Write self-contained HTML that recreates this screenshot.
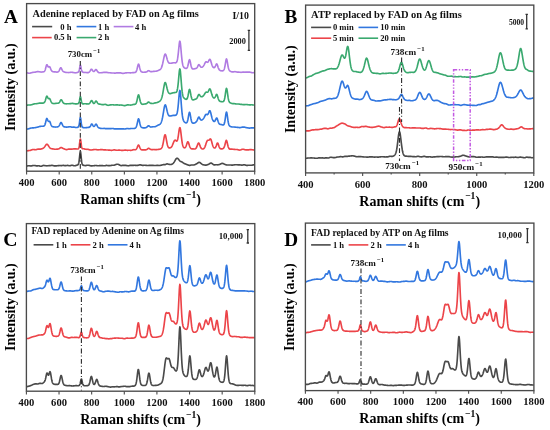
<!DOCTYPE html><html><head><meta charset="utf-8"><style>html,body{margin:0;padding:0;background:#fff;}svg{display:block}</style></head><body>
<svg width="550" height="430" viewBox="0 0 550 430">
<rect width="550" height="430" fill="#fff"/>
<defs>
<clipPath id="clipA"><rect x="26.6" y="3.6" width="228.1" height="167.6"/></clipPath>
<clipPath id="clipB"><rect x="305.6" y="5.1" width="228.19999999999993" height="167.8"/></clipPath>
<clipPath id="clipC"><rect x="26.4" y="223.6" width="228.4" height="167.6"/></clipPath>
<clipPath id="clipD"><rect x="305.4" y="223.1" width="228.5" height="167.50000000000003"/></clipPath>
</defs>
<g clip-path="url(#clipA)" fill="none" stroke-width="1.65" stroke-linejoin="round">
<polyline points="26.60,73.01 26.85,72.95 27.11,72.92 27.36,72.92 27.61,72.95 27.87,73.00 28.12,73.06 28.38,73.13 28.63,73.19 28.88,73.23 29.14,73.25 29.39,73.25 29.64,73.23 29.90,73.19 30.15,73.13 30.41,73.06 30.66,72.98 30.91,72.90 31.17,72.82 31.42,72.74 31.67,72.67 31.93,72.60 32.18,72.53 32.44,72.47 32.69,72.42 32.94,72.37 33.20,72.33 33.45,72.29 33.70,72.26 33.96,72.24 34.21,72.22 34.47,72.20 34.72,72.19 34.97,72.16 35.23,72.13 35.48,72.08 35.73,72.02 35.99,71.94 36.24,71.87 36.50,71.80 36.75,71.74 37.00,71.69 37.26,71.66 37.51,71.65 37.76,71.64 38.02,71.63 38.27,71.66 38.53,71.68 38.78,71.70 39.03,71.72 39.29,71.75 39.54,71.78 39.79,71.83 40.05,71.89 40.30,71.95 40.55,72.00 40.81,72.04 41.06,72.06 41.32,72.06 41.57,72.05 41.82,72.02 42.08,71.99 42.33,71.95 42.58,71.92 42.84,71.88 43.09,71.85 43.35,71.81 43.60,71.75 43.85,71.67 44.11,71.55 44.36,71.35 44.61,71.04 44.87,70.60 45.12,70.00 45.38,69.23 45.63,68.32 45.88,67.33 46.14,66.34 46.39,65.49 46.64,64.92 46.90,64.74 47.15,64.94 47.41,65.41 47.66,65.97 47.91,66.49 48.17,66.85 48.42,67.02 48.67,67.01 48.93,66.89 49.18,66.74 49.44,66.68 49.69,66.80 49.94,67.13 50.20,67.63 50.45,68.24 50.70,68.88 50.96,69.49 51.21,70.03 51.47,70.49 51.72,70.85 51.97,71.13 52.23,71.34 52.48,71.49 52.73,71.60 52.99,71.69 53.24,71.74 53.49,71.79 53.75,71.82 54.00,71.84 54.26,71.85 54.51,71.86 54.76,71.87 55.02,71.88 55.27,71.91 55.52,71.94 55.78,71.97 56.03,72.01 56.29,72.04 56.54,72.07 56.79,72.09 57.05,72.09 57.30,72.08 57.55,72.04 57.81,71.97 58.06,71.86 58.32,71.69 58.57,71.46 58.82,71.15 59.08,70.75 59.33,70.27 59.58,69.73 59.84,69.16 60.09,68.62 60.35,68.17 60.60,67.88 60.85,67.81 61.11,67.98 61.36,68.35 61.61,68.84 61.87,69.37 62.12,69.89 62.38,70.35 62.63,70.75 62.88,71.06 63.14,71.31 63.39,71.50 63.64,71.65 63.90,71.78 64.15,71.90 64.41,72.00 64.66,72.10 64.91,72.19 65.17,72.26 65.42,72.32 65.67,72.36 65.93,72.39 66.18,72.42 66.44,72.45 66.69,72.47 66.94,72.49 67.20,72.51 67.45,72.53 67.70,72.54 67.96,72.54 68.21,72.55 68.46,72.55 68.72,72.55 68.97,72.54 69.23,72.53 69.48,72.51 69.73,72.48 69.99,72.44 70.24,72.39 70.49,72.34 70.75,72.30 71.00,72.27 71.26,72.26 71.51,72.26 71.76,72.28 72.02,72.31 72.27,72.35 72.52,72.38 72.78,72.41 73.03,72.45 73.29,72.49 73.54,72.53 73.79,72.58 74.05,72.64 74.30,72.70 74.55,72.75 74.81,72.79 75.06,72.82 75.32,72.82 75.57,72.80 75.82,72.77 76.08,72.73 76.33,72.69 76.58,72.65 76.84,72.60 77.09,72.54 77.35,72.47 77.60,72.39 77.85,72.29 78.11,72.16 78.36,71.98 78.61,71.69 78.87,71.21 79.12,70.47 79.38,69.40 79.63,68.05 79.88,66.63 80.14,65.50 80.39,65.12 80.64,65.68 80.90,66.91 81.15,68.34 81.40,69.64 81.66,70.63 81.91,71.29 82.17,71.69 82.42,71.93 82.67,72.08 82.93,72.18 83.18,72.27 83.43,72.33 83.69,72.39 83.94,72.42 84.20,72.44 84.45,72.45 84.70,72.45 84.96,72.44 85.21,72.44 85.46,72.45 85.72,72.46 85.97,72.48 86.23,72.52 86.48,72.56 86.73,72.61 86.99,72.65 87.24,72.68 87.49,72.69 87.75,72.69 88.00,72.66 88.26,72.59 88.51,72.51 88.76,72.38 89.02,72.21 89.27,72.00 89.52,71.73 89.78,71.40 90.03,71.02 90.29,70.60 90.54,70.16 90.79,69.76 91.05,69.43 91.30,69.24 91.55,69.23 91.81,69.38 92.06,69.68 92.32,70.05 92.57,70.45 92.82,70.81 93.08,71.11 93.33,71.33 93.58,71.45 93.84,71.47 94.09,71.38 94.34,71.19 94.60,70.92 94.85,70.60 95.11,70.25 95.36,69.91 95.61,69.65 95.87,69.51 96.12,69.54 96.37,69.73 96.63,70.05 96.88,70.44 97.14,70.85 97.39,71.24 97.64,71.60 97.90,71.91 98.15,72.15 98.40,72.36 98.66,72.51 98.91,72.62 99.17,72.70 99.42,72.76 99.67,72.78 99.93,72.80 100.18,72.79 100.43,72.78 100.69,72.77 100.94,72.75 101.20,72.73 101.45,72.70 101.70,72.68 101.96,72.64 102.21,72.61 102.46,72.58 102.72,72.54 102.97,72.50 103.23,72.47 103.48,72.43 103.73,72.41 103.99,72.38 104.24,72.36 104.49,72.35 104.75,72.34 105.00,72.33 105.26,72.33 105.51,72.33 105.76,72.34 106.02,72.34 106.27,72.35 106.52,72.36 106.78,72.39 107.03,72.42 107.28,72.47 107.54,72.52 107.79,72.58 108.05,72.63 108.30,72.67 108.55,72.70 108.81,72.73 109.06,72.74 109.31,72.74 109.57,72.75 109.82,72.76 110.08,72.78 110.33,72.80 110.58,72.83 110.84,72.86 111.09,72.89 111.34,72.93 111.60,72.95 111.85,72.97 112.11,72.97 112.36,72.97 112.61,72.96 112.87,72.96 113.12,72.96 113.37,72.98 113.63,73.01 113.88,73.05 114.14,73.08 114.39,73.11 114.64,73.13 114.90,73.13 115.15,73.12 115.40,73.09 115.66,73.06 115.91,73.01 116.17,72.97 116.42,72.92 116.67,72.88 116.93,72.85 117.18,72.83 117.43,72.82 117.69,72.82 117.94,72.83 118.20,72.84 118.45,72.85 118.70,72.86 118.96,72.86 119.21,72.85 119.46,72.83 119.72,72.82 119.97,72.82 120.23,72.83 120.48,72.85 120.73,72.90 120.99,72.95 121.24,73.02 121.49,73.09 121.75,73.16 122.00,73.22 122.25,73.28 122.51,73.32 122.76,73.34 123.02,73.35 123.27,73.35 123.52,73.33 123.78,73.30 124.03,73.25 124.28,73.20 124.54,73.14 124.79,73.07 125.05,73.01 125.30,72.94 125.55,72.89 125.81,72.85 126.06,72.82 126.31,72.81 126.57,72.80 126.82,72.80 127.08,72.79 127.33,72.78 127.58,72.77 127.84,72.75 128.09,72.73 128.34,72.71 128.60,72.70 128.85,72.71 129.11,72.73 129.36,72.75 129.61,72.79 129.87,72.82 130.12,72.84 130.37,72.84 130.63,72.84 130.88,72.81 131.14,72.79 131.39,72.76 131.64,72.73 131.90,72.71 132.15,72.70 132.40,72.69 132.66,72.68 132.91,72.67 133.17,72.65 133.42,72.63 133.67,72.61 133.93,72.59 134.18,72.56 134.43,72.54 134.69,72.50 134.94,72.45 135.19,72.38 135.45,72.26 135.70,72.09 135.96,71.83 136.21,71.45 136.46,70.93 136.72,70.25 136.97,69.39 137.22,68.38 137.48,67.28 137.73,66.17 137.99,65.18 138.24,64.45 138.49,64.13 138.75,64.28 139.00,64.87 139.25,65.77 139.51,66.83 139.76,67.91 140.02,68.91 140.27,69.78 140.52,70.49 140.78,71.03 141.03,71.42 141.28,71.69 141.54,71.87 141.79,71.99 142.05,72.06 142.30,72.12 142.55,72.16 142.81,72.20 143.06,72.22 143.31,72.24 143.57,72.24 143.82,72.23 144.08,72.22 144.33,72.20 144.58,72.18 144.84,72.16 145.09,72.15 145.34,72.13 145.60,72.11 145.85,72.07 146.11,72.02 146.36,71.95 146.61,71.84 146.87,71.70 147.12,71.53 147.37,71.34 147.63,71.15 147.88,70.96 148.13,70.80 148.39,70.70 148.64,70.68 148.90,70.74 149.15,70.85 149.40,70.99 149.66,71.15 149.91,71.30 150.16,71.44 150.42,71.54 150.67,71.62 150.93,71.67 151.18,71.69 151.43,71.69 151.69,71.67 151.94,71.63 152.19,71.59 152.45,71.55 152.70,71.51 152.96,71.47 153.21,71.43 153.46,71.40 153.72,71.38 153.97,71.35 154.22,71.33 154.48,71.31 154.73,71.29 154.99,71.27 155.24,71.25 155.49,71.23 155.75,71.20 156.00,71.17 156.25,71.13 156.51,71.08 156.76,71.02 157.02,70.95 157.27,70.87 157.52,70.78 157.78,70.68 158.03,70.57 158.28,70.45 158.54,70.34 158.79,70.22 159.05,70.10 159.30,69.98 159.55,69.85 159.81,69.71 160.06,69.54 160.31,69.34 160.57,69.09 160.82,68.78 161.07,68.39 161.33,67.92 161.58,67.34 161.84,66.66 162.09,65.86 162.34,64.94 162.60,63.92 162.85,62.80 163.10,61.62 163.36,60.38 163.61,59.14 163.87,57.94 164.12,56.81 164.37,55.81 164.63,55.00 164.88,54.43 165.13,54.14 165.39,54.15 165.64,54.43 165.90,54.95 166.15,55.65 166.40,56.48 166.66,57.38 166.91,58.30 167.16,59.19 167.42,60.02 167.67,60.76 167.93,61.41 168.18,61.95 168.43,62.38 168.69,62.71 168.94,62.95 169.19,63.11 169.45,63.21 169.70,63.26 169.96,63.29 170.21,63.29 170.46,63.27 170.72,63.25 170.97,63.23 171.22,63.20 171.48,63.16 171.73,63.12 171.99,63.07 172.24,63.02 172.49,62.97 172.75,62.91 173.00,62.85 173.25,62.80 173.51,62.77 173.76,62.74 174.02,62.74 174.27,62.75 174.52,62.77 174.78,62.80 175.03,62.83 175.28,62.84 175.54,62.83 175.79,62.78 176.04,62.67 176.30,62.47 176.55,62.15 176.81,61.66 177.06,60.96 177.31,59.99 177.57,58.72 177.82,57.11 178.07,55.16 178.33,52.89 178.58,50.40 178.84,47.80 179.09,45.32 179.34,43.19 179.60,41.71 179.85,41.15 180.10,41.63 180.36,43.10 180.61,45.36 180.87,48.10 181.12,51.05 181.37,53.97 181.63,56.70 181.88,59.12 182.13,61.17 182.39,62.86 182.64,64.21 182.90,65.26 183.15,66.05 183.40,66.65 183.66,67.10 183.91,67.44 184.16,67.69 184.42,67.88 184.67,68.02 184.93,68.13 185.18,68.22 185.43,68.30 185.69,68.36 185.94,68.40 186.19,68.40 186.45,68.35 186.70,68.22 186.96,67.98 187.21,67.60 187.46,67.04 187.72,66.30 187.97,65.36 188.22,64.26 188.48,63.05 188.73,61.84 188.98,60.76 189.24,59.99 189.49,59.69 189.75,59.93 190.00,60.67 190.25,61.77 190.51,63.03 190.76,64.31 191.01,65.50 191.27,66.52 191.52,67.34 191.78,67.96 192.03,68.40 192.28,68.69 192.54,68.86 192.79,68.95 193.04,68.99 193.30,68.98 193.55,68.96 193.81,68.92 194.06,68.88 194.31,68.82 194.57,68.77 194.82,68.71 195.07,68.65 195.33,68.59 195.58,68.53 195.84,68.46 196.09,68.38 196.34,68.25 196.60,68.07 196.85,67.82 197.10,67.49 197.36,67.07 197.61,66.58 197.87,66.05 198.12,65.52 198.37,65.07 198.63,64.75 198.88,64.63 199.13,64.71 199.39,64.97 199.64,65.34 199.90,65.76 200.15,66.17 200.40,66.53 200.66,66.83 200.91,67.06 201.16,67.21 201.42,67.29 201.67,67.30 201.92,67.25 202.18,67.14 202.43,66.98 202.69,66.77 202.94,66.51 203.19,66.22 203.45,65.88 203.70,65.50 203.95,65.08 204.21,64.62 204.46,64.12 204.72,63.61 204.97,63.10 205.22,62.63 205.48,62.23 205.73,61.94 205.98,61.78 206.24,61.76 206.49,61.85 206.75,62.00 207.00,62.17 207.25,62.29 207.51,62.32 207.76,62.24 208.01,62.02 208.27,61.67 208.52,61.22 208.78,60.71 209.03,60.20 209.28,59.74 209.54,59.43 209.79,59.32 210.04,59.44 210.30,59.81 210.55,60.39 210.81,61.13 211.06,61.96 211.31,62.82 211.57,63.68 211.82,64.48 212.07,65.21 212.33,65.84 212.58,66.37 212.84,66.81 213.09,67.14 213.34,67.39 213.60,67.56 213.85,67.64 214.10,67.65 214.36,67.56 214.61,67.38 214.86,67.08 215.12,66.68 215.37,66.18 215.63,65.61 215.88,65.02 216.13,64.47 216.39,64.08 216.64,63.91 216.89,64.04 217.15,64.45 217.40,65.07 217.66,65.83 217.91,66.63 218.16,67.41 218.42,68.12 218.67,68.73 218.92,69.24 219.18,69.65 219.43,69.97 219.69,70.20 219.94,70.38 220.19,70.51 220.45,70.60 220.70,70.67 220.95,70.72 221.21,70.76 221.46,70.80 221.72,70.82 221.97,70.84 222.22,70.84 222.48,70.82 222.73,70.78 222.98,70.69 223.24,70.55 223.49,70.34 223.75,70.03 224.00,69.59 224.25,68.98 224.51,68.16 224.76,67.12 225.01,65.84 225.27,64.38 225.52,62.83 225.78,61.31 226.03,60.02 226.28,59.18 226.54,58.95 226.79,59.39 227.04,60.41 227.30,61.81 227.55,63.37 227.81,64.91 228.06,66.33 228.31,67.54 228.57,68.53 228.82,69.30 229.07,69.89 229.33,70.32 229.58,70.64 229.83,70.89 230.09,71.08 230.34,71.24 230.60,71.37 230.85,71.50 231.10,71.61 231.36,71.71 231.61,71.80 231.86,71.86 232.12,71.91 232.37,71.93 232.63,71.92 232.88,71.91 233.13,71.88 233.39,71.85 233.64,71.81 233.89,71.78 234.15,71.74 234.40,71.71 234.66,71.69 234.91,71.68 235.16,71.68 235.42,71.70 235.67,71.74 235.92,71.79 236.18,71.86 236.43,71.93 236.69,71.99 236.94,72.05 237.19,72.10 237.45,72.13 237.70,72.15 237.95,72.16 238.21,72.17 238.46,72.17 238.72,72.17 238.97,72.18 239.22,72.19 239.48,72.21 239.73,72.23 239.98,72.25 240.24,72.28 240.49,72.30 240.75,72.32 241.00,72.33 241.25,72.32 241.51,72.30 241.76,72.28 242.01,72.25 242.27,72.22 242.52,72.18 242.77,72.16 243.03,72.14 243.28,72.13 243.54,72.13 243.79,72.13 244.04,72.15 244.30,72.17 244.55,72.18 244.80,72.20 245.06,72.20 245.31,72.19 245.57,72.18 245.82,72.16 246.07,72.15 246.33,72.13 246.58,72.12 246.83,72.10 247.09,72.09 247.34,72.08 247.60,72.07 247.85,72.06 248.10,72.05 248.36,72.05 248.61,72.05 248.86,72.06 249.12,72.07 249.37,72.10 249.63,72.12 249.88,72.16 250.13,72.20 250.39,72.25 250.64,72.30 250.89,72.37 251.15,72.45 251.40,72.52 251.66,72.59 251.91,72.65 252.16,72.69 252.42,72.72 252.67,72.73 252.92,72.72 253.18,72.70 253.43,72.66 253.69,72.61 253.94,72.57 254.19,72.52 254.45,72.49 254.70,72.47" stroke="#b07be2"/>
<polyline points="26.60,105.19 26.85,105.16 27.11,105.13 27.36,105.10 27.61,105.07 27.87,105.04 28.12,105.01 28.38,104.99 28.63,104.98 28.88,104.97 29.14,104.97 29.39,104.98 29.64,104.99 29.90,105.00 30.15,104.99 30.41,104.97 30.66,104.93 30.91,104.88 31.17,104.82 31.42,104.76 31.67,104.69 31.93,104.63 32.18,104.56 32.44,104.49 32.69,104.41 32.94,104.33 33.20,104.24 33.45,104.15 33.70,104.06 33.96,103.97 34.21,103.89 34.47,103.82 34.72,103.77 34.97,103.74 35.23,103.73 35.48,103.73 35.73,103.74 35.99,103.74 36.24,103.73 36.50,103.71 36.75,103.67 37.00,103.63 37.26,103.57 37.51,103.51 37.76,103.45 38.02,103.40 38.27,103.34 38.53,103.29 38.78,103.24 39.03,103.19 39.29,103.14 39.54,103.10 39.79,103.08 40.05,103.08 40.30,103.09 40.55,103.10 40.81,103.11 41.06,103.13 41.32,103.15 41.57,103.17 41.82,103.18 42.08,103.19 42.33,103.19 42.58,103.18 42.84,103.15 43.09,103.11 43.35,103.05 43.60,102.97 43.85,102.85 44.11,102.68 44.36,102.44 44.61,102.10 44.87,101.64 45.12,101.04 45.38,100.31 45.63,99.45 45.88,98.52 46.14,97.61 46.39,96.84 46.64,96.33 46.90,96.19 47.15,96.40 47.41,96.88 47.66,97.44 47.91,97.97 48.17,98.35 48.42,98.56 48.67,98.60 48.93,98.53 49.18,98.45 49.44,98.46 49.69,98.63 49.94,99.00 50.20,99.53 50.45,100.14 50.70,100.78 50.96,101.38 51.21,101.92 51.47,102.37 51.72,102.72 51.97,102.99 52.23,103.19 52.48,103.33 52.73,103.42 52.99,103.48 53.24,103.52 53.49,103.55 53.75,103.56 54.00,103.57 54.26,103.56 54.51,103.55 54.76,103.53 55.02,103.49 55.27,103.46 55.52,103.42 55.78,103.38 56.03,103.35 56.29,103.32 56.54,103.30 56.79,103.28 57.05,103.27 57.30,103.25 57.55,103.24 57.81,103.22 58.06,103.19 58.32,103.15 58.57,103.07 58.82,102.94 59.08,102.75 59.33,102.48 59.58,102.13 59.84,101.70 60.09,101.22 60.35,100.72 60.60,100.26 60.85,99.92 61.11,99.75 61.36,99.80 61.61,100.06 61.87,100.46 62.12,100.93 62.38,101.43 62.63,101.91 62.88,102.33 63.14,102.69 63.39,102.97 63.64,103.19 63.90,103.35 64.15,103.48 64.41,103.57 64.66,103.64 64.91,103.69 65.17,103.74 65.42,103.77 65.67,103.80 65.93,103.81 66.18,103.81 66.44,103.80 66.69,103.80 66.94,103.79 67.20,103.78 67.45,103.78 67.70,103.79 67.96,103.79 68.21,103.79 68.46,103.78 68.72,103.77 68.97,103.74 69.23,103.72 69.48,103.70 69.73,103.68 69.99,103.66 70.24,103.64 70.49,103.62 70.75,103.59 71.00,103.56 71.26,103.52 71.51,103.48 71.76,103.44 72.02,103.42 72.27,103.40 72.52,103.42 72.78,103.44 73.03,103.49 73.29,103.54 73.54,103.59 73.79,103.64 74.05,103.68 74.30,103.72 74.55,103.75 74.81,103.79 75.06,103.82 75.32,103.85 75.57,103.88 75.82,103.90 76.08,103.90 76.33,103.90 76.58,103.88 76.84,103.85 77.09,103.82 77.35,103.78 77.60,103.73 77.85,103.68 78.11,103.60 78.36,103.46 78.61,103.21 78.87,102.77 79.12,102.03 79.38,100.96 79.63,99.59 79.88,98.14 80.14,96.99 80.39,96.60 80.64,97.17 80.90,98.42 81.15,99.90 81.40,101.25 81.66,102.30 81.91,103.02 82.17,103.46 82.42,103.70 82.67,103.82 82.93,103.87 83.18,103.88 83.43,103.87 83.69,103.84 83.94,103.80 84.20,103.77 84.45,103.74 84.70,103.73 84.96,103.73 85.21,103.74 85.46,103.76 85.72,103.78 85.97,103.80 86.23,103.82 86.48,103.84 86.73,103.86 86.99,103.88 87.24,103.91 87.49,103.93 87.75,103.95 88.00,103.97 88.26,103.96 88.51,103.94 88.76,103.88 89.02,103.78 89.27,103.63 89.52,103.41 89.78,103.12 90.03,102.77 90.29,102.35 90.54,101.91 90.79,101.46 91.05,101.06 91.30,100.75 91.55,100.60 91.81,100.64 92.06,100.88 92.32,101.28 92.57,101.77 92.82,102.27 93.08,102.74 93.33,103.11 93.58,103.37 93.84,103.48 94.09,103.44 94.34,103.27 94.60,102.98 94.85,102.60 95.11,102.17 95.36,101.74 95.61,101.39 95.87,101.16 96.12,101.10 96.37,101.23 96.63,101.50 96.88,101.87 97.14,102.27 97.39,102.67 97.64,103.03 97.90,103.34 98.15,103.59 98.40,103.79 98.66,103.92 98.91,104.02 99.17,104.08 99.42,104.12 99.67,104.15 99.93,104.18 100.18,104.22 100.43,104.26 100.69,104.32 100.94,104.38 101.20,104.44 101.45,104.50 101.70,104.56 101.96,104.60 102.21,104.63 102.46,104.64 102.72,104.65 102.97,104.64 103.23,104.62 103.48,104.60 103.73,104.57 103.99,104.54 104.24,104.49 104.49,104.45 104.75,104.41 105.00,104.39 105.26,104.38 105.51,104.40 105.76,104.45 106.02,104.53 106.27,104.63 106.52,104.76 106.78,104.89 107.03,105.02 107.28,105.13 107.54,105.23 107.79,105.29 108.05,105.31 108.30,105.31 108.55,105.27 108.81,105.21 109.06,105.15 109.31,105.08 109.57,105.02 109.82,104.97 110.08,104.93 110.33,104.91 110.58,104.88 110.84,104.86 111.09,104.83 111.34,104.81 111.60,104.78 111.85,104.75 112.11,104.73 112.36,104.73 112.61,104.73 112.87,104.75 113.12,104.79 113.37,104.83 113.63,104.87 113.88,104.91 114.14,104.95 114.39,104.97 114.64,104.98 114.90,104.99 115.15,104.97 115.40,104.96 115.66,104.93 115.91,104.90 116.17,104.88 116.42,104.86 116.67,104.86 116.93,104.86 117.18,104.88 117.43,104.91 117.69,104.94 117.94,104.97 118.20,105.00 118.45,105.03 118.70,105.05 118.96,105.06 119.21,105.06 119.46,105.07 119.72,105.06 119.97,105.05 120.23,105.05 120.48,105.04 120.73,105.03 120.99,105.03 121.24,105.05 121.49,105.07 121.75,105.11 122.00,105.15 122.25,105.21 122.51,105.26 122.76,105.32 123.02,105.38 123.27,105.44 123.52,105.50 123.78,105.54 124.03,105.58 124.28,105.61 124.54,105.62 124.79,105.60 125.05,105.57 125.30,105.52 125.55,105.45 125.81,105.36 126.06,105.28 126.31,105.18 126.57,105.10 126.82,105.02 127.08,104.96 127.33,104.93 127.58,104.91 127.84,104.90 128.09,104.91 128.34,104.93 128.60,104.94 128.85,104.96 129.11,104.97 129.36,104.99 129.61,105.01 129.87,105.03 130.12,105.05 130.37,105.06 130.63,105.07 130.88,105.06 131.14,105.04 131.39,105.00 131.64,104.95 131.90,104.89 132.15,104.82 132.40,104.74 132.66,104.67 132.91,104.59 133.17,104.52 133.42,104.47 133.67,104.43 133.93,104.40 134.18,104.38 134.43,104.38 134.69,104.36 134.94,104.31 135.19,104.23 135.45,104.08 135.70,103.84 135.96,103.50 136.21,103.02 136.46,102.39 136.72,101.58 136.97,100.60 137.22,99.48 137.48,98.26 137.73,97.04 137.99,95.96 138.24,95.18 138.49,94.85 138.75,95.04 139.00,95.71 139.25,96.72 139.51,97.90 139.76,99.11 140.02,100.24 140.27,101.23 140.52,102.05 140.78,102.69 141.03,103.18 141.28,103.55 141.54,103.82 141.79,104.01 142.05,104.15 142.30,104.24 142.55,104.30 142.81,104.32 143.06,104.31 143.31,104.27 143.57,104.23 143.82,104.17 144.08,104.11 144.33,104.05 144.58,104.01 144.84,103.97 145.09,103.94 145.34,103.92 145.60,103.89 145.85,103.85 146.11,103.79 146.36,103.70 146.61,103.57 146.87,103.39 147.12,103.17 147.37,102.91 147.63,102.64 147.88,102.39 148.13,102.18 148.39,102.06 148.64,102.04 148.90,102.13 149.15,102.30 149.40,102.51 149.66,102.73 149.91,102.93 150.16,103.10 150.42,103.23 150.67,103.32 150.93,103.37 151.18,103.40 151.43,103.42 151.69,103.44 151.94,103.47 152.19,103.50 152.45,103.52 152.70,103.53 152.96,103.53 153.21,103.49 153.46,103.43 153.72,103.34 153.97,103.24 154.22,103.13 154.48,103.04 154.73,102.95 154.99,102.90 155.24,102.86 155.49,102.83 155.75,102.81 156.00,102.78 156.25,102.74 156.51,102.68 156.76,102.61 157.02,102.53 157.27,102.45 157.52,102.36 157.78,102.27 158.03,102.17 158.28,102.05 158.54,101.93 158.79,101.79 159.05,101.63 159.30,101.46 159.55,101.27 159.81,101.06 160.06,100.82 160.31,100.55 160.57,100.22 160.82,99.84 161.07,99.38 161.33,98.83 161.58,98.18 161.84,97.42 162.09,96.54 162.34,95.53 162.60,94.38 162.85,93.10 163.10,91.71 163.36,90.23 163.61,88.72 163.87,87.22 164.12,85.81 164.37,84.56 164.63,83.56 164.88,82.87 165.13,82.54 165.39,82.58 165.64,82.97 165.90,83.65 166.15,84.54 166.40,85.57 166.66,86.66 166.91,87.75 167.16,88.80 167.42,89.75 167.67,90.60 167.93,91.32 168.18,91.93 168.43,92.42 168.69,92.81 168.94,93.11 169.19,93.33 169.45,93.48 169.70,93.58 169.96,93.63 170.21,93.64 170.46,93.61 170.72,93.55 170.97,93.48 171.22,93.39 171.48,93.30 171.73,93.21 171.99,93.12 172.24,93.05 172.49,92.98 172.75,92.91 173.00,92.85 173.25,92.79 173.51,92.74 173.76,92.69 174.02,92.64 174.27,92.60 174.52,92.58 174.78,92.56 175.03,92.55 175.28,92.54 175.54,92.52 175.79,92.48 176.04,92.39 176.30,92.22 176.55,91.93 176.81,91.47 177.06,90.78 177.31,89.79 177.57,88.44 177.82,86.70 178.07,84.55 178.33,82.04 178.58,79.26 178.84,76.36 179.09,73.57 179.34,71.20 179.60,69.55 179.85,68.93 180.10,69.48 180.36,71.16 180.61,73.71 180.87,76.81 181.12,80.14 181.37,83.42 181.63,86.46 181.88,89.14 182.13,91.38 182.39,93.19 182.64,94.60 182.90,95.67 183.15,96.46 183.40,97.06 183.66,97.51 183.91,97.86 184.16,98.15 184.42,98.39 184.67,98.60 184.93,98.79 185.18,98.96 185.43,99.10 185.69,99.22 185.94,99.31 186.19,99.34 186.45,99.30 186.70,99.17 186.96,98.91 187.21,98.49 187.46,97.87 187.72,97.03 187.97,95.97 188.22,94.72 188.48,93.33 188.73,91.94 188.98,90.68 189.24,89.76 189.49,89.36 189.75,89.56 190.00,90.33 190.25,91.51 190.51,92.90 190.76,94.33 191.01,95.68 191.27,96.87 191.52,97.85 191.78,98.60 192.03,99.15 192.28,99.52 192.54,99.75 192.79,99.87 193.04,99.90 193.30,99.88 193.55,99.83 193.81,99.75 194.06,99.65 194.31,99.55 194.57,99.46 194.82,99.37 195.07,99.29 195.33,99.21 195.58,99.13 195.84,99.04 196.09,98.92 196.34,98.75 196.60,98.52 196.85,98.20 197.10,97.79 197.36,97.30 197.61,96.74 197.87,96.15 198.12,95.56 198.37,95.04 198.63,94.66 198.88,94.47 199.13,94.49 199.39,94.68 199.64,94.98 199.90,95.34 200.15,95.71 200.40,96.04 200.66,96.32 200.91,96.52 201.16,96.67 201.42,96.74 201.67,96.76 201.92,96.73 202.18,96.66 202.43,96.54 202.69,96.39 202.94,96.19 203.19,95.96 203.45,95.68 203.70,95.36 203.95,95.00 204.21,94.61 204.46,94.20 204.72,93.78 204.97,93.36 205.22,92.97 205.48,92.63 205.73,92.36 205.98,92.19 206.24,92.13 206.49,92.14 206.75,92.21 207.00,92.27 207.25,92.30 207.51,92.25 207.76,92.09 208.01,91.82 208.27,91.42 208.52,90.94 208.78,90.39 209.03,89.84 209.28,89.36 209.54,89.01 209.79,88.88 210.04,89.01 210.30,89.40 210.55,90.02 210.81,90.80 211.06,91.69 211.31,92.61 211.57,93.51 211.82,94.37 212.07,95.14 212.33,95.82 212.58,96.40 212.84,96.89 213.09,97.28 213.34,97.58 213.60,97.80 213.85,97.94 214.10,97.99 214.36,97.94 214.61,97.79 214.86,97.52 215.12,97.13 215.37,96.64 215.63,96.07 215.88,95.48 216.13,94.94 216.39,94.55 216.64,94.40 216.89,94.56 217.15,95.02 217.40,95.71 217.66,96.54 217.91,97.40 218.16,98.25 218.42,99.01 218.67,99.66 218.92,100.19 219.18,100.61 219.43,100.92 219.69,101.14 219.94,101.30 220.19,101.41 220.45,101.49 220.70,101.55 220.95,101.59 221.21,101.62 221.46,101.65 221.72,101.68 221.97,101.70 222.22,101.71 222.48,101.72 222.73,101.71 222.98,101.66 223.24,101.57 223.49,101.40 223.75,101.12 224.00,100.68 224.25,100.03 224.51,99.12 224.76,97.94 225.01,96.49 225.27,94.80 225.52,92.98 225.78,91.19 226.03,89.65 226.28,88.62 226.54,88.30 226.79,88.80 227.04,89.99 227.30,91.65 227.55,93.52 227.81,95.40 228.06,97.14 228.31,98.63 228.57,99.84 228.82,100.77 229.07,101.45 229.33,101.93 229.58,102.28 229.83,102.52 230.09,102.71 230.34,102.86 230.60,102.99 230.85,103.11 231.10,103.22 231.36,103.31 231.61,103.40 231.86,103.47 232.12,103.52 232.37,103.56 232.63,103.59 232.88,103.61 233.13,103.61 233.39,103.61 233.64,103.61 233.89,103.62 234.15,103.63 234.40,103.66 234.66,103.71 234.91,103.76 235.16,103.81 235.42,103.86 235.67,103.90 235.92,103.94 236.18,103.97 236.43,103.99 236.69,104.00 236.94,104.01 237.19,104.01 237.45,104.01 237.70,104.01 237.95,104.00 238.21,104.00 238.46,104.01 238.72,104.03 238.97,104.06 239.22,104.10 239.48,104.15 239.73,104.20 239.98,104.25 240.24,104.29 240.49,104.32 240.75,104.34 241.00,104.36 241.25,104.38 241.51,104.39 241.76,104.41 242.01,104.45 242.27,104.48 242.52,104.52 242.77,104.57 243.03,104.61 243.28,104.64 243.54,104.66 243.79,104.67 244.04,104.67 244.30,104.66 244.55,104.64 244.80,104.62 245.06,104.60 245.31,104.57 245.57,104.55 245.82,104.53 246.07,104.53 246.33,104.53 246.58,104.55 246.83,104.58 247.09,104.61 247.34,104.65 247.60,104.68 247.85,104.71 248.10,104.74 248.36,104.77 248.61,104.79 248.86,104.81 249.12,104.84 249.37,104.85 249.63,104.87 249.88,104.87 250.13,104.87 250.39,104.85 250.64,104.83 250.89,104.81 251.15,104.79 251.40,104.78 251.66,104.78 251.91,104.79 252.16,104.82 252.42,104.86 252.67,104.91 252.92,104.95 253.18,104.99 253.43,105.01 253.69,105.02 253.94,105.02 254.19,105.01 254.45,104.99 254.70,104.97" stroke="#3aa96f"/>
<polyline points="26.60,129.14 26.85,129.10 27.11,129.07 27.36,129.04 27.61,129.01 27.87,128.98 28.12,128.93 28.38,128.87 28.63,128.80 28.88,128.71 29.14,128.62 29.39,128.53 29.64,128.43 29.90,128.35 30.15,128.27 30.41,128.20 30.66,128.14 30.91,128.09 31.17,128.05 31.42,128.01 31.67,127.97 31.93,127.95 32.18,127.93 32.44,127.91 32.69,127.90 32.94,127.88 33.20,127.87 33.45,127.85 33.70,127.83 33.96,127.80 34.21,127.77 34.47,127.73 34.72,127.70 34.97,127.67 35.23,127.63 35.48,127.60 35.73,127.55 35.99,127.50 36.24,127.44 36.50,127.38 36.75,127.32 37.00,127.26 37.26,127.20 37.51,127.13 37.76,127.07 38.02,127.00 38.27,126.92 38.53,126.84 38.78,126.76 39.03,126.67 39.29,126.58 39.54,126.49 39.79,126.43 40.05,126.40 40.30,126.37 40.55,126.34 40.81,126.31 41.06,126.29 41.32,126.28 41.57,126.27 41.82,126.25 42.08,126.24 42.33,126.23 42.58,126.22 42.84,126.21 43.09,126.20 43.35,126.18 43.60,126.15 43.85,126.08 44.11,125.95 44.36,125.73 44.61,125.38 44.87,124.88 45.12,124.21 45.38,123.35 45.63,122.35 45.88,121.25 46.14,120.18 46.39,119.26 46.64,118.65 46.90,118.47 47.15,118.72 47.41,119.27 47.66,119.94 47.91,120.57 48.17,121.04 48.42,121.30 48.67,121.38 48.93,121.31 49.18,121.23 49.44,121.23 49.69,121.42 49.94,121.83 50.20,122.41 50.45,123.10 50.70,123.82 50.96,124.50 51.21,125.11 51.47,125.61 51.72,126.00 51.97,126.29 52.23,126.49 52.48,126.62 52.73,126.71 52.99,126.77 53.24,126.81 53.49,126.85 53.75,126.89 54.00,126.92 54.26,126.96 54.51,126.98 54.76,127.01 55.02,127.03 55.27,127.04 55.52,127.05 55.78,127.05 56.03,127.05 56.29,127.04 56.54,127.03 56.79,127.00 57.05,126.97 57.30,126.92 57.55,126.86 57.81,126.78 58.06,126.66 58.32,126.51 58.57,126.31 58.82,126.05 59.08,125.72 59.33,125.33 59.58,124.87 59.84,124.36 60.09,123.82 60.35,123.31 60.60,122.88 60.85,122.59 61.11,122.50 61.36,122.65 61.61,123.01 61.87,123.51 62.12,124.08 62.38,124.65 62.63,125.18 62.88,125.64 63.14,126.02 63.39,126.32 63.64,126.54 63.90,126.69 64.15,126.79 64.41,126.86 64.66,126.91 64.91,126.94 65.17,126.98 65.42,127.01 65.67,127.05 65.93,127.08 66.18,127.10 66.44,127.11 66.69,127.11 66.94,127.10 67.20,127.07 67.45,127.05 67.70,127.02 67.96,126.99 68.21,126.96 68.46,126.93 68.72,126.90 68.97,126.86 69.23,126.82 69.48,126.79 69.73,126.77 69.99,126.76 70.24,126.77 70.49,126.81 70.75,126.87 71.00,126.94 71.26,127.02 71.51,127.09 71.76,127.15 72.02,127.19 72.27,127.21 72.52,127.20 72.78,127.17 73.03,127.14 73.29,127.11 73.54,127.09 73.79,127.09 74.05,127.10 74.30,127.14 74.55,127.19 74.81,127.26 75.06,127.33 75.32,127.39 75.57,127.44 75.82,127.48 76.08,127.51 76.33,127.51 76.58,127.49 76.84,127.47 77.09,127.43 77.35,127.38 77.60,127.31 77.85,127.23 78.11,127.11 78.36,126.90 78.61,126.53 78.87,125.88 79.12,124.84 79.38,123.33 79.63,121.44 79.88,119.45 80.14,117.88 80.39,117.37 80.64,118.19 80.90,119.95 81.15,122.01 81.40,123.89 81.66,125.35 81.91,126.33 82.17,126.93 82.42,127.26 82.67,127.44 82.93,127.54 83.18,127.60 83.43,127.63 83.69,127.66 83.94,127.67 84.20,127.69 84.45,127.70 84.70,127.70 84.96,127.71 85.21,127.71 85.46,127.70 85.72,127.69 85.97,127.68 86.23,127.66 86.48,127.64 86.73,127.60 86.99,127.57 87.24,127.53 87.49,127.50 87.75,127.46 88.00,127.44 88.26,127.42 88.51,127.40 88.76,127.38 89.02,127.34 89.27,127.27 89.52,127.13 89.78,126.92 90.03,126.63 90.29,126.24 90.54,125.78 90.79,125.28 91.05,124.79 91.30,124.36 91.55,124.08 91.81,124.00 92.06,124.13 92.32,124.43 92.57,124.85 92.82,125.31 93.08,125.74 93.33,126.10 93.58,126.34 93.84,126.46 94.09,126.43 94.34,126.26 94.60,125.98 94.85,125.60 95.11,125.18 95.36,124.76 95.61,124.41 95.87,124.20 96.12,124.19 96.37,124.38 96.63,124.72 96.88,125.17 97.14,125.67 97.39,126.15 97.64,126.60 97.90,126.97 98.15,127.28 98.40,127.52 98.66,127.71 98.91,127.85 99.17,127.97 99.42,128.06 99.67,128.14 99.93,128.22 100.18,128.28 100.43,128.34 100.69,128.38 100.94,128.42 101.20,128.44 101.45,128.46 101.70,128.47 101.96,128.48 102.21,128.48 102.46,128.49 102.72,128.49 102.97,128.48 103.23,128.47 103.48,128.45 103.73,128.43 103.99,128.42 104.24,128.42 104.49,128.44 104.75,128.47 105.00,128.52 105.26,128.57 105.51,128.62 105.76,128.65 106.02,128.67 106.27,128.67 106.52,128.66 106.78,128.64 107.03,128.63 107.28,128.62 107.54,128.61 107.79,128.60 108.05,128.60 108.30,128.60 108.55,128.59 108.81,128.58 109.06,128.57 109.31,128.56 109.57,128.56 109.82,128.56 110.08,128.56 110.33,128.56 110.58,128.56 110.84,128.56 111.09,128.56 111.34,128.55 111.60,128.55 111.85,128.54 112.11,128.53 112.36,128.53 112.61,128.54 112.87,128.55 113.12,128.58 113.37,128.61 113.63,128.66 113.88,128.71 114.14,128.77 114.39,128.82 114.64,128.86 114.90,128.90 115.15,128.92 115.40,128.92 115.66,128.92 115.91,128.92 116.17,128.91 116.42,128.90 116.67,128.89 116.93,128.89 117.18,128.88 117.43,128.88 117.69,128.88 117.94,128.88 118.20,128.88 118.45,128.88 118.70,128.88 118.96,128.88 119.21,128.88 119.46,128.88 119.72,128.89 119.97,128.90 120.23,128.90 120.48,128.90 120.73,128.90 120.99,128.90 121.24,128.89 121.49,128.88 121.75,128.87 122.00,128.86 122.25,128.85 122.51,128.85 122.76,128.85 123.02,128.86 123.27,128.86 123.52,128.88 123.78,128.89 124.03,128.92 124.28,128.95 124.54,128.96 124.79,128.96 125.05,128.95 125.30,128.92 125.55,128.87 125.81,128.81 126.06,128.75 126.31,128.68 126.57,128.61 126.82,128.57 127.08,128.54 127.33,128.53 127.58,128.54 127.84,128.57 128.09,128.62 128.34,128.66 128.60,128.71 128.85,128.74 129.11,128.75 129.36,128.75 129.61,128.73 129.87,128.69 130.12,128.64 130.37,128.59 130.63,128.55 130.88,128.52 131.14,128.50 131.39,128.50 131.64,128.50 131.90,128.51 132.15,128.52 132.40,128.52 132.66,128.52 132.91,128.52 133.17,128.52 133.42,128.51 133.67,128.51 133.93,128.49 134.18,128.47 134.43,128.43 134.69,128.37 134.94,128.28 135.19,128.15 135.45,127.97 135.70,127.72 135.96,127.38 136.21,126.92 136.46,126.32 136.72,125.55 136.97,124.60 137.22,123.50 137.48,122.30 137.73,121.08 137.99,119.99 138.24,119.18 138.49,118.80 138.75,118.95 139.00,119.57 139.25,120.55 139.51,121.70 139.76,122.88 140.02,123.99 140.27,124.96 140.52,125.74 140.78,126.34 141.03,126.78 141.28,127.09 141.54,127.31 141.79,127.46 142.05,127.57 142.30,127.66 142.55,127.74 142.81,127.80 143.06,127.86 143.31,127.90 143.57,127.92 143.82,127.93 144.08,127.93 144.33,127.92 144.58,127.90 144.84,127.87 145.09,127.83 145.34,127.79 145.60,127.73 145.85,127.65 146.11,127.55 146.36,127.41 146.61,127.24 146.87,127.03 147.12,126.79 147.37,126.54 147.63,126.29 147.88,126.06 148.13,125.89 148.39,125.79 148.64,125.79 148.90,125.88 149.15,126.04 149.40,126.24 149.66,126.46 149.91,126.66 150.16,126.83 150.42,126.95 150.67,127.03 150.93,127.06 151.18,127.05 151.43,127.01 151.69,126.96 151.94,126.90 152.19,126.86 152.45,126.82 152.70,126.80 152.96,126.79 153.21,126.78 153.46,126.79 153.72,126.79 153.97,126.79 154.22,126.78 154.48,126.76 154.73,126.72 154.99,126.67 155.24,126.60 155.49,126.52 155.75,126.41 156.00,126.29 156.25,126.15 156.51,126.00 156.76,125.84 157.02,125.68 157.27,125.54 157.52,125.39 157.78,125.27 158.03,125.15 158.28,125.05 158.54,124.96 158.79,124.87 159.05,124.77 159.30,124.65 159.55,124.51 159.81,124.34 160.06,124.12 160.31,123.84 160.57,123.50 160.82,123.09 161.07,122.60 161.33,122.01 161.58,121.31 161.84,120.48 162.09,119.53 162.34,118.44 162.60,117.21 162.85,115.85 163.10,114.38 163.36,112.84 163.61,111.27 163.87,109.73 164.12,108.29 164.37,107.01 164.63,105.99 164.88,105.27 165.13,104.92 165.39,104.94 165.64,105.31 165.90,105.96 166.15,106.84 166.40,107.87 166.66,108.97 166.91,110.08 167.16,111.16 167.42,112.16 167.67,113.07 167.93,113.85 168.18,114.50 168.43,115.02 168.69,115.41 168.94,115.70 169.19,115.88 169.45,115.99 169.70,116.04 169.96,116.04 170.21,116.02 170.46,115.98 170.72,115.93 170.97,115.88 171.22,115.83 171.48,115.77 171.73,115.72 171.99,115.66 172.24,115.60 172.49,115.54 172.75,115.48 173.00,115.43 173.25,115.39 173.51,115.35 173.76,115.33 174.02,115.32 174.27,115.32 174.52,115.33 174.78,115.34 175.03,115.34 175.28,115.33 175.54,115.29 175.79,115.22 176.04,115.08 176.30,114.86 176.55,114.51 176.81,113.99 177.06,113.25 177.31,112.21 177.57,110.81 177.82,109.01 178.07,106.80 178.33,104.21 178.58,101.33 178.84,98.31 179.09,95.40 179.34,92.89 179.60,91.12 179.85,90.41 180.10,90.92 180.36,92.59 180.61,95.18 180.87,98.36 181.12,101.79 181.37,105.21 181.63,108.41 181.88,111.27 182.13,113.71 182.39,115.73 182.64,117.34 182.90,118.60 183.15,119.58 183.40,120.32 183.66,120.89 183.91,121.33 184.16,121.68 184.42,121.97 184.67,122.20 184.93,122.39 185.18,122.55 185.43,122.68 185.69,122.77 185.94,122.83 186.19,122.84 186.45,122.77 186.70,122.62 186.96,122.33 187.21,121.88 187.46,121.22 187.72,120.34 187.97,119.22 188.22,117.90 188.48,116.44 188.73,114.96 188.98,113.64 189.24,112.68 189.49,112.27 189.75,112.51 190.00,113.34 190.25,114.60 190.51,116.07 190.76,117.57 191.01,118.97 191.27,120.18 191.52,121.15 191.78,121.89 192.03,122.41 192.28,122.76 192.54,122.97 192.79,123.09 193.04,123.15 193.30,123.17 193.55,123.15 193.81,123.12 194.06,123.07 194.31,123.00 194.57,122.91 194.82,122.80 195.07,122.68 195.33,122.53 195.58,122.36 195.84,122.17 196.09,121.94 196.34,121.67 196.60,121.34 196.85,120.94 197.10,120.46 197.36,119.91 197.61,119.29 197.87,118.65 198.12,118.04 198.37,117.52 198.63,117.18 198.88,117.08 199.13,117.23 199.39,117.58 199.64,118.05 199.90,118.56 200.15,119.04 200.40,119.45 200.66,119.77 200.91,119.97 201.16,120.07 201.42,120.08 201.67,120.01 201.92,119.89 202.18,119.73 202.43,119.54 202.69,119.33 202.94,119.09 203.19,118.83 203.45,118.53 203.70,118.18 203.95,117.78 204.21,117.33 204.46,116.83 204.72,116.31 204.97,115.79 205.22,115.30 205.48,114.88 205.73,114.57 205.98,114.39 206.24,114.34 206.49,114.39 206.75,114.50 207.00,114.62 207.25,114.67 207.51,114.63 207.76,114.45 208.01,114.12 208.27,113.65 208.52,113.07 208.78,112.42 209.03,111.77 209.28,111.21 209.54,110.83 209.79,110.71 210.04,110.90 210.30,111.39 210.55,112.15 210.81,113.08 211.06,114.13 211.31,115.21 211.57,116.26 211.82,117.25 212.07,118.14 212.33,118.93 212.58,119.60 212.84,120.16 213.09,120.60 213.34,120.95 213.60,121.21 213.85,121.38 214.10,121.46 214.36,121.45 214.61,121.32 214.86,121.08 215.12,120.72 215.37,120.25 215.63,119.70 215.88,119.11 216.13,118.56 216.39,118.14 216.64,117.97 216.89,118.09 217.15,118.51 217.40,119.15 217.66,119.93 217.91,120.74 218.16,121.53 218.42,122.23 218.67,122.83 218.92,123.32 219.18,123.69 219.43,123.97 219.69,124.16 219.94,124.29 220.19,124.38 220.45,124.43 220.70,124.47 220.95,124.50 221.21,124.53 221.46,124.57 221.72,124.62 221.97,124.69 222.22,124.78 222.48,124.87 222.73,124.94 222.98,124.99 223.24,124.98 223.49,124.90 223.75,124.69 224.00,124.31 224.25,123.72 224.51,122.86 224.76,121.71 225.01,120.27 225.27,118.59 225.52,116.77 225.78,114.98 226.03,113.44 226.28,112.42 226.54,112.13 226.79,112.65 227.04,113.86 227.30,115.54 227.55,117.42 227.81,119.29 228.06,120.99 228.31,122.45 228.57,123.61 228.82,124.49 229.07,125.14 229.33,125.59 229.58,125.91 229.83,126.14 230.09,126.31 230.34,126.45 230.60,126.57 230.85,126.66 231.10,126.75 231.36,126.82 231.61,126.88 231.86,126.92 232.12,126.96 232.37,126.98 232.63,127.00 232.88,127.01 233.13,127.02 233.39,127.02 233.64,127.01 233.89,127.01 234.15,127.02 234.40,127.04 234.66,127.06 234.91,127.10 235.16,127.14 235.42,127.18 235.67,127.22 235.92,127.25 236.18,127.27 236.43,127.29 236.69,127.30 236.94,127.32 237.19,127.33 237.45,127.35 237.70,127.37 237.95,127.39 238.21,127.42 238.46,127.45 238.72,127.49 238.97,127.53 239.22,127.57 239.48,127.60 239.73,127.61 239.98,127.61 240.24,127.60 240.49,127.56 240.75,127.52 241.00,127.46 241.25,127.39 241.51,127.32 241.76,127.26 242.01,127.20 242.27,127.16 242.52,127.13 242.77,127.11 243.03,127.10 243.28,127.09 243.54,127.09 243.79,127.10 244.04,127.12 244.30,127.14 244.55,127.18 244.80,127.23 245.06,127.30 245.31,127.37 245.57,127.44 245.82,127.51 246.07,127.58 246.33,127.63 246.58,127.68 246.83,127.72 247.09,127.76 247.34,127.80 247.60,127.83 247.85,127.87 248.10,127.92 248.36,127.97 248.61,128.01 248.86,128.06 249.12,128.09 249.37,128.10 249.63,128.10 249.88,128.08 250.13,128.05 250.39,128.01 250.64,127.97 250.89,127.92 251.15,127.89 251.40,127.85 251.66,127.83 251.91,127.81 252.16,127.81 252.42,127.81 252.67,127.82 252.92,127.84 253.18,127.87 253.43,127.89 253.69,127.92 253.94,127.93 254.19,127.94 254.45,127.96 254.70,127.97" stroke="#3277df"/>
<polyline points="26.60,150.91 26.85,150.88 27.11,150.85 27.36,150.80 27.61,150.76 27.87,150.71 28.12,150.67 28.38,150.63 28.63,150.60 28.88,150.57 29.14,150.54 29.39,150.52 29.64,150.48 29.90,150.45 30.15,150.40 30.41,150.34 30.66,150.26 30.91,150.18 31.17,150.08 31.42,149.98 31.67,149.88 31.93,149.77 32.18,149.68 32.44,149.60 32.69,149.54 32.94,149.51 33.20,149.49 33.45,149.50 33.70,149.53 33.96,149.57 34.21,149.61 34.47,149.65 34.72,149.68 34.97,149.71 35.23,149.71 35.48,149.70 35.73,149.68 35.99,149.64 36.24,149.59 36.50,149.52 36.75,149.44 37.00,149.36 37.26,149.29 37.51,149.22 37.76,149.17 38.02,149.14 38.27,149.13 38.53,149.14 38.78,149.16 39.03,149.18 39.29,149.19 39.54,149.19 39.79,149.19 40.05,149.17 40.30,149.14 40.55,149.09 40.81,149.03 41.06,148.97 41.32,148.91 41.57,148.84 41.82,148.77 42.08,148.70 42.33,148.62 42.58,148.52 42.84,148.40 43.09,148.25 43.35,148.09 43.60,147.89 43.85,147.67 44.11,147.41 44.36,147.12 44.61,146.81 44.87,146.46 45.12,146.10 45.38,145.72 45.63,145.35 45.88,145.01 46.14,144.71 46.39,144.48 46.64,144.33 46.90,144.28 47.15,144.33 47.41,144.47 47.66,144.69 47.91,144.99 48.17,145.33 48.42,145.71 48.67,146.10 48.93,146.50 49.18,146.88 49.44,147.24 49.69,147.56 49.94,147.84 50.20,148.08 50.45,148.27 50.70,148.43 50.96,148.55 51.21,148.64 51.47,148.71 51.72,148.75 51.97,148.79 52.23,148.82 52.48,148.85 52.73,148.87 52.99,148.90 53.24,148.94 53.49,148.99 53.75,149.04 54.00,149.09 54.26,149.15 54.51,149.20 54.76,149.24 55.02,149.27 55.27,149.28 55.52,149.28 55.78,149.27 56.03,149.25 56.29,149.22 56.54,149.19 56.79,149.16 57.05,149.13 57.30,149.11 57.55,149.09 57.81,149.06 58.06,149.03 58.32,148.98 58.57,148.91 58.82,148.81 59.08,148.69 59.33,148.54 59.58,148.37 59.84,148.18 60.09,148.00 60.35,147.82 60.60,147.67 60.85,147.56 61.11,147.51 61.36,147.54 61.61,147.62 61.87,147.75 62.12,147.90 62.38,148.06 62.63,148.21 62.88,148.36 63.14,148.48 63.39,148.60 63.64,148.71 63.90,148.81 64.15,148.90 64.41,149.00 64.66,149.10 64.91,149.19 65.17,149.29 65.42,149.38 65.67,149.46 65.93,149.52 66.18,149.56 66.44,149.58 66.69,149.58 66.94,149.55 67.20,149.50 67.45,149.44 67.70,149.37 67.96,149.30 68.21,149.23 68.46,149.17 68.72,149.14 68.97,149.11 69.23,149.11 69.48,149.12 69.73,149.14 69.99,149.16 70.24,149.18 70.49,149.19 70.75,149.19 71.00,149.17 71.26,149.16 71.51,149.13 71.76,149.11 72.02,149.08 72.27,149.06 72.52,149.03 72.78,149.00 73.03,148.97 73.29,148.95 73.54,148.92 73.79,148.90 74.05,148.89 74.30,148.88 74.55,148.88 74.81,148.88 75.06,148.88 75.32,148.89 75.57,148.89 75.82,148.90 76.08,148.92 76.33,148.93 76.58,148.95 76.84,148.97 77.09,148.98 77.35,149.00 77.60,149.00 77.85,148.98 78.11,148.91 78.36,148.75 78.61,148.40 78.87,147.76 79.12,146.70 79.38,145.17 79.63,143.23 79.88,141.18 80.14,139.56 80.39,139.00 80.64,139.80 80.90,141.54 81.15,143.60 81.40,145.46 81.66,146.88 81.91,147.81 82.17,148.35 82.42,148.61 82.67,148.71 82.93,148.74 83.18,148.75 83.43,148.75 83.69,148.77 83.94,148.81 84.20,148.87 84.45,148.95 84.70,149.03 84.96,149.11 85.21,149.19 85.46,149.24 85.72,149.28 85.97,149.30 86.23,149.30 86.48,149.30 86.73,149.29 86.99,149.29 87.24,149.29 87.49,149.30 87.75,149.32 88.00,149.36 88.26,149.41 88.51,149.48 88.76,149.56 89.02,149.64 89.27,149.72 89.52,149.79 89.78,149.85 90.03,149.90 90.29,149.94 90.54,149.96 90.79,149.98 91.05,149.98 91.30,149.97 91.55,149.95 91.81,149.93 92.06,149.89 92.32,149.85 92.57,149.81 92.82,149.76 93.08,149.72 93.33,149.67 93.58,149.63 93.84,149.59 94.09,149.56 94.34,149.53 94.60,149.50 94.85,149.48 95.11,149.47 95.36,149.48 95.61,149.49 95.87,149.53 96.12,149.57 96.37,149.62 96.63,149.68 96.88,149.73 97.14,149.77 97.39,149.79 97.64,149.81 97.90,149.82 98.15,149.81 98.40,149.81 98.66,149.80 98.91,149.79 99.17,149.77 99.42,149.75 99.67,149.73 99.93,149.71 100.18,149.68 100.43,149.65 100.69,149.63 100.94,149.60 101.20,149.59 101.45,149.58 101.70,149.59 101.96,149.61 102.21,149.64 102.46,149.68 102.72,149.73 102.97,149.77 103.23,149.80 103.48,149.82 103.73,149.82 103.99,149.82 104.24,149.80 104.49,149.80 104.75,149.80 105.00,149.82 105.26,149.85 105.51,149.89 105.76,149.94 106.02,149.98 106.27,150.01 106.52,150.03 106.78,150.03 107.03,150.04 107.28,150.04 107.54,150.04 107.79,150.04 108.05,150.05 108.30,150.05 108.55,150.05 108.81,150.05 109.06,150.05 109.31,150.06 109.57,150.08 109.82,150.11 110.08,150.15 110.33,150.20 110.58,150.25 110.84,150.29 111.09,150.32 111.34,150.33 111.60,150.33 111.85,150.32 112.11,150.28 112.36,150.24 112.61,150.18 112.87,150.12 113.12,150.05 113.37,149.99 113.63,149.93 113.88,149.90 114.14,149.89 114.39,149.90 114.64,149.92 114.90,149.96 115.15,150.01 115.40,150.05 115.66,150.10 115.91,150.14 116.17,150.18 116.42,150.21 116.67,150.24 116.93,150.25 117.18,150.26 117.43,150.25 117.69,150.23 117.94,150.20 118.20,150.17 118.45,150.15 118.70,150.14 118.96,150.13 119.21,150.13 119.46,150.14 119.72,150.16 119.97,150.18 120.23,150.21 120.48,150.24 120.73,150.27 120.99,150.30 121.24,150.33 121.49,150.35 121.75,150.37 122.00,150.38 122.25,150.38 122.51,150.38 122.76,150.37 123.02,150.35 123.27,150.32 123.52,150.29 123.78,150.26 124.03,150.23 124.28,150.20 124.54,150.17 124.79,150.15 125.05,150.14 125.30,150.13 125.55,150.14 125.81,150.16 126.06,150.18 126.31,150.22 126.57,150.25 126.82,150.29 127.08,150.31 127.33,150.33 127.58,150.33 127.84,150.32 128.09,150.29 128.34,150.27 128.60,150.24 128.85,150.22 129.11,150.22 129.36,150.23 129.61,150.25 129.87,150.29 130.12,150.32 130.37,150.35 130.63,150.37 130.88,150.37 131.14,150.35 131.39,150.31 131.64,150.25 131.90,150.17 132.15,150.09 132.40,150.00 132.66,149.91 132.91,149.84 133.17,149.77 133.42,149.72 133.67,149.69 133.93,149.68 134.18,149.69 134.43,149.71 134.69,149.74 134.94,149.75 135.19,149.75 135.45,149.71 135.70,149.63 135.96,149.48 136.21,149.25 136.46,148.93 136.72,148.52 136.97,148.01 137.22,147.42 137.48,146.79 137.73,146.15 137.99,145.59 138.24,145.19 138.49,145.03 138.75,145.14 139.00,145.51 139.25,146.05 139.51,146.69 139.76,147.34 140.02,147.94 140.27,148.47 140.52,148.90 140.78,149.24 141.03,149.49 141.28,149.66 141.54,149.77 141.79,149.83 142.05,149.87 142.30,149.88 142.55,149.88 142.81,149.87 143.06,149.87 143.31,149.87 143.57,149.87 143.82,149.87 144.08,149.87 144.33,149.87 144.58,149.87 144.84,149.87 145.09,149.87 145.34,149.87 145.60,149.86 145.85,149.83 146.11,149.79 146.36,149.71 146.61,149.59 146.87,149.44 147.12,149.26 147.37,149.06 147.63,148.84 147.88,148.64 148.13,148.47 148.39,148.36 148.64,148.32 148.90,148.37 149.15,148.47 149.40,148.62 149.66,148.79 149.91,148.96 150.16,149.12 150.42,149.27 150.67,149.39 150.93,149.48 151.18,149.55 151.43,149.60 151.69,149.64 151.94,149.65 152.19,149.65 152.45,149.65 152.70,149.63 152.96,149.60 153.21,149.57 153.46,149.55 153.72,149.53 153.97,149.53 154.22,149.54 154.48,149.56 154.73,149.59 154.99,149.63 155.24,149.66 155.49,149.68 155.75,149.70 156.00,149.69 156.25,149.68 156.51,149.65 156.76,149.62 157.02,149.58 157.27,149.55 157.52,149.52 157.78,149.49 158.03,149.46 158.28,149.44 158.54,149.42 158.79,149.39 159.05,149.35 159.30,149.30 159.55,149.24 159.81,149.17 160.06,149.09 160.31,149.00 160.57,148.89 160.82,148.76 161.07,148.58 161.33,148.35 161.58,148.04 161.84,147.64 162.09,147.11 162.34,146.43 162.60,145.59 162.85,144.58 163.10,143.40 163.36,142.07 163.61,140.63 163.87,139.15 164.12,137.72 164.37,136.45 164.63,135.46 164.88,134.86 165.13,134.73 165.39,135.09 165.64,135.89 165.90,137.03 166.15,138.37 166.40,139.82 166.66,141.26 166.91,142.62 167.16,143.85 167.42,144.92 167.67,145.81 167.93,146.51 168.18,147.04 168.43,147.42 168.69,147.68 168.94,147.83 169.19,147.91 169.45,147.93 169.70,147.92 169.96,147.88 170.21,147.82 170.46,147.73 170.72,147.61 170.97,147.45 171.22,147.23 171.48,146.94 171.73,146.57 171.99,146.13 172.24,145.61 172.49,145.03 172.75,144.40 173.00,143.75 173.25,143.10 173.51,142.45 173.76,141.85 174.02,141.30 174.27,140.84 174.52,140.48 174.78,140.25 175.03,140.15 175.28,140.17 175.54,140.30 175.79,140.50 176.04,140.73 176.30,140.95 176.55,141.08 176.81,141.09 177.06,140.90 177.31,140.46 177.57,139.73 177.82,138.69 178.07,137.35 178.33,135.76 178.58,134.00 178.84,132.17 179.09,130.44 179.34,128.98 179.60,127.97 179.85,127.58 180.10,127.88 180.36,128.86 180.61,130.39 180.87,132.30 181.12,134.42 181.37,136.59 181.63,138.69 181.88,140.62 182.13,142.31 182.39,143.74 182.64,144.91 182.90,145.82 183.15,146.51 183.40,147.01 183.66,147.36 183.91,147.60 184.16,147.74 184.42,147.81 184.67,147.81 184.93,147.72 185.18,147.54 185.43,147.27 185.69,146.88 185.94,146.37 186.19,145.75 186.45,145.03 186.70,144.25 186.96,143.47 187.21,142.75 187.46,142.18 187.72,141.84 187.97,141.80 188.22,142.07 188.48,142.61 188.73,143.34 188.98,144.17 189.24,145.02 189.49,145.82 189.75,146.54 190.00,147.14 190.25,147.63 190.51,148.01 190.76,148.30 191.01,148.51 191.27,148.66 191.52,148.78 191.78,148.85 192.03,148.89 192.28,148.91 192.54,148.92 192.79,148.91 193.04,148.91 193.30,148.92 193.55,148.94 193.81,148.96 194.06,148.98 194.31,148.99 194.57,148.98 194.82,148.95 195.07,148.89 195.33,148.78 195.58,148.62 195.84,148.40 196.09,148.11 196.34,147.74 196.60,147.26 196.85,146.70 197.10,146.06 197.36,145.37 197.61,144.67 197.87,144.01 198.12,143.46 198.37,143.10 198.63,142.99 198.88,143.14 199.13,143.53 199.39,144.10 199.64,144.77 199.90,145.47 200.15,146.16 200.40,146.78 200.66,147.33 200.91,147.78 201.16,148.15 201.42,148.44 201.67,148.66 201.92,148.82 202.18,148.93 202.43,148.99 202.69,149.02 202.94,149.00 203.19,148.95 203.45,148.85 203.70,148.69 203.95,148.47 204.21,148.17 204.46,147.79 204.72,147.31 204.97,146.75 205.22,146.11 205.48,145.40 205.73,144.65 205.98,143.87 206.24,143.09 206.49,142.35 206.75,141.68 207.00,141.12 207.25,140.70 207.51,140.42 207.76,140.28 208.01,140.24 208.27,140.25 208.52,140.24 208.78,140.19 209.03,140.06 209.28,139.85 209.54,139.59 209.79,139.30 210.04,139.05 210.30,138.91 210.55,138.95 210.81,139.22 211.06,139.72 211.31,140.43 211.57,141.29 211.82,142.23 212.07,143.19 212.33,144.12 212.58,144.97 212.84,145.72 213.09,146.35 213.34,146.87 213.60,147.28 213.85,147.58 214.10,147.80 214.36,147.93 214.61,147.98 214.86,147.94 215.12,147.80 215.37,147.56 215.63,147.19 215.88,146.70 216.13,146.09 216.39,145.38 216.64,144.64 216.89,143.93 217.15,143.35 217.40,143.02 217.66,143.00 217.91,143.32 218.16,143.90 218.42,144.63 218.67,145.43 218.92,146.20 219.18,146.90 219.43,147.48 219.69,147.95 219.94,148.29 220.19,148.54 220.45,148.71 220.70,148.81 220.95,148.88 221.21,148.92 221.46,148.94 221.72,148.93 221.97,148.91 222.22,148.86 222.48,148.79 222.73,148.69 222.98,148.55 223.24,148.37 223.49,148.15 223.75,147.85 224.00,147.45 224.25,146.94 224.51,146.28 224.76,145.47 225.01,144.52 225.27,143.48 225.52,142.41 225.78,141.43 226.03,140.69 226.28,140.34 226.54,140.46 226.79,141.04 227.04,141.95 227.30,143.05 227.55,144.20 227.81,145.29 228.06,146.26 228.31,147.08 228.57,147.74 228.82,148.24 229.07,148.61 229.33,148.87 229.58,149.04 229.83,149.13 230.09,149.17 230.34,149.17 230.60,149.15 230.85,149.11 231.10,149.08 231.36,149.07 231.61,149.07 231.86,149.09 232.12,149.13 232.37,149.18 232.63,149.22 232.88,149.26 233.13,149.28 233.39,149.30 233.64,149.31 233.89,149.32 234.15,149.34 234.40,149.37 234.66,149.40 234.91,149.44 235.16,149.47 235.42,149.50 235.67,149.51 235.92,149.51 236.18,149.51 236.43,149.50 236.69,149.49 236.94,149.50 237.19,149.52 237.45,149.57 237.70,149.63 237.95,149.71 238.21,149.79 238.46,149.87 238.72,149.95 238.97,150.01 239.22,150.05 239.48,150.07 239.73,150.06 239.98,150.04 240.24,150.00 240.49,149.94 240.75,149.87 241.00,149.78 241.25,149.69 241.51,149.58 241.76,149.49 242.01,149.39 242.27,149.31 242.52,149.26 242.77,149.22 243.03,149.22 243.28,149.24 243.54,149.29 243.79,149.36 244.04,149.45 244.30,149.54 244.55,149.62 244.80,149.70 245.06,149.76 245.31,149.80 245.57,149.83 245.82,149.84 246.07,149.84 246.33,149.84 246.58,149.83 246.83,149.83 247.09,149.84 247.34,149.84 247.60,149.85 247.85,149.86 248.10,149.86 248.36,149.86 248.61,149.84 248.86,149.81 249.12,149.77 249.37,149.73 249.63,149.68 249.88,149.63 250.13,149.59 250.39,149.57 250.64,149.57 250.89,149.59 251.15,149.62 251.40,149.65 251.66,149.69 251.91,149.72 252.16,149.75 252.42,149.77 252.67,149.79 252.92,149.83 253.18,149.88 253.43,149.93 253.69,149.99 253.94,150.05 254.19,150.09 254.45,150.11 254.70,150.11" stroke="#ec4449"/>
<polyline points="26.60,165.96 26.85,165.96 27.11,165.95 27.36,165.93 27.61,165.89 27.87,165.85 28.12,165.80 28.38,165.77 28.63,165.75 28.88,165.74 29.14,165.75 29.39,165.77 29.64,165.81 29.90,165.85 30.15,165.89 30.41,165.92 30.66,165.95 30.91,165.95 31.17,165.94 31.42,165.90 31.67,165.85 31.93,165.79 32.18,165.73 32.44,165.67 32.69,165.62 32.94,165.58 33.20,165.55 33.45,165.53 33.70,165.51 33.96,165.51 34.21,165.51 34.47,165.52 34.72,165.53 34.97,165.57 35.23,165.61 35.48,165.66 35.73,165.71 35.99,165.77 36.24,165.82 36.50,165.86 36.75,165.88 37.00,165.88 37.26,165.87 37.51,165.84 37.76,165.81 38.02,165.78 38.27,165.77 38.53,165.77 38.78,165.79 39.03,165.83 39.29,165.90 39.54,165.98 39.79,166.06 40.05,166.15 40.30,166.22 40.55,166.27 40.81,166.29 41.06,166.28 41.32,166.24 41.57,166.16 41.82,166.06 42.08,165.94 42.33,165.81 42.58,165.70 42.84,165.60 43.09,165.52 43.35,165.46 43.60,165.44 43.85,165.44 44.11,165.47 44.36,165.51 44.61,165.57 44.87,165.62 45.12,165.67 45.38,165.72 45.63,165.75 45.88,165.77 46.14,165.79 46.39,165.80 46.64,165.81 46.90,165.81 47.15,165.81 47.41,165.80 47.66,165.78 47.91,165.76 48.17,165.73 48.42,165.70 48.67,165.68 48.93,165.67 49.18,165.66 49.44,165.66 49.69,165.65 49.94,165.64 50.20,165.62 50.45,165.60 50.70,165.56 50.96,165.52 51.21,165.48 51.47,165.44 51.72,165.42 51.97,165.41 52.23,165.41 52.48,165.44 52.73,165.49 52.99,165.55 53.24,165.62 53.49,165.69 53.75,165.75 54.00,165.81 54.26,165.85 54.51,165.88 54.76,165.91 55.02,165.91 55.27,165.92 55.52,165.91 55.78,165.89 56.03,165.87 56.29,165.85 56.54,165.82 56.79,165.78 57.05,165.75 57.30,165.73 57.55,165.70 57.81,165.68 58.06,165.66 58.32,165.65 58.57,165.63 58.82,165.60 59.08,165.58 59.33,165.56 59.58,165.54 59.84,165.53 60.09,165.54 60.35,165.54 60.60,165.56 60.85,165.57 61.11,165.58 61.36,165.59 61.61,165.58 61.87,165.56 62.12,165.53 62.38,165.49 62.63,165.45 62.88,165.41 63.14,165.40 63.39,165.40 63.64,165.42 63.90,165.46 64.15,165.51 64.41,165.57 64.66,165.62 64.91,165.65 65.17,165.67 65.42,165.67 65.67,165.66 65.93,165.62 66.18,165.58 66.44,165.54 66.69,165.50 66.94,165.46 67.20,165.44 67.45,165.43 67.70,165.43 67.96,165.45 68.21,165.49 68.46,165.53 68.72,165.58 68.97,165.64 69.23,165.68 69.48,165.71 69.73,165.72 69.99,165.70 70.24,165.66 70.49,165.59 70.75,165.51 71.00,165.42 71.26,165.34 71.51,165.28 71.76,165.25 72.02,165.25 72.27,165.27 72.52,165.31 72.78,165.38 73.03,165.45 73.29,165.52 73.54,165.59 73.79,165.65 74.05,165.70 74.30,165.73 74.55,165.74 74.81,165.74 75.06,165.72 75.32,165.67 75.57,165.62 75.82,165.55 76.08,165.47 76.33,165.38 76.58,165.29 76.84,165.21 77.09,165.12 77.35,165.04 77.60,164.94 77.85,164.81 78.11,164.59 78.36,164.20 78.61,163.52 78.87,162.43 79.12,160.82 79.38,158.70 79.63,156.21 79.88,153.75 80.14,151.91 80.39,151.31 80.64,152.24 80.90,154.30 81.15,156.85 81.40,159.33 81.66,161.40 81.91,162.93 82.17,163.95 82.42,164.57 82.67,164.93 82.93,165.13 83.18,165.24 83.43,165.31 83.69,165.37 83.94,165.42 84.20,165.47 84.45,165.51 84.70,165.55 84.96,165.58 85.21,165.59 85.46,165.58 85.72,165.56 85.97,165.52 86.23,165.47 86.48,165.41 86.73,165.35 86.99,165.29 87.24,165.24 87.49,165.21 87.75,165.20 88.00,165.20 88.26,165.22 88.51,165.26 88.76,165.31 89.02,165.36 89.27,165.41 89.52,165.47 89.78,165.54 90.03,165.61 90.29,165.68 90.54,165.76 90.79,165.82 91.05,165.86 91.30,165.89 91.55,165.89 91.81,165.87 92.06,165.84 92.32,165.81 92.57,165.79 92.82,165.76 93.08,165.75 93.33,165.74 93.58,165.73 93.84,165.71 94.09,165.68 94.34,165.65 94.60,165.61 94.85,165.56 95.11,165.52 95.36,165.49 95.61,165.48 95.87,165.47 96.12,165.49 96.37,165.52 96.63,165.56 96.88,165.61 97.14,165.66 97.39,165.70 97.64,165.73 97.90,165.74 98.15,165.75 98.40,165.74 98.66,165.73 98.91,165.71 99.17,165.69 99.42,165.67 99.67,165.65 99.93,165.63 100.18,165.62 100.43,165.62 100.69,165.62 100.94,165.63 101.20,165.64 101.45,165.66 101.70,165.67 101.96,165.68 102.21,165.69 102.46,165.69 102.72,165.69 102.97,165.69 103.23,165.70 103.48,165.72 103.73,165.74 103.99,165.77 104.24,165.78 104.49,165.78 104.75,165.76 105.00,165.72 105.26,165.66 105.51,165.59 105.76,165.52 106.02,165.46 106.27,165.43 106.52,165.41 106.78,165.42 107.03,165.46 107.28,165.50 107.54,165.54 107.79,165.57 108.05,165.59 108.30,165.60 108.55,165.60 108.81,165.59 109.06,165.59 109.31,165.58 109.57,165.58 109.82,165.58 110.08,165.58 110.33,165.56 110.58,165.54 110.84,165.50 111.09,165.44 111.34,165.38 111.60,165.32 111.85,165.27 112.11,165.23 112.36,165.21 112.61,165.21 112.87,165.22 113.12,165.23 113.37,165.24 113.63,165.24 113.88,165.22 114.14,165.17 114.39,165.11 114.64,165.02 114.90,164.92 115.15,164.82 115.40,164.71 115.66,164.60 115.91,164.51 116.17,164.42 116.42,164.35 116.67,164.30 116.93,164.26 117.18,164.24 117.43,164.24 117.69,164.26 117.94,164.30 118.20,164.35 118.45,164.42 118.70,164.52 118.96,164.63 119.21,164.77 119.46,164.92 119.72,165.07 119.97,165.22 120.23,165.35 120.48,165.46 120.73,165.54 120.99,165.58 121.24,165.60 121.49,165.58 121.75,165.54 122.00,165.49 122.25,165.43 122.51,165.38 122.76,165.34 123.02,165.31 123.27,165.30 123.52,165.31 123.78,165.31 124.03,165.32 124.28,165.32 124.54,165.32 124.79,165.31 125.05,165.31 125.30,165.32 125.55,165.34 125.81,165.37 126.06,165.42 126.31,165.47 126.57,165.53 126.82,165.60 127.08,165.65 127.33,165.71 127.58,165.75 127.84,165.79 128.09,165.80 128.34,165.80 128.60,165.78 128.85,165.73 129.11,165.67 129.36,165.58 129.61,165.50 129.87,165.42 130.12,165.36 130.37,165.32 130.63,165.30 130.88,165.30 131.14,165.31 131.39,165.34 131.64,165.37 131.90,165.40 132.15,165.41 132.40,165.42 132.66,165.42 132.91,165.41 133.17,165.38 133.42,165.35 133.67,165.32 133.93,165.29 134.18,165.28 134.43,165.28 134.69,165.29 134.94,165.31 135.19,165.34 135.45,165.37 135.70,165.40 135.96,165.42 136.21,165.44 136.46,165.45 136.72,165.44 136.97,165.43 137.22,165.42 137.48,165.39 137.73,165.36 137.99,165.32 138.24,165.27 138.49,165.21 138.75,165.14 139.00,165.07 139.25,164.99 139.51,164.93 139.76,164.88 140.02,164.86 140.27,164.86 140.52,164.89 140.78,164.95 141.03,165.02 141.28,165.09 141.54,165.16 141.79,165.23 142.05,165.28 142.30,165.32 142.55,165.34 142.81,165.35 143.06,165.35 143.31,165.33 143.57,165.32 143.82,165.29 144.08,165.28 144.33,165.26 144.58,165.26 144.84,165.26 145.09,165.27 145.34,165.29 145.60,165.31 145.85,165.34 146.11,165.37 146.36,165.40 146.61,165.43 146.87,165.46 147.12,165.48 147.37,165.50 147.63,165.50 147.88,165.50 148.13,165.48 148.39,165.46 148.64,165.44 148.90,165.41 149.15,165.39 149.40,165.37 149.66,165.36 149.91,165.35 150.16,165.34 150.42,165.34 150.67,165.34 150.93,165.34 151.18,165.34 151.43,165.34 151.69,165.35 151.94,165.35 152.19,165.36 152.45,165.37 152.70,165.39 152.96,165.40 153.21,165.42 153.46,165.44 153.72,165.46 153.97,165.48 154.22,165.50 154.48,165.51 154.73,165.52 154.99,165.52 155.24,165.51 155.49,165.50 155.75,165.49 156.00,165.47 156.25,165.45 156.51,165.43 156.76,165.42 157.02,165.40 157.27,165.40 157.52,165.40 157.78,165.41 158.03,165.42 158.28,165.44 158.54,165.46 158.79,165.47 159.05,165.48 159.30,165.48 159.55,165.46 159.81,165.44 160.06,165.40 160.31,165.35 160.57,165.31 160.82,165.25 161.07,165.20 161.33,165.14 161.58,165.08 161.84,165.02 162.09,164.95 162.34,164.89 162.60,164.82 162.85,164.76 163.10,164.72 163.36,164.68 163.61,164.66 163.87,164.65 164.12,164.66 164.37,164.66 164.63,164.66 164.88,164.64 165.13,164.59 165.39,164.51 165.64,164.41 165.90,164.29 166.15,164.17 166.40,164.06 166.66,163.98 166.91,163.93 167.16,163.92 167.42,163.93 167.67,163.98 167.93,164.04 168.18,164.12 168.43,164.19 168.69,164.26 168.94,164.33 169.19,164.38 169.45,164.41 169.70,164.44 169.96,164.46 170.21,164.46 170.46,164.46 170.72,164.45 170.97,164.43 171.22,164.39 171.48,164.34 171.73,164.27 171.99,164.17 172.24,164.05 172.49,163.90 172.75,163.71 173.00,163.49 173.25,163.24 173.51,162.95 173.76,162.62 174.02,162.25 174.27,161.85 174.52,161.42 174.78,160.98 175.03,160.53 175.28,160.08 175.54,159.65 175.79,159.26 176.04,158.92 176.30,158.64 176.55,158.42 176.81,158.29 177.06,158.23 177.31,158.26 177.57,158.36 177.82,158.53 178.07,158.75 178.33,159.03 178.58,159.33 178.84,159.66 179.09,159.99 179.34,160.31 179.60,160.60 179.85,160.86 180.10,161.08 180.36,161.26 180.61,161.41 180.87,161.52 181.12,161.63 181.37,161.73 181.63,161.83 181.88,161.95 182.13,162.08 182.39,162.24 182.64,162.41 182.90,162.59 183.15,162.78 183.40,162.96 183.66,163.13 183.91,163.29 184.16,163.44 184.42,163.57 184.67,163.69 184.93,163.79 185.18,163.89 185.43,163.99 185.69,164.08 185.94,164.17 186.19,164.26 186.45,164.36 186.70,164.46 186.96,164.56 187.21,164.67 187.46,164.77 187.72,164.87 187.97,164.97 188.22,165.06 188.48,165.14 188.73,165.22 188.98,165.28 189.24,165.33 189.49,165.36 189.75,165.36 190.00,165.34 190.25,165.28 190.51,165.21 190.76,165.14 191.01,165.06 191.27,165.01 191.52,164.97 191.78,164.95 192.03,164.95 192.28,164.96 192.54,164.98 192.79,164.99 193.04,165.00 193.30,164.99 193.55,164.98 193.81,164.95 194.06,164.90 194.31,164.84 194.57,164.75 194.82,164.65 195.07,164.54 195.33,164.41 195.58,164.29 195.84,164.17 196.09,164.05 196.34,163.93 196.60,163.80 196.85,163.67 197.10,163.51 197.36,163.34 197.61,163.15 197.87,162.96 198.12,162.77 198.37,162.60 198.63,162.47 198.88,162.38 199.13,162.34 199.39,162.35 199.64,162.42 199.90,162.54 200.15,162.69 200.40,162.87 200.66,163.07 200.91,163.29 201.16,163.51 201.42,163.74 201.67,163.96 201.92,164.16 202.18,164.34 202.43,164.49 202.69,164.61 202.94,164.70 203.19,164.76 203.45,164.81 203.70,164.85 203.95,164.89 204.21,164.94 204.46,165.00 204.72,165.05 204.97,165.11 205.22,165.15 205.48,165.17 205.73,165.17 205.98,165.14 206.24,165.09 206.49,165.02 206.75,164.94 207.00,164.86 207.25,164.78 207.51,164.70 207.76,164.61 208.01,164.52 208.27,164.42 208.52,164.30 208.78,164.17 209.03,164.03 209.28,163.88 209.54,163.72 209.79,163.56 210.04,163.41 210.30,163.27 210.55,163.17 210.81,163.11 211.06,163.10 211.31,163.14 211.57,163.24 211.82,163.38 212.07,163.55 212.33,163.75 212.58,163.95 212.84,164.15 213.09,164.34 213.34,164.51 213.60,164.65 213.85,164.76 214.10,164.84 214.36,164.88 214.61,164.88 214.86,164.87 215.12,164.83 215.37,164.79 215.63,164.74 215.88,164.71 216.13,164.70 216.39,164.70 216.64,164.72 216.89,164.75 217.15,164.78 217.40,164.80 217.66,164.82 217.91,164.81 218.16,164.79 218.42,164.75 218.67,164.70 218.92,164.63 219.18,164.56 219.43,164.47 219.69,164.37 219.94,164.26 220.19,164.15 220.45,164.02 220.70,163.90 220.95,163.77 221.21,163.65 221.46,163.55 221.72,163.46 221.97,163.41 222.22,163.39 222.48,163.40 222.73,163.44 222.98,163.52 223.24,163.61 223.49,163.73 223.75,163.85 224.00,163.97 224.25,164.09 224.51,164.20 224.76,164.31 225.01,164.41 225.27,164.51 225.52,164.60 225.78,164.69 226.03,164.77 226.28,164.84 226.54,164.91 226.79,164.95 227.04,164.99 227.30,165.00 227.55,165.01 227.81,165.02 228.06,165.02 228.31,165.02 228.57,165.01 228.82,165.01 229.07,165.00 229.33,164.99 229.58,164.98 229.83,164.97 230.09,164.97 230.34,164.98 230.60,164.99 230.85,165.01 231.10,165.04 231.36,165.06 231.61,165.08 231.86,165.09 232.12,165.10 232.37,165.10 232.63,165.09 232.88,165.06 233.13,165.03 233.39,164.99 233.64,164.95 233.89,164.91 234.15,164.87 234.40,164.83 234.66,164.80 234.91,164.77 235.16,164.75 235.42,164.73 235.67,164.71 235.92,164.70 236.18,164.70 236.43,164.71 236.69,164.72 236.94,164.74 237.19,164.76 237.45,164.79 237.70,164.82 237.95,164.85 238.21,164.88 238.46,164.91 238.72,164.93 238.97,164.94 239.22,164.94 239.48,164.93 239.73,164.92 239.98,164.92 240.24,164.93 240.49,164.95 240.75,164.99 241.00,165.02 241.25,165.06 241.51,165.09 241.76,165.10 242.01,165.11 242.27,165.09 242.52,165.06 242.77,165.01 243.03,164.95 243.28,164.90 243.54,164.84 243.79,164.80 244.04,164.79 244.30,164.80 244.55,164.83 244.80,164.89 245.06,164.97 245.31,165.05 245.57,165.13 245.82,165.21 246.07,165.28 246.33,165.33 246.58,165.36 246.83,165.38 247.09,165.38 247.34,165.37 247.60,165.35 247.85,165.33 248.10,165.30 248.36,165.27 248.61,165.24 248.86,165.22 249.12,165.21 249.37,165.20 249.63,165.21 249.88,165.22 250.13,165.23 250.39,165.25 250.64,165.27 250.89,165.28 251.15,165.28 251.40,165.27 251.66,165.24 251.91,165.20 252.16,165.15 252.42,165.10 252.67,165.04 252.92,164.98 253.18,164.92 253.43,164.86 253.69,164.81 253.94,164.78 254.19,164.76 254.45,164.75 254.70,164.77" stroke="#4a4a4a"/>
</g>
<g clip-path="url(#clipB)" fill="none" stroke-width="1.65" stroke-linejoin="round">
<polyline points="305.60,78.03 305.85,77.96 306.11,77.89 306.36,77.81 306.62,77.73 306.87,77.64 307.12,77.54 307.38,77.42 307.63,77.30 307.88,77.16 308.14,77.02 308.39,76.89 308.65,76.76 308.90,76.63 309.15,76.53 309.41,76.43 309.66,76.36 309.92,76.30 310.17,76.25 310.42,76.21 310.68,76.16 310.93,76.10 311.18,76.01 311.44,75.90 311.69,75.77 311.95,75.62 312.20,75.46 312.45,75.29 312.71,75.12 312.96,74.96 313.22,74.81 313.47,74.67 313.72,74.53 313.98,74.39 314.23,74.26 314.48,74.12 314.74,73.99 314.99,73.86 315.25,73.73 315.50,73.61 315.75,73.50 316.01,73.41 316.26,73.33 316.52,73.26 316.77,73.20 317.02,73.15 317.28,73.09 317.53,73.03 317.78,72.97 318.04,72.90 318.29,72.82 318.55,72.73 318.80,72.64 319.05,72.53 319.31,72.41 319.56,72.28 319.81,72.13 320.07,72.03 320.32,71.93 320.58,71.83 320.83,71.73 321.08,71.64 321.34,71.54 321.59,71.44 321.85,71.34 322.10,71.24 322.35,71.14 322.61,71.06 322.86,70.98 323.11,70.92 323.37,70.88 323.62,70.84 323.88,70.81 324.13,70.77 324.38,70.71 324.64,70.64 324.89,70.54 325.15,70.43 325.40,70.31 325.65,70.18 325.91,70.05 326.16,69.92 326.41,69.80 326.67,69.68 326.92,69.58 327.18,69.48 327.43,69.39 327.68,69.31 327.94,69.24 328.19,69.19 328.45,69.13 328.70,69.07 328.95,69.02 329.21,68.96 329.46,68.90 329.71,68.84 329.97,68.79 330.22,68.75 330.48,68.72 330.73,68.70 330.98,68.69 331.24,68.68 331.49,68.68 331.75,68.69 332.00,68.71 332.25,68.74 332.51,68.78 332.76,68.81 333.01,68.85 333.27,68.88 333.52,68.89 333.78,68.89 334.03,68.87 334.28,68.88 334.54,68.90 334.79,68.91 335.05,68.91 335.30,68.91 335.55,68.89 335.81,68.86 336.06,68.81 336.31,68.72 336.57,68.58 336.82,68.39 337.08,68.13 337.33,67.81 337.58,67.42 337.84,66.96 338.09,66.44 338.35,65.85 338.60,65.20 338.85,64.47 339.11,63.68 339.36,62.82 339.61,61.91 339.87,60.96 340.12,60.00 340.38,59.04 340.63,58.12 340.88,57.27 341.14,56.52 341.39,55.89 341.64,55.41 341.90,55.10 342.15,54.97 342.41,55.03 342.66,55.24 342.91,55.60 343.17,56.06 343.42,56.58 343.68,57.10 343.93,57.58 344.18,57.96 344.44,58.19 344.69,58.21 344.94,57.99 345.20,57.48 345.45,56.69 345.71,55.63 345.96,54.33 346.21,52.86 346.47,51.30 346.72,49.77 346.98,48.40 347.23,47.30 347.48,46.62 347.74,46.44 347.99,46.81 348.24,47.73 348.50,49.13 348.75,50.89 349.01,52.90 349.26,55.05 349.51,57.22 349.77,59.35 350.02,61.35 350.28,63.18 350.53,64.80 350.78,66.18 351.04,67.34 351.29,68.28 351.54,69.03 351.80,69.61 352.05,70.07 352.31,70.44 352.56,70.73 352.81,70.97 353.07,71.16 353.32,71.31 353.58,71.41 353.83,71.48 354.08,71.51 354.34,71.51 354.59,71.50 354.84,71.47 355.10,71.46 355.35,71.46 355.61,71.49 355.86,71.53 356.11,71.60 356.37,71.67 356.62,71.76 356.88,71.84 357.13,71.91 357.38,71.96 357.64,72.01 357.89,72.06 358.14,72.09 358.40,72.13 358.65,72.17 358.91,72.21 359.16,72.25 359.41,72.29 359.67,72.32 359.92,72.35 360.18,72.36 360.43,72.36 360.68,72.33 360.94,72.28 361.19,72.20 361.44,72.07 361.70,71.89 361.95,71.65 362.21,71.34 362.46,70.96 362.71,70.49 362.97,69.94 363.22,69.31 363.47,68.60 363.73,67.79 363.98,66.90 364.24,65.93 364.49,64.89 364.74,63.79 365.00,62.68 365.25,61.58 365.51,60.56 365.76,59.65 366.01,58.91 366.27,58.40 366.52,58.15 366.77,58.19 367.03,58.50 367.28,59.06 367.54,59.83 367.79,60.76 368.04,61.79 368.30,62.87 368.55,63.96 368.81,65.02 369.06,66.04 369.31,66.99 369.57,67.86 369.82,68.65 370.07,69.37 370.33,70.00 370.58,70.56 370.84,71.04 371.09,71.46 371.34,71.82 371.60,72.11 371.85,72.36 372.11,72.57 372.36,72.74 372.61,72.87 372.87,72.97 373.12,73.04 373.37,73.09 373.63,73.13 373.88,73.15 374.14,73.17 374.39,73.19 374.64,73.21 374.90,73.23 375.15,73.25 375.41,73.27 375.66,73.30 375.91,73.32 376.17,73.35 376.42,73.37 376.67,73.40 376.93,73.42 377.18,73.42 377.44,73.43 377.69,73.44 377.94,73.46 378.20,73.49 378.45,73.54 378.71,73.59 378.96,73.66 379.21,73.72 379.47,73.78 379.72,73.82 379.97,73.84 380.23,73.84 380.48,73.81 380.74,73.76 380.99,73.69 381.24,73.62 381.50,73.56 381.75,73.50 382.01,73.45 382.26,73.41 382.51,73.39 382.77,73.38 383.02,73.38 383.27,73.39 383.53,73.40 383.78,73.42 384.04,73.45 384.29,73.47 384.54,73.48 384.80,73.47 385.05,73.45 385.31,73.43 385.56,73.39 385.81,73.36 386.07,73.34 386.32,73.32 386.57,73.31 386.83,73.31 387.08,73.30 387.34,73.29 387.59,73.28 387.84,73.26 388.10,73.23 388.35,73.20 388.60,73.16 388.86,73.12 389.11,73.08 389.37,73.05 389.62,73.03 389.87,73.03 390.13,73.04 390.38,73.05 390.64,73.08 390.89,73.11 391.14,73.13 391.40,73.16 391.65,73.19 391.90,73.22 392.16,73.25 392.41,73.29 392.67,73.32 392.92,73.34 393.17,73.35 393.43,73.34 393.68,73.32 393.94,73.30 394.19,73.26 394.44,73.23 394.70,73.21 394.95,73.19 395.20,73.17 395.46,73.15 395.71,73.12 395.97,73.08 396.22,73.02 396.47,72.95 396.73,72.84 396.98,72.70 397.24,72.52 397.49,72.28 397.74,71.97 398.00,71.59 398.25,71.12 398.50,70.56 398.76,69.90 399.01,69.15 399.27,68.31 399.52,67.41 399.77,66.47 400.03,65.51 400.28,64.58 400.54,63.74 400.79,63.04 401.04,62.53 401.30,62.28 401.55,62.29 401.80,62.58 402.06,63.10 402.31,63.81 402.57,64.65 402.82,65.55 403.07,66.47 403.33,67.37 403.58,68.21 403.84,68.98 404.09,69.65 404.34,70.23 404.60,70.71 404.85,71.11 405.10,71.44 405.36,71.71 405.61,71.93 405.87,72.11 406.12,72.27 406.37,72.40 406.63,72.50 406.88,72.59 407.14,72.65 407.39,72.68 407.64,72.70 407.90,72.69 408.15,72.66 408.40,72.62 408.66,72.57 408.91,72.51 409.17,72.47 409.42,72.43 409.67,72.40 409.93,72.38 410.18,72.37 410.43,72.36 410.69,72.34 410.94,72.32 411.20,72.29 411.45,72.28 411.70,72.26 411.96,72.26 412.21,72.27 412.47,72.28 412.72,72.31 412.97,72.33 413.23,72.36 413.48,72.37 413.73,72.36 413.99,72.32 414.24,72.24 414.50,72.10 414.75,71.91 415.00,71.67 415.26,71.35 415.51,70.98 415.77,70.54 416.02,70.03 416.27,69.45 416.53,68.78 416.78,68.04 417.03,67.20 417.29,66.29 417.54,65.31 417.80,64.28 418.05,63.23 418.30,62.20 418.56,61.24 418.81,60.39 419.07,59.71 419.32,59.23 419.57,58.98 419.83,58.99 420.08,59.24 420.33,59.70 420.59,60.34 420.84,61.12 421.10,61.98 421.35,62.88 421.60,63.80 421.86,64.71 422.11,65.58 422.37,66.40 422.62,67.16 422.87,67.84 423.13,68.45 423.38,68.97 423.63,69.41 423.89,69.75 424.14,69.99 424.40,70.12 424.65,70.13 424.90,70.01 425.16,69.75 425.41,69.37 425.67,68.86 425.92,68.23 426.17,67.51 426.43,66.71 426.68,65.87 426.93,64.99 427.19,64.12 427.44,63.28 427.70,62.51 427.95,61.83 428.20,61.28 428.46,60.89 428.71,60.68 428.97,60.67 429.22,60.85 429.47,61.23 429.73,61.77 429.98,62.45 430.23,63.23 430.49,64.10 430.74,65.01 431.00,65.92 431.25,66.83 431.50,67.69 431.76,68.49 432.01,69.23 432.26,69.88 432.52,70.44 432.77,70.92 433.03,71.31 433.28,71.62 433.53,71.87 433.79,72.04 434.04,72.17 434.30,72.26 434.55,72.31 434.80,72.35 435.06,72.37 435.31,72.37 435.56,72.41 435.82,72.47 436.07,72.52 436.33,72.57 436.58,72.61 436.83,72.66 437.09,72.71 437.34,72.77 437.60,72.84 437.85,72.93 438.10,73.02 438.36,73.12 438.61,73.23 438.86,73.34 439.12,73.46 439.37,73.57 439.63,73.67 439.88,73.76 440.13,73.84 440.39,73.92 440.64,73.98 440.90,74.05 441.15,74.11 441.40,74.18 441.66,74.24 441.91,74.31 442.16,74.38 442.42,74.46 442.67,74.54 442.93,74.62 443.18,74.70 443.43,74.78 443.69,74.85 443.94,74.91 444.20,74.95 444.45,74.99 444.70,75.03 444.96,75.07 445.21,75.13 445.46,75.21 445.72,75.32 445.97,75.44 446.23,75.56 446.48,75.69 446.73,75.82 446.99,75.92 447.24,76.02 447.50,76.10 447.75,76.17 448.00,76.23 448.26,76.29 448.51,76.29 448.76,76.29 449.02,76.29 449.27,76.29 449.53,76.28 449.78,76.27 450.03,76.24 450.29,76.22 450.54,76.20 450.80,76.18 451.05,76.17 451.30,76.17 451.56,76.19 451.81,76.22 452.06,76.27 452.32,76.34 452.57,76.42 452.83,76.49 453.08,76.56 453.33,76.61 453.59,76.64 453.84,76.65 454.09,76.64 454.35,76.62 454.60,76.60 454.86,76.59 455.11,76.59 455.36,76.61 455.62,76.64 455.87,76.68 456.13,76.71 456.38,76.73 456.63,76.75 456.89,76.75 457.14,76.74 457.39,76.73 457.65,76.71 457.90,76.70 458.16,76.68 458.41,76.66 458.66,76.63 458.92,76.60 459.17,76.57 459.43,76.53 459.68,76.49 459.93,76.46 460.19,76.45 460.44,76.44 460.69,76.46 460.95,76.50 461.20,76.57 461.46,76.65 461.71,76.74 461.96,76.84 462.22,76.92 462.47,76.98 462.73,77.02 462.98,77.03 463.23,77.02 463.49,76.99 463.74,76.96 463.99,76.93 464.25,76.92 464.50,76.91 464.76,76.92 465.01,76.93 465.26,76.96 465.52,76.99 465.77,77.02 466.03,77.04 466.28,77.06 466.53,77.08 466.79,77.08 467.04,77.08 467.29,77.07 467.55,77.07 467.80,77.06 468.06,77.06 468.31,77.07 468.56,77.09 468.82,77.11 469.07,77.14 469.33,77.16 469.58,77.18 469.83,77.18 470.09,77.17 470.34,77.15 470.59,77.12 470.85,77.07 471.10,77.02 471.36,76.97 471.61,76.91 471.86,76.87 472.12,76.84 472.37,76.82 472.63,76.83 472.88,76.85 473.13,76.88 473.39,76.93 473.64,76.98 473.89,77.02 474.15,76.99 474.40,76.95 474.66,76.91 474.91,76.86 475.16,76.82 475.42,76.78 475.67,76.75 475.93,76.71 476.18,76.68 476.43,76.65 476.69,76.60 476.94,76.56 477.19,76.51 477.45,76.45 477.70,76.39 477.96,76.33 478.21,76.27 478.46,76.19 478.72,76.11 478.97,76.03 479.22,75.94 479.48,75.87 479.73,75.81 479.99,75.77 480.24,75.75 480.49,75.73 480.75,75.72 481.00,75.70 481.26,75.68 481.51,75.63 481.76,75.58 482.02,75.50 482.27,75.41 482.52,75.31 482.78,75.20 483.03,75.08 483.29,74.95 483.54,74.83 483.79,74.71 484.05,74.60 484.30,74.51 484.56,74.43 484.81,74.37 485.06,74.32 485.32,74.29 485.57,74.28 485.82,74.26 486.08,74.25 486.33,74.22 486.59,74.18 486.84,74.13 487.09,74.06 487.35,73.98 487.60,73.89 487.86,73.80 488.11,73.71 488.36,73.64 488.62,73.57 488.87,73.52 489.12,73.48 489.38,73.45 489.63,73.43 489.89,73.41 490.14,73.39 490.39,73.35 490.65,73.30 490.90,73.24 491.16,73.17 491.41,73.09 491.66,73.01 491.92,72.93 492.17,72.86 492.42,72.78 492.68,72.71 492.93,72.64 493.19,72.55 493.44,72.46 493.69,72.33 493.95,72.19 494.20,72.02 494.46,71.81 494.71,71.57 494.96,71.29 495.22,70.96 495.47,70.56 495.72,70.08 495.98,69.51 496.23,68.84 496.49,68.08 496.74,67.20 496.99,66.23 497.25,65.17 497.50,64.03 497.76,62.81 498.01,61.54 498.26,60.23 498.52,58.92 498.77,57.64 499.02,56.42 499.28,55.32 499.53,54.36 499.79,53.60 500.04,53.07 500.29,52.79 500.55,52.78 500.80,53.02 501.05,53.50 501.31,54.20 501.56,55.08 501.82,56.09 502.07,57.20 502.32,58.39 502.58,59.62 502.83,60.86 503.09,62.09 503.34,63.27 503.59,64.39 503.85,65.43 504.10,66.35 504.35,67.15 504.61,67.82 504.86,68.37 505.12,68.81 505.37,69.15 505.62,69.41 505.88,69.62 506.13,69.77 506.39,69.89 506.64,69.98 506.89,70.05 507.15,70.09 507.40,70.11 507.65,70.12 507.91,70.12 508.16,70.13 508.42,70.14 508.67,70.16 508.92,70.18 509.18,70.21 509.43,70.23 509.69,70.25 509.94,70.27 510.19,70.29 510.45,70.29 510.70,70.28 510.95,70.25 511.21,70.22 511.46,70.19 511.72,70.17 511.97,70.16 512.22,70.16 512.48,70.15 512.73,70.15 512.99,70.13 513.24,70.09 513.49,70.03 513.75,69.94 514.00,69.84 514.25,69.73 514.51,69.61 514.76,69.47 515.02,69.31 515.27,69.13 515.52,68.89 515.78,68.60 516.03,68.23 516.29,67.77 516.54,67.22 516.79,66.55 517.05,65.76 517.30,64.85 517.55,63.79 517.81,62.60 518.06,61.27 518.32,59.82 518.57,58.27 518.82,56.65 519.08,55.01 519.33,53.41 519.59,51.92 519.84,50.61 520.09,49.57 520.35,48.87 520.60,48.55 520.85,48.64 521.11,49.14 521.36,50.00 521.62,51.15 521.87,52.53 522.12,54.07 522.38,55.68 522.63,57.32 522.88,58.93 523.14,60.48 523.39,61.92 523.65,63.25 523.90,64.43 524.15,65.48 524.41,66.37 524.66,67.12 524.92,67.74 525.17,68.22 525.42,68.60 525.68,68.88 525.93,69.09 526.18,69.25 526.44,69.37 526.69,69.48 526.95,69.62 527.20,69.77 527.45,69.93 527.71,70.10 527.96,70.28 528.22,70.45 528.47,70.61 528.72,70.76 528.98,70.87 529.23,70.97 529.48,71.04 529.74,71.08 529.99,71.12 530.25,71.14 530.50,71.16 530.75,71.18 531.01,71.20 531.26,71.22 531.52,71.26 531.77,71.29 532.02,71.34 532.28,71.38 532.53,71.43 532.78,71.48 533.04,71.52 533.29,71.57 533.55,71.61 533.80,71.66" stroke="#3aa96f"/>
<polyline points="305.60,106.04 305.85,105.95 306.11,105.88 306.36,105.83 306.62,105.80 306.87,105.79 307.12,105.79 307.38,105.79 307.63,105.79 307.88,105.76 308.14,105.72 308.39,105.65 308.65,105.56 308.90,105.46 309.15,105.34 309.41,105.21 309.66,105.09 309.92,104.97 310.17,104.87 310.42,104.78 310.68,104.70 310.93,104.62 311.18,104.55 311.44,104.47 311.69,104.39 311.95,104.30 312.20,104.20 312.45,104.10 312.71,104.01 312.96,103.92 313.22,103.83 313.47,103.76 313.72,103.69 313.98,103.63 314.23,103.58 314.48,103.53 314.74,103.49 314.99,103.44 315.25,103.39 315.50,103.34 315.75,103.27 316.01,103.20 316.26,103.13 316.52,103.05 316.77,102.98 317.02,102.90 317.28,102.82 317.53,102.75 317.78,102.66 318.04,102.57 318.29,102.46 318.55,102.36 318.80,102.24 319.05,102.11 319.31,101.98 319.56,101.85 319.81,101.73 320.07,101.61 320.32,101.50 320.58,101.41 320.83,101.33 321.08,101.26 321.34,101.20 321.59,101.14 321.85,101.08 322.10,101.02 322.35,100.96 322.61,100.90 322.86,100.83 323.11,100.76 323.37,100.69 323.62,100.61 323.88,100.53 324.13,100.46 324.38,100.38 324.64,100.31 324.89,100.23 325.15,100.15 325.40,100.06 325.65,99.96 325.91,99.85 326.16,99.72 326.41,99.59 326.67,99.46 326.92,99.34 327.18,99.23 327.43,99.13 327.68,99.04 327.94,98.95 328.19,98.87 328.45,98.79 328.70,98.72 328.95,98.65 329.21,98.60 329.46,98.55 329.71,98.56 329.97,98.61 330.22,98.66 330.48,98.72 330.73,98.76 330.98,98.79 331.24,98.81 331.49,98.82 331.75,98.81 332.00,98.78 332.25,98.74 332.51,98.68 332.76,98.61 333.01,98.54 333.27,98.48 333.52,98.42 333.78,98.38 334.03,98.35 334.28,98.33 334.54,98.32 334.79,98.30 335.05,98.28 335.30,98.25 335.55,98.20 335.81,98.11 336.06,97.99 336.31,97.82 336.57,97.59 336.82,97.31 337.08,96.96 337.33,96.55 337.58,96.06 337.84,95.50 338.09,94.85 338.35,94.12 338.60,93.30 338.85,92.40 339.11,91.43 339.36,90.38 339.61,89.29 339.87,88.16 340.12,87.02 340.38,85.90 340.63,84.82 340.88,83.82 341.14,82.93 341.39,82.19 341.64,81.63 341.90,81.28 342.15,81.15 342.41,81.25 342.66,81.56 342.91,82.07 343.17,82.73 343.42,83.49 343.68,84.31 343.93,85.14 344.18,85.92 344.44,86.62 344.69,87.20 344.94,87.64 345.20,87.91 345.45,88.01 345.71,87.94 345.96,87.71 346.21,87.36 346.47,86.91 346.72,86.43 346.98,85.97 347.23,85.61 347.48,85.41 347.74,85.43 347.99,85.71 348.24,86.25 348.50,87.00 348.75,87.93 349.01,88.97 349.26,90.05 349.51,91.13 349.77,92.17 350.02,93.14 350.28,94.04 350.53,94.84 350.78,95.55 351.04,96.17 351.29,96.69 351.54,97.12 351.80,97.47 352.05,97.75 352.31,97.96 352.56,98.13 352.81,98.26 353.07,98.38 353.32,98.48 353.58,98.59 353.83,98.69 354.08,98.78 354.34,98.87 354.59,98.94 354.84,99.01 355.10,99.06 355.35,99.10 355.61,99.14 355.86,99.17 356.11,99.18 356.37,99.18 356.62,99.17 356.88,99.16 357.13,99.16 357.38,99.16 357.64,99.19 357.89,99.23 358.14,99.29 358.40,99.36 358.65,99.42 358.91,99.48 359.16,99.53 359.41,99.56 359.67,99.57 359.92,99.55 360.18,99.52 360.43,99.48 360.68,99.42 360.94,99.35 361.19,99.27 361.44,99.17 361.70,99.06 361.95,98.93 362.21,98.76 362.46,98.56 362.71,98.32 362.97,98.04 363.22,97.72 363.47,97.34 363.73,96.91 363.98,96.44 364.24,95.91 364.49,95.34 364.74,94.73 365.00,94.10 365.25,93.46 365.51,92.86 365.76,92.31 366.01,91.87 366.27,91.56 366.52,91.40 366.77,91.42 367.03,91.61 367.28,91.96 367.54,92.43 367.79,93.01 368.04,93.64 368.30,94.31 368.55,94.99 368.81,95.67 369.06,96.31 369.31,96.93 369.57,97.50 369.82,98.02 370.07,98.48 370.33,98.87 370.58,99.20 370.84,99.47 371.09,99.68 371.34,99.83 371.60,99.94 371.85,100.01 372.11,100.06 372.36,100.10 372.61,100.13 372.87,100.16 373.12,100.19 373.37,100.24 373.63,100.29 373.88,100.35 374.14,100.42 374.39,100.50 374.64,100.58 374.90,100.67 375.15,100.76 375.41,100.84 375.66,100.91 375.91,100.96 376.17,101.00 376.42,101.02 376.67,101.03 376.93,101.03 377.18,101.00 377.44,100.96 377.69,100.93 377.94,100.92 378.20,100.91 378.45,100.91 378.71,100.91 378.96,100.91 379.21,100.92 379.47,100.92 379.72,100.91 379.97,100.89 380.23,100.87 380.48,100.84 380.74,100.80 380.99,100.75 381.24,100.70 381.50,100.63 381.75,100.56 382.01,100.48 382.26,100.41 382.51,100.34 382.77,100.27 383.02,100.21 383.27,100.15 383.53,100.10 383.78,100.05 384.04,100.00 384.29,99.97 384.54,99.94 384.80,99.93 385.05,99.92 385.31,99.92 385.56,99.92 385.81,99.91 386.07,99.89 386.32,99.86 386.57,99.81 386.83,99.76 387.08,99.71 387.34,99.66 387.59,99.62 387.84,99.58 388.10,99.54 388.35,99.52 388.60,99.49 388.86,99.47 389.11,99.46 389.37,99.44 389.62,99.42 389.87,99.40 390.13,99.38 390.38,99.37 390.64,99.35 390.89,99.34 391.14,99.34 391.40,99.39 391.65,99.45 391.90,99.51 392.16,99.57 392.41,99.62 392.67,99.65 392.92,99.67 393.17,99.67 393.43,99.67 393.68,99.66 393.94,99.66 394.19,99.67 394.44,99.70 394.70,99.73 394.95,99.76 395.20,99.79 395.46,99.81 395.71,99.80 395.97,99.78 396.22,99.74 396.47,99.67 396.73,99.60 396.98,99.51 397.24,99.41 397.49,99.31 397.74,99.19 398.00,99.04 398.25,98.87 398.50,98.66 398.76,98.40 399.01,98.08 399.27,97.70 399.52,97.27 399.77,96.79 400.03,96.28 400.28,95.77 400.54,95.30 400.79,94.90 401.04,94.61 401.30,94.46 401.55,94.47 401.80,94.65 402.06,94.96 402.31,95.39 402.57,95.90 402.82,96.45 403.07,97.00 403.33,97.53 403.58,98.02 403.84,98.46 404.09,98.84 404.34,99.15 404.60,99.41 404.85,99.61 405.10,99.78 405.36,99.91 405.61,100.02 405.87,100.11 406.12,100.19 406.37,100.26 406.63,100.32 406.88,100.38 407.14,100.42 407.39,100.45 407.64,100.47 407.90,100.47 408.15,100.46 408.40,100.44 408.66,100.42 408.91,100.40 409.17,100.40 409.42,100.41 409.67,100.43 409.93,100.47 410.18,100.53 410.43,100.59 410.69,100.66 410.94,100.72 411.20,100.76 411.45,100.79 411.70,100.79 411.96,100.78 412.21,100.76 412.47,100.72 412.72,100.67 412.97,100.61 413.23,100.54 413.48,100.47 413.73,100.40 413.99,100.32 414.24,100.25 414.50,100.18 414.75,100.11 415.00,100.02 415.26,99.90 415.51,99.75 415.77,99.55 416.02,99.29 416.27,98.96 416.53,98.56 416.78,98.09 417.03,97.56 417.29,96.98 417.54,96.37 417.80,95.74 418.05,95.11 418.30,94.49 418.56,93.92 418.81,93.40 419.07,92.97 419.32,92.65 419.57,92.47 419.83,92.43 420.08,92.55 420.33,92.82 420.59,93.20 420.84,93.69 421.10,94.26 421.35,94.86 421.60,95.49 421.86,96.11 422.11,96.72 422.37,97.28 422.62,97.78 422.87,98.22 423.13,98.58 423.38,98.87 423.63,99.10 423.89,99.25 424.14,99.35 424.40,99.39 424.65,99.38 424.90,99.32 425.16,99.21 425.41,99.04 425.67,98.81 425.92,98.51 426.17,98.15 426.43,97.73 426.68,97.27 426.93,96.77 427.19,96.25 427.44,95.72 427.70,95.22 427.95,94.77 428.20,94.39 428.46,94.12 428.71,93.96 428.97,93.94 429.22,94.04 429.47,94.28 429.73,94.62 429.98,95.04 430.23,95.54 430.49,96.08 430.74,96.64 431.00,97.20 431.25,97.75 431.50,98.27 431.76,98.74 432.01,99.16 432.26,99.52 432.52,99.82 432.77,100.06 433.03,100.26 433.28,100.41 433.53,100.52 433.79,100.60 434.04,100.65 434.30,100.66 434.55,100.65 434.80,100.60 435.06,100.53 435.31,100.48 435.56,100.43 435.82,100.38 436.07,100.34 436.33,100.31 436.58,100.30 436.83,100.31 437.09,100.34 437.34,100.40 437.60,100.47 437.85,100.55 438.10,100.64 438.36,100.75 438.61,100.87 438.86,101.00 439.12,101.14 439.37,101.29 439.63,101.45 439.88,101.62 440.13,101.79 440.39,101.96 440.64,102.12 440.90,102.26 441.15,102.40 441.40,102.52 441.66,102.64 441.91,102.75 442.16,102.85 442.42,102.96 442.67,103.07 442.93,103.18 443.18,103.29 443.43,103.38 443.69,103.47 443.94,103.54 444.20,103.59 444.45,103.62 444.70,103.64 444.96,103.66 445.21,103.68 445.46,103.71 445.72,103.75 445.97,103.81 446.23,103.89 446.48,103.98 446.73,104.09 446.99,104.21 447.24,104.34 447.50,104.47 447.75,104.60 448.00,104.73 448.26,104.85 448.51,104.92 448.76,104.97 449.02,105.01 449.27,105.03 449.53,105.04 449.78,105.02 450.03,104.99 450.29,104.95 450.54,104.90 450.80,104.86 451.05,104.83 451.30,104.81 451.56,104.79 451.81,104.77 452.06,104.76 452.32,104.74 452.57,104.71 452.83,104.69 453.08,104.66 453.33,104.64 453.59,104.62 453.84,104.61 454.09,104.61 454.35,104.61 454.60,104.62 454.86,104.63 455.11,104.65 455.36,104.67 455.62,104.69 455.87,104.70 456.13,104.72 456.38,104.74 456.63,104.74 456.89,104.74 457.14,104.74 457.39,104.73 457.65,104.72 457.90,104.72 458.16,104.73 458.41,104.75 458.66,104.79 458.92,104.85 459.17,104.92 459.43,105.00 459.68,105.09 459.93,105.18 460.19,105.26 460.44,105.33 460.69,105.36 460.95,105.37 461.20,105.34 461.46,105.28 461.71,105.20 461.96,105.10 462.22,105.00 462.47,104.91 462.73,104.82 462.98,104.76 463.23,104.71 463.49,104.68 463.74,104.66 463.99,104.65 464.25,104.65 464.50,104.65 464.76,104.66 465.01,104.68 465.26,104.71 465.52,104.75 465.77,104.80 466.03,104.85 466.28,104.91 466.53,104.97 466.79,105.03 467.04,105.07 467.29,105.11 467.55,105.15 467.80,105.17 468.06,105.19 468.31,105.19 468.56,105.20 468.82,105.20 469.07,105.19 469.33,105.18 469.58,105.17 469.83,105.16 470.09,105.16 470.34,105.16 470.59,105.17 470.85,105.18 471.10,105.20 471.36,105.23 471.61,105.26 471.86,105.29 472.12,105.32 472.37,105.34 472.63,105.35 472.88,105.35 473.13,105.35 473.39,105.35 473.64,105.35 473.89,105.36 474.15,105.39 474.40,105.42 474.66,105.46 474.91,105.49 475.16,105.52 475.42,105.54 475.67,105.53 475.93,105.51 476.18,105.48 476.43,105.43 476.69,105.37 476.94,105.27 477.19,105.15 477.45,105.03 477.70,104.92 477.96,104.82 478.21,104.74 478.46,104.67 478.72,104.62 478.97,104.60 479.22,104.59 479.48,104.59 479.73,104.60 479.99,104.59 480.24,104.57 480.49,104.52 480.75,104.44 481.00,104.33 481.26,104.21 481.51,104.08 481.76,103.96 482.02,103.85 482.27,103.77 482.52,103.71 482.78,103.67 483.03,103.64 483.29,103.61 483.54,103.57 483.79,103.52 484.05,103.47 484.30,103.40 484.56,103.32 484.81,103.24 485.06,103.16 485.32,103.08 485.57,102.99 485.82,102.91 486.08,102.82 486.33,102.73 486.59,102.64 486.84,102.55 487.09,102.46 487.35,102.38 487.60,102.30 487.86,102.23 488.11,102.17 488.36,102.10 488.62,102.04 488.87,101.98 489.12,101.92 489.38,101.86 489.63,101.79 489.89,101.72 490.14,101.64 490.39,101.57 490.65,101.49 490.90,101.41 491.16,101.35 491.41,101.29 491.66,101.23 491.92,101.16 492.17,101.09 492.42,101.00 492.68,100.90 492.93,100.76 493.19,100.60 493.44,100.40 493.69,100.18 493.95,99.93 494.20,99.64 494.46,99.33 494.71,98.98 494.96,98.60 495.22,98.16 495.47,97.66 495.72,97.11 495.98,96.48 496.23,95.79 496.49,95.02 496.74,94.19 496.99,93.29 497.25,92.33 497.50,91.31 497.76,90.25 498.01,89.16 498.26,88.06 498.52,86.99 498.77,85.96 499.02,85.01 499.28,84.17 499.53,83.46 499.79,82.92 500.04,82.55 500.29,82.37 500.55,82.38 500.80,82.57 501.05,82.92 501.31,83.42 501.56,84.04 501.82,84.77 502.07,85.58 502.32,86.45 502.58,87.36 502.83,88.30 503.09,89.25 503.34,90.18 503.59,91.08 503.85,91.94 504.10,92.74 504.35,93.48 504.61,94.14 504.86,94.73 505.12,95.25 505.37,95.70 505.62,96.09 505.88,96.41 506.13,96.67 506.39,96.87 506.64,97.01 506.89,97.11 507.15,97.17 507.40,97.20 507.65,97.23 507.91,97.25 508.16,97.27 508.42,97.31 508.67,97.35 508.92,97.39 509.18,97.44 509.43,97.48 509.69,97.51 509.94,97.55 510.19,97.61 510.45,97.66 510.70,97.69 510.95,97.71 511.21,97.72 511.46,97.74 511.72,97.75 511.97,97.75 512.22,97.76 512.48,97.75 512.73,97.73 512.99,97.70 513.24,97.66 513.49,97.61 513.75,97.55 514.00,97.49 514.25,97.43 514.51,97.36 514.76,97.27 515.02,97.17 515.27,97.05 515.52,96.89 515.78,96.71 516.03,96.50 516.29,96.24 516.54,95.96 516.79,95.63 517.05,95.28 517.30,94.89 517.55,94.48 517.81,94.05 518.06,93.61 518.32,93.15 518.57,92.68 518.82,92.22 519.08,91.76 519.33,91.32 519.59,90.92 519.84,90.57 520.09,90.30 520.35,90.12 520.60,90.05 520.85,90.08 521.11,90.22 521.36,90.46 521.62,90.78 521.87,91.17 522.12,91.60 522.38,92.07 522.63,92.57 522.88,93.08 523.14,93.61 523.39,94.12 523.65,94.63 523.90,95.11 524.15,95.56 524.41,95.97 524.66,96.33 524.92,96.65 525.17,96.93 525.42,97.18 525.68,97.42 525.93,97.64 526.18,97.84 526.44,98.00 526.69,98.16 526.95,98.31 527.20,98.45 527.45,98.57 527.71,98.66 527.96,98.72 528.22,98.75 528.47,98.76 528.72,98.75 528.98,98.72 529.23,98.69 529.48,98.67 529.74,98.64 529.99,98.62 530.25,98.60 530.50,98.58 530.75,98.56 531.01,98.54 531.26,98.50 531.52,98.46 531.77,98.41 532.02,98.33 532.28,98.24 532.53,98.14 532.78,98.04 533.04,97.93 533.29,97.84 533.55,97.76 533.80,97.70" stroke="#3277df"/>
<polyline points="305.60,130.84 305.85,130.82 306.11,130.81 306.36,130.82 306.62,130.84 306.87,130.86 307.12,130.88 307.38,130.90 307.63,130.91 307.88,130.92 308.14,130.92 308.39,130.91 308.65,130.90 308.90,130.88 309.15,130.84 309.41,130.79 309.66,130.73 309.92,130.65 310.17,130.56 310.42,130.47 310.68,130.39 310.93,130.31 311.18,130.23 311.44,130.16 311.69,130.10 311.95,130.04 312.20,129.98 312.45,129.93 312.71,129.88 312.96,129.85 313.22,129.83 313.47,129.83 313.72,129.83 313.98,129.83 314.23,129.82 314.48,129.80 314.74,129.76 314.99,129.71 315.25,129.66 315.50,129.61 315.75,129.57 316.01,129.55 316.26,129.55 316.52,129.57 316.77,129.60 317.02,129.62 317.28,129.64 317.53,129.65 317.78,129.64 318.04,129.62 318.29,129.59 318.55,129.55 318.80,129.51 319.05,129.46 319.31,129.42 319.56,129.36 319.81,129.31 320.07,129.26 320.32,129.22 320.58,129.18 320.83,129.16 321.08,129.13 321.34,129.10 321.59,129.07 321.85,129.02 322.10,128.95 322.35,128.87 322.61,128.77 322.86,128.68 323.11,128.59 323.37,128.51 323.62,128.45 323.88,128.41 324.13,128.38 324.38,128.36 324.64,128.34 324.89,128.33 325.15,128.32 325.40,128.32 325.65,128.33 325.91,128.35 326.16,128.41 326.41,128.49 326.67,128.57 326.92,128.66 327.18,128.74 327.43,128.80 327.68,128.83 327.94,128.83 328.19,128.79 328.45,128.72 328.70,128.63 328.95,128.52 329.21,128.41 329.46,128.32 329.71,128.25 329.97,128.20 330.22,128.19 330.48,128.19 330.73,128.21 330.98,128.23 331.24,128.23 331.49,128.21 331.75,128.17 332.00,128.11 332.25,128.04 332.51,127.96 332.76,127.89 333.01,127.83 333.27,127.78 333.52,127.73 333.78,127.68 334.03,127.61 334.28,127.51 334.54,127.39 334.79,127.24 335.05,127.08 335.30,126.90 335.55,126.72 335.81,126.53 336.06,126.36 336.31,126.19 336.57,126.02 336.82,125.86 337.08,125.71 337.33,125.55 337.58,125.40 337.84,125.25 338.09,125.09 338.35,124.93 338.60,124.76 338.85,124.60 339.11,124.44 339.36,124.29 339.61,124.14 339.87,124.00 340.12,123.87 340.38,123.74 340.63,123.61 340.88,123.49 341.14,123.39 341.39,123.30 341.64,123.23 341.90,123.19 342.15,123.17 342.41,123.19 342.66,123.24 342.91,123.31 343.17,123.39 343.42,123.49 343.68,123.58 343.93,123.66 344.18,123.74 344.44,123.81 344.69,123.89 344.94,123.99 345.20,124.11 345.45,124.25 345.71,124.42 345.96,124.60 346.21,124.79 346.47,124.99 346.72,125.17 346.98,125.34 347.23,125.50 347.48,125.64 347.74,125.75 347.99,125.86 348.24,125.94 348.50,126.01 348.75,126.08 349.01,126.13 349.26,126.19 349.51,126.25 349.77,126.32 350.02,126.39 350.28,126.47 350.53,126.56 350.78,126.66 351.04,126.75 351.29,126.85 351.54,126.95 351.80,127.04 352.05,127.11 352.31,127.18 352.56,127.22 352.81,127.26 353.07,127.29 353.32,127.31 353.58,127.34 353.83,127.37 354.08,127.41 354.34,127.43 354.59,127.45 354.84,127.44 355.10,127.42 355.35,127.39 355.61,127.35 355.86,127.32 356.11,127.29 356.37,127.29 356.62,127.30 356.88,127.32 357.13,127.36 357.38,127.39 357.64,127.42 357.89,127.44 358.14,127.45 358.40,127.45 358.65,127.45 358.91,127.43 359.16,127.41 359.41,127.38 359.67,127.33 359.92,127.26 360.18,127.18 360.43,127.07 360.68,126.96 360.94,126.84 361.19,126.73 361.44,126.63 361.70,126.56 361.95,126.52 362.21,126.51 362.46,126.52 362.71,126.56 362.97,126.61 363.22,126.65 363.47,126.68 363.73,126.67 363.98,126.64 364.24,126.59 364.49,126.52 364.74,126.45 365.00,126.38 365.25,126.34 365.51,126.32 365.76,126.33 366.01,126.36 366.27,126.41 366.52,126.47 366.77,126.54 367.03,126.61 367.28,126.69 367.54,126.75 367.79,126.82 368.04,126.88 368.30,126.94 368.55,126.99 368.81,127.04 369.06,127.08 369.31,127.12 369.57,127.16 369.82,127.19 370.07,127.23 370.33,127.26 370.58,127.29 370.84,127.33 371.09,127.36 371.34,127.39 371.60,127.42 371.85,127.43 372.11,127.43 372.36,127.42 372.61,127.40 372.87,127.36 373.12,127.31 373.37,127.26 373.63,127.21 373.88,127.16 374.14,127.12 374.39,127.08 374.64,127.05 374.90,127.01 375.15,126.97 375.41,126.92 375.66,126.86 375.91,126.79 376.17,126.71 376.42,126.63 376.67,126.55 376.93,126.48 377.18,126.42 377.44,126.36 377.69,126.31 377.94,126.26 378.20,126.22 378.45,126.19 378.71,126.17 378.96,126.18 379.21,126.21 379.47,126.27 379.72,126.36 379.97,126.46 380.23,126.57 380.48,126.68 380.74,126.78 380.99,126.87 381.24,126.95 381.50,127.01 381.75,127.07 382.01,127.13 382.26,127.20 382.51,127.27 382.77,127.35 383.02,127.42 383.27,127.49 383.53,127.55 383.78,127.58 384.04,127.59 384.29,127.57 384.54,127.52 384.80,127.45 385.05,127.37 385.31,127.30 385.56,127.23 385.81,127.19 386.07,127.17 386.32,127.17 386.57,127.18 386.83,127.20 387.08,127.22 387.34,127.24 387.59,127.25 387.84,127.25 388.10,127.24 388.35,127.22 388.60,127.20 388.86,127.19 389.11,127.18 389.37,127.17 389.62,127.17 389.87,127.18 390.13,127.20 390.38,127.22 390.64,127.24 390.89,127.27 391.14,127.29 391.40,127.31 391.65,127.33 391.90,127.35 392.16,127.36 392.41,127.36 392.67,127.34 392.92,127.31 393.17,127.25 393.43,127.18 393.68,127.10 393.94,127.01 394.19,126.94 394.44,126.89 394.70,126.85 394.95,126.83 395.20,126.81 395.46,126.77 395.71,126.70 395.97,126.55 396.22,126.33 396.47,126.00 396.73,125.56 396.98,125.00 397.24,124.34 397.49,123.58 397.74,122.75 398.00,121.89 398.25,121.05 398.50,120.26 398.76,119.60 399.01,119.11 399.27,118.86 399.52,118.85 399.77,119.11 400.03,119.60 400.28,120.25 400.54,121.03 400.79,121.85 401.04,122.69 401.30,123.49 401.55,124.22 401.80,124.88 402.06,125.45 402.31,125.92 402.57,126.31 402.82,126.63 403.07,126.88 403.33,127.09 403.58,127.26 403.84,127.39 404.09,127.50 404.34,127.57 404.60,127.62 404.85,127.65 405.10,127.65 405.36,127.65 405.61,127.64 405.87,127.63 406.12,127.64 406.37,127.65 406.63,127.68 406.88,127.70 407.14,127.73 407.39,127.74 407.64,127.75 407.90,127.74 408.15,127.73 408.40,127.73 408.66,127.73 408.91,127.75 409.17,127.78 409.42,127.83 409.67,127.88 409.93,127.94 410.18,127.98 410.43,128.02 410.69,128.03 410.94,128.04 411.20,128.03 411.45,128.00 411.70,127.98 411.96,127.94 412.21,127.91 412.47,127.88 412.72,127.86 412.97,127.83 413.23,127.82 413.48,127.81 413.73,127.80 413.99,127.80 414.24,127.81 414.50,127.82 414.75,127.84 415.00,127.86 415.26,127.89 415.51,127.92 415.77,127.95 416.02,127.96 416.27,127.97 416.53,127.98 416.78,127.97 417.03,127.97 417.29,127.97 417.54,127.98 417.80,127.99 418.05,128.00 418.30,128.00 418.56,128.00 418.81,127.99 419.07,127.98 419.32,127.96 419.57,127.95 419.83,127.96 420.08,127.99 420.33,128.03 420.59,128.09 420.84,128.15 421.10,128.22 421.35,128.28 421.60,128.34 421.86,128.37 422.11,128.40 422.37,128.41 422.62,128.41 422.87,128.40 423.13,128.39 423.38,128.37 423.63,128.35 423.89,128.31 424.14,128.26 424.40,128.20 424.65,128.14 424.90,128.07 425.16,128.02 425.41,127.99 425.67,127.98 425.92,128.00 426.17,128.05 426.43,128.14 426.68,128.24 426.93,128.36 427.19,128.48 427.44,128.59 427.70,128.68 427.95,128.74 428.20,128.77 428.46,128.77 428.71,128.75 428.97,128.70 429.22,128.65 429.47,128.59 429.73,128.54 429.98,128.49 430.23,128.46 430.49,128.43 430.74,128.42 431.00,128.42 431.25,128.43 431.50,128.45 431.76,128.47 432.01,128.50 432.26,128.53 432.52,128.56 432.77,128.59 433.03,128.63 433.28,128.67 433.53,128.71 433.79,128.75 434.04,128.79 434.30,128.82 434.55,128.83 434.80,128.83 435.06,128.82 435.31,128.80 435.56,128.76 435.82,128.72 436.07,128.68 436.33,128.64 436.58,128.60 436.83,128.57 437.09,128.55 437.34,128.52 437.60,128.51 437.85,128.50 438.10,128.50 438.36,128.51 438.61,128.53 438.86,128.55 439.12,128.57 439.37,128.59 439.63,128.61 439.88,128.63 440.13,128.64 440.39,128.65 440.64,128.67 440.90,128.69 441.15,128.73 441.40,128.77 441.66,128.83 441.91,128.89 442.16,128.96 442.42,129.02 442.67,129.07 442.93,129.11 443.18,129.12 443.43,129.13 443.69,129.12 443.94,129.11 444.20,129.09 444.45,129.08 444.70,129.08 444.96,129.08 445.21,129.10 445.46,129.12 445.72,129.14 445.97,129.17 446.23,129.19 446.48,129.21 446.73,129.22 446.99,129.23 447.24,129.23 447.50,129.23 447.75,129.24 448.00,129.26 448.26,129.29 448.51,129.32 448.76,129.37 449.02,129.41 449.27,129.46 449.53,129.50 449.78,129.53 450.03,129.55 450.29,129.56 450.54,129.56 450.80,129.55 451.05,129.54 451.30,129.53 451.56,129.52 451.81,129.51 452.06,129.51 452.32,129.51 452.57,129.51 452.83,129.51 453.08,129.51 453.33,129.51 453.59,129.51 453.84,129.52 454.09,129.53 454.35,129.55 454.60,129.58 454.86,129.62 455.11,129.67 455.36,129.72 455.62,129.77 455.87,129.83 456.13,129.88 456.38,129.94 456.63,130.00 456.89,130.05 457.14,130.09 457.39,130.11 457.65,130.12 457.90,130.11 458.16,130.07 458.41,130.03 458.66,129.97 458.92,129.92 459.17,129.87 459.43,129.83 459.68,129.81 459.93,129.81 460.19,129.82 460.44,129.84 460.69,129.88 460.95,129.93 461.20,129.99 461.46,130.06 461.71,130.13 461.96,130.21 462.22,130.27 462.47,130.32 462.73,130.35 462.98,130.37 463.23,130.37 463.49,130.37 463.74,130.36 463.99,130.35 464.25,130.36 464.50,130.37 464.76,130.40 465.01,130.44 465.26,130.48 465.52,130.51 465.77,130.53 466.03,130.53 466.28,130.51 466.53,130.47 466.79,130.41 467.04,130.33 467.29,130.24 467.55,130.15 467.80,130.07 468.06,130.02 468.31,129.99 468.56,129.99 468.82,130.01 469.07,130.05 469.33,130.10 469.58,130.15 469.83,130.19 470.09,130.21 470.34,130.23 470.59,130.23 470.85,130.23 471.10,130.23 471.36,130.22 471.61,130.21 471.86,130.20 472.12,130.19 472.37,130.18 472.63,130.17 472.88,130.17 473.13,130.17 473.39,130.18 473.64,130.19 473.89,130.19 474.15,130.18 474.40,130.16 474.66,130.13 474.91,130.09 475.16,130.05 475.42,130.00 475.67,129.96 475.93,129.93 476.18,129.90 476.43,129.87 476.69,129.86 476.94,129.85 477.19,129.85 477.45,129.85 477.70,129.86 477.96,129.87 478.21,129.89 478.46,129.91 478.72,129.93 478.97,129.95 479.22,129.96 479.48,129.97 479.73,129.97 479.99,129.96 480.24,129.95 480.49,129.93 480.75,129.90 481.00,129.86 481.26,129.81 481.51,129.77 481.76,129.72 482.02,129.69 482.27,129.66 482.52,129.65 482.78,129.64 483.03,129.65 483.29,129.67 483.54,129.70 483.79,129.72 484.05,129.74 484.30,129.75 484.56,129.75 484.81,129.73 485.06,129.69 485.32,129.64 485.57,129.57 485.82,129.50 486.08,129.43 486.33,129.38 486.59,129.34 486.84,129.32 487.09,129.31 487.35,129.32 487.60,129.32 487.86,129.33 488.11,129.32 488.36,129.30 488.62,129.27 488.87,129.24 489.12,129.20 489.38,129.16 489.63,129.13 489.89,129.11 490.14,129.10 490.39,129.11 490.65,129.12 490.90,129.15 491.16,129.18 491.41,129.22 491.66,129.27 491.92,129.31 492.17,129.37 492.42,129.43 492.68,129.48 492.93,129.54 493.19,129.58 493.44,129.61 493.69,129.63 493.95,129.62 494.20,129.60 494.46,129.56 494.71,129.52 494.96,129.46 495.22,129.41 495.47,129.37 495.72,129.32 495.98,129.28 496.23,129.23 496.49,129.18 496.74,129.11 496.99,129.03 497.25,128.92 497.50,128.79 497.76,128.63 498.01,128.45 498.26,128.26 498.52,128.04 498.77,127.80 499.02,127.55 499.28,127.28 499.53,126.99 499.79,126.68 500.04,126.36 500.29,126.03 500.55,125.71 500.80,125.42 501.05,125.17 501.31,124.98 501.56,124.87 501.82,124.84 502.07,124.90 502.32,125.04 502.58,125.26 502.83,125.53 503.09,125.83 503.34,126.16 503.59,126.48 503.85,126.79 504.10,127.08 504.35,127.34 504.61,127.59 504.86,127.81 505.12,128.02 505.37,128.21 505.62,128.38 505.88,128.53 506.13,128.66 506.39,128.77 506.64,128.86 506.89,128.93 507.15,129.00 507.40,129.06 507.65,129.12 507.91,129.17 508.16,129.22 508.42,129.26 508.67,129.28 508.92,129.30 509.18,129.30 509.43,129.28 509.69,129.26 509.94,129.22 510.19,129.19 510.45,129.16 510.70,129.13 510.95,129.11 511.21,129.10 511.46,129.11 511.72,129.13 511.97,129.16 512.22,129.21 512.48,129.27 512.73,129.32 512.99,129.36 513.24,129.39 513.49,129.40 513.75,129.39 514.00,129.37 514.25,129.33 514.51,129.28 514.76,129.23 515.02,129.17 515.27,129.11 515.52,129.05 515.78,128.99 516.03,128.94 516.29,128.90 516.54,128.86 516.79,128.83 517.05,128.79 517.30,128.75 517.55,128.71 517.81,128.65 518.06,128.57 518.32,128.48 518.57,128.38 518.82,128.25 519.08,128.11 519.33,127.95 519.59,127.77 519.84,127.59 520.09,127.41 520.35,127.24 520.60,127.09 520.85,126.98 521.11,126.93 521.36,126.92 521.62,126.98 521.87,127.08 522.12,127.23 522.38,127.41 522.63,127.60 522.88,127.79 523.14,127.98 523.39,128.15 523.65,128.30 523.90,128.42 524.15,128.52 524.41,128.60 524.66,128.65 524.92,128.69 525.17,128.70 525.42,128.71 525.68,128.72 525.93,128.72 526.18,128.74 526.44,128.77 526.69,128.80 526.95,128.85 527.20,128.89 527.45,128.93 527.71,128.96 527.96,128.98 528.22,128.98 528.47,128.96 528.72,128.93 528.98,128.90 529.23,128.86 529.48,128.83 529.74,128.81 529.99,128.80 530.25,128.80 530.50,128.80 530.75,128.80 531.01,128.80 531.26,128.79 531.52,128.77 531.77,128.74 532.02,128.71 532.28,128.69 532.53,128.68 532.78,128.69 533.04,128.72 533.29,128.77 533.55,128.82 533.80,128.88" stroke="#ec4449"/>
<polyline points="305.60,158.25 305.85,158.27 306.11,158.28 306.36,158.26 306.62,158.23 306.87,158.19 307.12,158.13 307.38,158.08 307.63,158.03 307.88,158.01 308.14,157.99 308.39,157.99 308.65,158.00 308.90,158.01 309.15,158.02 309.41,158.01 309.66,157.99 309.92,157.97 310.17,157.95 310.42,157.93 310.68,157.92 310.93,157.92 311.18,157.92 311.44,157.92 311.69,157.93 311.95,157.94 312.20,157.94 312.45,157.95 312.71,157.95 312.96,157.96 313.22,157.97 313.47,157.99 313.72,158.01 313.98,158.04 314.23,158.07 314.48,158.11 314.74,158.15 314.99,158.19 315.25,158.22 315.50,158.25 315.75,158.27 316.01,158.28 316.26,158.29 316.52,158.29 316.77,158.28 317.02,158.27 317.28,158.24 317.53,158.19 317.78,158.13 318.04,158.06 318.29,157.99 318.55,157.92 318.80,157.86 319.05,157.82 319.31,157.81 319.56,157.81 319.81,157.84 320.07,157.87 320.32,157.91 320.58,157.94 320.83,157.96 321.08,157.96 321.34,157.95 321.59,157.93 321.85,157.91 322.10,157.89 322.35,157.89 322.61,157.90 322.86,157.92 323.11,157.96 323.37,158.00 323.62,158.04 323.88,158.07 324.13,158.08 324.38,158.07 324.64,158.04 324.89,158.00 325.15,157.95 325.40,157.90 325.65,157.86 325.91,157.84 326.16,157.83 326.41,157.84 326.67,157.86 326.92,157.90 327.18,157.94 327.43,157.98 327.68,158.01 327.94,158.03 328.19,158.02 328.45,157.99 328.70,157.93 328.95,157.85 329.21,157.75 329.46,157.63 329.71,157.51 329.97,157.40 330.22,157.31 330.48,157.25 330.73,157.21 330.98,157.21 331.24,157.24 331.49,157.28 331.75,157.34 332.00,157.40 332.25,157.46 332.51,157.52 332.76,157.56 333.01,157.60 333.27,157.63 333.52,157.66 333.78,157.67 334.03,157.69 334.28,157.69 334.54,157.67 334.79,157.65 335.05,157.61 335.30,157.56 335.55,157.50 335.81,157.44 336.06,157.37 336.31,157.29 336.57,157.21 336.82,157.14 337.08,157.08 337.33,157.03 337.58,156.99 337.84,156.98 338.09,156.97 338.35,156.97 338.60,156.96 338.85,156.93 339.11,156.89 339.36,156.83 339.61,156.76 339.87,156.70 340.12,156.65 340.38,156.63 340.63,156.62 340.88,156.64 341.14,156.67 341.39,156.71 341.64,156.75 341.90,156.79 342.15,156.82 342.41,156.84 342.66,156.85 342.91,156.84 343.17,156.81 343.42,156.76 343.68,156.70 343.93,156.62 344.18,156.55 344.44,156.48 344.69,156.41 344.94,156.36 345.20,156.33 345.45,156.32 345.71,156.32 345.96,156.34 346.21,156.36 346.47,156.38 346.72,156.40 346.98,156.40 347.23,156.38 347.48,156.35 347.74,156.31 347.99,156.26 348.24,156.21 348.50,156.17 348.75,156.14 349.01,156.11 349.26,156.09 349.51,156.07 349.77,156.06 350.02,156.05 350.28,156.02 350.53,156.00 350.78,155.96 351.04,155.92 351.29,155.88 351.54,155.85 351.80,155.82 352.05,155.80 352.31,155.79 352.56,155.80 352.81,155.82 353.07,155.86 353.32,155.91 353.58,155.96 353.83,156.01 354.08,156.07 354.34,156.11 354.59,156.16 354.84,156.21 355.10,156.27 355.35,156.34 355.61,156.42 355.86,156.51 356.11,156.60 356.37,156.67 356.62,156.73 356.88,156.77 357.13,156.77 357.38,156.75 357.64,156.72 357.89,156.67 358.14,156.63 358.40,156.59 358.65,156.57 358.91,156.55 359.16,156.55 359.41,156.56 359.67,156.58 359.92,156.60 360.18,156.62 360.43,156.64 360.68,156.65 360.94,156.66 361.19,156.67 361.44,156.69 361.70,156.70 361.95,156.73 362.21,156.76 362.46,156.80 362.71,156.84 362.97,156.87 363.22,156.91 363.47,156.93 363.73,156.95 363.98,156.96 364.24,156.96 364.49,156.96 364.74,156.95 365.00,156.96 365.25,156.97 365.51,156.98 365.76,157.00 366.01,157.03 366.27,157.05 366.52,157.08 366.77,157.10 367.03,157.11 367.28,157.11 367.54,157.11 367.79,157.10 368.04,157.08 368.30,157.06 368.55,157.03 368.81,157.00 369.06,156.97 369.31,156.94 369.57,156.92 369.82,156.90 370.07,156.89 370.33,156.89 370.58,156.89 370.84,156.89 371.09,156.90 371.34,156.91 371.60,156.91 371.85,156.91 372.11,156.92 372.36,156.93 372.61,156.94 372.87,156.96 373.12,156.99 373.37,157.02 373.63,157.05 373.88,157.08 374.14,157.10 374.39,157.11 374.64,157.11 374.90,157.09 375.15,157.07 375.41,157.04 375.66,157.00 375.91,156.98 376.17,156.97 376.42,156.97 376.67,157.00 376.93,157.03 377.18,157.08 377.44,157.12 377.69,157.15 377.94,157.16 378.20,157.15 378.45,157.13 378.71,157.09 378.96,157.05 379.21,157.00 379.47,156.96 379.72,156.93 379.97,156.90 380.23,156.87 380.48,156.84 380.74,156.82 380.99,156.79 381.24,156.77 381.50,156.75 381.75,156.73 382.01,156.72 382.26,156.71 382.51,156.72 382.77,156.73 383.02,156.74 383.27,156.77 383.53,156.80 383.78,156.83 384.04,156.86 384.29,156.90 384.54,156.92 384.80,156.94 385.05,156.96 385.31,156.96 385.56,156.95 385.81,156.94 386.07,156.94 386.32,156.93 386.57,156.94 386.83,156.94 387.08,156.94 387.34,156.94 387.59,156.91 387.84,156.87 388.10,156.80 388.35,156.72 388.60,156.62 388.86,156.53 389.11,156.44 389.37,156.37 389.62,156.32 389.87,156.29 390.13,156.27 390.38,156.28 390.64,156.29 390.89,156.32 391.14,156.34 391.40,156.37 391.65,156.38 391.90,156.38 392.16,156.36 392.41,156.33 392.67,156.27 392.92,156.20 393.17,156.11 393.43,155.99 393.68,155.85 393.94,155.70 394.19,155.51 394.44,155.30 394.70,155.04 394.95,154.73 395.20,154.35 395.46,153.88 395.71,153.28 395.97,152.54 396.22,151.62 396.47,150.50 396.73,149.17 396.98,147.62 397.24,145.85 397.49,143.91 397.74,141.83 398.00,139.69 398.25,137.59 398.50,135.63 398.76,133.94 399.01,132.67 399.27,131.92 399.52,131.77 399.77,132.23 400.03,133.25 400.28,134.73 400.54,136.55 400.79,138.57 401.04,140.68 401.30,142.79 401.55,144.82 401.80,146.72 402.06,148.44 402.31,149.97 402.57,151.29 402.82,152.41 403.07,153.33 403.33,154.07 403.58,154.65 403.84,155.10 404.09,155.44 404.34,155.69 404.60,155.87 404.85,155.99 405.10,156.08 405.36,156.14 405.61,156.17 405.87,156.18 406.12,156.19 406.37,156.19 406.63,156.19 406.88,156.20 407.14,156.21 407.39,156.24 407.64,156.27 407.90,156.31 408.15,156.35 408.40,156.38 408.66,156.40 408.91,156.40 409.17,156.40 409.42,156.38 409.67,156.36 409.93,156.35 410.18,156.34 410.43,156.35 410.69,156.37 410.94,156.40 411.20,156.43 411.45,156.47 411.70,156.50 411.96,156.53 412.21,156.55 412.47,156.56 412.72,156.56 412.97,156.56 413.23,156.56 413.48,156.56 413.73,156.57 413.99,156.58 414.24,156.60 414.50,156.63 414.75,156.67 415.00,156.70 415.26,156.72 415.51,156.73 415.77,156.72 416.02,156.69 416.27,156.64 416.53,156.58 416.78,156.51 417.03,156.43 417.29,156.36 417.54,156.31 417.80,156.28 418.05,156.27 418.30,156.28 418.56,156.33 418.81,156.39 419.07,156.46 419.32,156.54 419.57,156.62 419.83,156.68 420.08,156.74 420.33,156.77 420.59,156.80 420.84,156.81 421.10,156.81 421.35,156.81 421.60,156.81 421.86,156.79 422.11,156.77 422.37,156.73 422.62,156.68 422.87,156.61 423.13,156.54 423.38,156.47 423.63,156.41 423.89,156.37 424.14,156.36 424.40,156.37 424.65,156.41 424.90,156.47 425.16,156.54 425.41,156.62 425.67,156.70 425.92,156.78 426.17,156.84 426.43,156.89 426.68,156.93 426.93,156.94 427.19,156.94 427.44,156.93 427.70,156.91 427.95,156.88 428.20,156.86 428.46,156.83 428.71,156.81 428.97,156.79 429.22,156.78 429.47,156.78 429.73,156.78 429.98,156.80 430.23,156.83 430.49,156.87 430.74,156.92 431.00,156.96 431.25,157.01 431.50,157.04 431.76,157.07 432.01,157.08 432.26,157.08 432.52,157.06 432.77,157.03 433.03,156.99 433.28,156.95 433.53,156.91 433.79,156.87 434.04,156.85 434.30,156.84 434.55,156.83 434.80,156.83 435.06,156.83 435.31,156.82 435.56,156.80 435.82,156.78 436.07,156.74 436.33,156.71 436.58,156.68 436.83,156.65 437.09,156.63 437.34,156.62 437.60,156.61 437.85,156.61 438.10,156.61 438.36,156.61 438.61,156.61 438.86,156.60 439.12,156.58 439.37,156.56 439.63,156.53 439.88,156.50 440.13,156.47 440.39,156.45 440.64,156.45 440.90,156.45 441.15,156.47 441.40,156.50 441.66,156.54 441.91,156.57 442.16,156.61 442.42,156.64 442.67,156.67 442.93,156.69 443.18,156.72 443.43,156.73 443.69,156.75 443.94,156.76 444.20,156.76 444.45,156.76 444.70,156.74 444.96,156.72 445.21,156.69 445.46,156.67 445.72,156.64 445.97,156.62 446.23,156.60 446.48,156.60 446.73,156.59 446.99,156.59 447.24,156.58 447.50,156.58 447.75,156.57 448.00,156.56 448.26,156.56 448.51,156.56 448.76,156.58 449.02,156.62 449.27,156.67 449.53,156.74 449.78,156.82 450.03,156.89 450.29,156.95 450.54,156.99 450.80,157.02 451.05,157.04 451.30,157.05 451.56,157.06 451.81,157.07 452.06,157.08 452.32,157.10 452.57,157.11 452.83,157.12 453.08,157.13 453.33,157.13 453.59,157.12 453.84,157.10 454.09,157.08 454.35,157.04 454.60,157.00 454.86,156.96 455.11,156.92 455.36,156.87 455.62,156.83 455.87,156.80 456.13,156.77 456.38,156.76 456.63,156.75 456.89,156.74 457.14,156.74 457.39,156.74 457.65,156.74 457.90,156.73 458.16,156.71 458.41,156.68 458.66,156.64 458.92,156.59 459.17,156.53 459.43,156.47 459.68,156.40 459.93,156.33 460.19,156.27 460.44,156.20 460.69,156.13 460.95,156.04 461.20,155.95 461.46,155.84 461.71,155.72 461.96,155.59 462.22,155.47 462.47,155.37 462.73,155.29 462.98,155.24 463.23,155.23 463.49,155.25 463.74,155.30 463.99,155.37 464.25,155.45 464.50,155.54 464.76,155.63 465.01,155.72 465.26,155.81 465.52,155.90 465.77,155.98 466.03,156.05 466.28,156.13 466.53,156.21 466.79,156.28 467.04,156.36 467.29,156.44 467.55,156.52 467.80,156.59 468.06,156.66 468.31,156.72 468.56,156.77 468.82,156.81 469.07,156.83 469.33,156.84 469.58,156.84 469.83,156.83 470.09,156.80 470.34,156.77 470.59,156.74 470.85,156.70 471.10,156.66 471.36,156.64 471.61,156.61 471.86,156.60 472.12,156.60 472.37,156.60 472.63,156.60 472.88,156.60 473.13,156.61 473.39,156.61 473.64,156.62 473.89,156.64 474.15,156.67 474.40,156.71 474.66,156.76 474.91,156.83 475.16,156.91 475.42,156.99 475.67,157.07 475.93,157.15 476.18,157.21 476.43,157.25 476.69,157.28 476.94,157.28 477.19,157.27 477.45,157.24 477.70,157.22 477.96,157.19 478.21,157.16 478.46,157.15 478.72,157.13 478.97,157.13 479.22,157.13 479.48,157.13 479.73,157.13 479.99,157.12 480.24,157.11 480.49,157.09 480.75,157.07 481.00,157.04 481.26,157.02 481.51,157.00 481.76,157.00 482.02,157.01 482.27,157.04 482.52,157.08 482.78,157.13 483.03,157.18 483.29,157.22 483.54,157.25 483.79,157.26 484.05,157.26 484.30,157.23 484.56,157.20 484.81,157.15 485.06,157.09 485.32,157.04 485.57,156.99 485.82,156.95 486.08,156.91 486.33,156.89 486.59,156.88 486.84,156.88 487.09,156.89 487.35,156.90 487.60,156.91 487.86,156.93 488.11,156.94 488.36,156.94 488.62,156.94 488.87,156.93 489.12,156.91 489.38,156.89 489.63,156.88 489.89,156.87 490.14,156.86 490.39,156.86 490.65,156.86 490.90,156.86 491.16,156.86 491.41,156.86 491.66,156.86 491.92,156.85 492.17,156.85 492.42,156.86 492.68,156.88 492.93,156.92 493.19,156.98 493.44,157.04 493.69,157.11 493.95,157.18 494.20,157.24 494.46,157.28 494.71,157.30 494.96,157.29 495.22,157.26 495.47,157.22 495.72,157.16 495.98,157.12 496.23,157.08 496.49,157.06 496.74,157.06 496.99,157.09 497.25,157.13 497.50,157.19 497.76,157.25 498.01,157.31 498.26,157.37 498.52,157.40 498.77,157.42 499.02,157.42 499.28,157.41 499.53,157.38 499.79,157.36 500.04,157.33 500.29,157.32 500.55,157.32 500.80,157.33 501.05,157.34 501.31,157.36 501.56,157.38 501.82,157.39 502.07,157.39 502.32,157.40 502.58,157.40 502.83,157.40 503.09,157.40 503.34,157.40 503.59,157.39 503.85,157.38 504.10,157.36 504.35,157.33 504.61,157.30 504.86,157.26 505.12,157.22 505.37,157.19 505.62,157.15 505.88,157.12 506.13,157.10 506.39,157.09 506.64,157.09 506.89,157.11 507.15,157.14 507.40,157.19 507.65,157.24 507.91,157.29 508.16,157.35 508.42,157.40 508.67,157.44 508.92,157.48 509.18,157.50 509.43,157.51 509.69,157.51 509.94,157.50 510.19,157.47 510.45,157.44 510.70,157.41 510.95,157.37 511.21,157.34 511.46,157.31 511.72,157.29 511.97,157.28 512.22,157.28 512.48,157.29 512.73,157.30 512.99,157.32 513.24,157.33 513.49,157.34 513.75,157.34 514.00,157.33 514.25,157.31 514.51,157.29 514.76,157.25 515.02,157.22 515.27,157.19 515.52,157.18 515.78,157.18 516.03,157.20 516.29,157.24 516.54,157.28 516.79,157.34 517.05,157.39 517.30,157.44 517.55,157.47 517.81,157.49 518.06,157.49 518.32,157.47 518.57,157.43 518.82,157.38 519.08,157.31 519.33,157.25 519.59,157.19 519.84,157.14 520.09,157.10 520.35,157.10 520.60,157.11 520.85,157.14 521.11,157.19 521.36,157.25 521.62,157.31 521.87,157.36 522.12,157.40 522.38,157.43 522.63,157.46 522.88,157.49 523.14,157.52 523.39,157.57 523.65,157.62 523.90,157.67 524.15,157.72 524.41,157.74 524.66,157.74 524.92,157.70 525.17,157.63 525.42,157.54 525.68,157.43 525.93,157.33 526.18,157.24 526.44,157.18 526.69,157.15 526.95,157.15 527.20,157.18 527.45,157.23 527.71,157.29 527.96,157.34 528.22,157.37 528.47,157.39 528.72,157.39 528.98,157.37 529.23,157.34 529.48,157.32 529.74,157.31 529.99,157.33 530.25,157.36 530.50,157.42 530.75,157.50 531.01,157.57 531.26,157.65 531.52,157.71 531.77,157.75 532.02,157.76 532.28,157.74 532.53,157.70 532.78,157.65 533.04,157.59 533.29,157.53 533.55,157.49 533.80,157.46" stroke="#4a4a4a"/>
</g>
<g clip-path="url(#clipC)" fill="none" stroke-width="1.65" stroke-linejoin="round">
<polyline points="26.40,291.83 26.65,291.71 26.91,291.59 27.16,291.46 27.42,291.35 27.67,291.25 27.92,291.17 28.18,291.10 28.43,291.06 28.69,291.03 28.94,291.02 29.19,291.02 29.45,291.02 29.70,291.02 29.96,291.01 30.21,291.00 30.46,290.96 30.72,290.91 30.97,290.84 31.23,290.74 31.48,290.63 31.74,290.50 31.99,290.37 32.24,290.23 32.50,290.08 32.75,289.95 33.01,289.84 33.26,289.74 33.51,289.66 33.77,289.60 34.02,289.55 34.28,289.51 34.53,289.48 34.78,289.43 35.04,289.37 35.29,289.33 35.55,289.27 35.80,289.21 36.05,289.14 36.31,289.07 36.56,289.00 36.82,288.93 37.07,288.86 37.32,288.80 37.58,288.73 37.83,288.67 38.09,288.59 38.34,288.52 38.59,288.43 38.85,288.37 39.10,288.32 39.36,288.26 39.61,288.20 39.87,288.16 40.12,288.15 40.37,288.17 40.63,288.22 40.88,288.28 41.14,288.35 41.39,288.40 41.64,288.45 41.90,288.47 42.15,288.46 42.41,288.43 42.66,288.35 42.91,288.25 43.17,288.10 43.42,287.92 43.68,287.70 43.93,287.47 44.18,287.21 44.44,286.94 44.69,286.62 44.95,286.21 45.20,285.65 45.45,284.93 45.71,284.05 45.96,283.06 46.22,282.05 46.47,281.14 46.72,280.48 46.98,280.18 47.23,280.26 47.49,280.63 47.74,281.12 48.00,281.56 48.25,281.80 48.50,281.73 48.76,281.34 49.01,280.67 49.27,279.84 49.52,279.01 49.77,278.41 50.03,278.25 50.28,278.64 50.54,279.54 50.79,280.82 51.04,282.28 51.30,283.77 51.55,285.16 51.81,286.37 52.06,287.35 52.31,288.11 52.57,288.67 52.82,289.05 53.08,289.30 53.33,289.46 53.58,289.56 53.84,289.62 54.09,289.66 54.35,289.69 54.60,289.72 54.85,289.73 55.11,289.74 55.36,289.74 55.62,289.73 55.87,289.72 56.13,289.71 56.38,289.70 56.63,289.71 56.89,289.72 57.14,289.73 57.40,289.74 57.65,289.72 57.90,289.68 58.16,289.57 58.41,289.39 58.67,289.10 58.92,288.69 59.17,288.12 59.43,287.39 59.68,286.50 59.94,285.48 60.19,284.41 60.44,283.39 60.70,282.55 60.95,282.04 61.21,281.98 61.46,282.40 61.71,283.22 61.97,284.29 62.22,285.45 62.48,286.60 62.73,287.62 62.98,288.49 63.24,289.17 63.49,289.68 63.75,290.04 64.00,290.29 64.25,290.45 64.51,290.56 64.76,290.64 65.02,290.70 65.27,290.75 65.53,290.79 65.78,290.83 66.03,290.86 66.29,290.88 66.54,290.91 66.80,290.93 67.05,290.95 67.30,290.97 67.56,290.97 67.81,290.97 68.07,290.97 68.32,290.97 68.57,290.95 68.83,290.93 69.08,290.90 69.34,290.86 69.59,290.83 69.84,290.81 70.10,290.80 70.35,290.80 70.61,290.83 70.86,290.88 71.11,290.94 71.37,291.00 71.62,291.07 71.88,291.13 72.13,291.17 72.38,291.19 72.64,291.19 72.89,291.18 73.15,291.15 73.40,291.11 73.66,291.05 73.91,291.00 74.16,290.94 74.42,290.88 74.67,290.82 74.93,290.77 75.18,290.73 75.43,290.70 75.69,290.68 75.94,290.67 76.20,290.66 76.45,290.65 76.70,290.65 76.96,290.64 77.21,290.63 77.47,290.61 77.72,290.59 77.97,290.57 78.23,290.54 78.48,290.51 78.74,290.47 78.99,290.41 79.24,290.32 79.50,290.15 79.75,289.87 80.01,289.42 80.26,288.78 80.51,287.97 80.77,287.09 81.02,286.31 81.28,285.85 81.53,285.90 81.79,286.44 82.04,287.26 82.29,288.15 82.55,288.94 82.80,289.56 83.06,290.00 83.31,290.29 83.56,290.46 83.82,290.57 84.07,290.64 84.33,290.69 84.58,290.72 84.83,290.75 85.09,290.78 85.34,290.80 85.60,290.82 85.85,290.84 86.10,290.85 86.36,290.87 86.61,290.88 86.87,290.89 87.12,290.88 87.37,290.87 87.63,290.83 87.88,290.78 88.14,290.68 88.39,290.54 88.64,290.32 88.90,290.00 89.15,289.54 89.41,288.92 89.66,288.12 89.92,287.15 90.17,286.05 90.42,284.90 90.68,283.80 90.93,282.91 91.19,282.37 91.44,282.29 91.69,282.68 91.95,283.46 92.20,284.47 92.46,285.56 92.71,286.63 92.96,287.58 93.22,288.38 93.47,288.99 93.73,289.40 93.98,289.64 94.23,289.70 94.49,289.59 94.74,289.33 95.00,288.93 95.25,288.40 95.50,287.78 95.76,287.10 96.01,286.44 96.27,285.90 96.52,285.56 96.77,285.50 97.03,285.75 97.28,286.26 97.54,286.93 97.79,287.66 98.04,288.37 98.30,289.01 98.55,289.56 98.81,289.99 99.06,290.31 99.32,290.54 99.57,290.70 99.82,290.81 100.08,290.89 100.33,290.96 100.59,291.02 100.84,291.08 101.09,291.15 101.35,291.23 101.60,291.31 101.86,291.40 102.11,291.49 102.36,291.59 102.62,291.67 102.87,291.73 103.13,291.78 103.38,291.80 103.63,291.80 103.89,291.77 104.14,291.73 104.40,291.66 104.65,291.59 104.90,291.51 105.16,291.43 105.41,291.36 105.67,291.30 105.92,291.26 106.17,291.23 106.43,291.21 106.68,291.20 106.94,291.19 107.19,291.19 107.45,291.18 107.70,291.17 107.95,291.15 108.21,291.13 108.46,291.12 108.72,291.12 108.97,291.14 109.22,291.17 109.48,291.21 109.73,291.27 109.99,291.32 110.24,291.38 110.49,291.42 110.75,291.45 111.00,291.47 111.26,291.47 111.51,291.47 111.76,291.45 112.02,291.44 112.27,291.43 112.53,291.43 112.78,291.44 113.03,291.46 113.29,291.49 113.54,291.53 113.80,291.57 114.05,291.62 114.30,291.67 114.56,291.73 114.81,291.78 115.07,291.82 115.32,291.86 115.58,291.90 115.83,291.93 116.08,291.96 116.34,291.98 116.59,292.02 116.85,292.06 117.10,292.10 117.35,292.16 117.61,292.21 117.86,292.25 118.12,292.27 118.37,292.25 118.62,292.21 118.88,292.13 119.13,292.04 119.39,291.94 119.64,291.86 119.89,291.79 120.15,291.75 120.40,291.74 120.66,291.75 120.91,291.78 121.16,291.81 121.42,291.84 121.67,291.87 121.93,291.88 122.18,291.89 122.43,291.88 122.69,291.87 122.94,291.85 123.20,291.82 123.45,291.78 123.71,291.74 123.96,291.70 124.21,291.65 124.47,291.61 124.72,291.57 124.98,291.54 125.23,291.52 125.48,291.52 125.74,291.52 125.99,291.53 126.25,291.55 126.50,291.57 126.75,291.60 127.01,291.64 127.26,291.68 127.52,291.72 127.77,291.76 128.02,291.79 128.28,291.82 128.53,291.83 128.79,291.82 129.04,291.79 129.29,291.74 129.55,291.68 129.80,291.60 130.06,291.52 130.31,291.44 130.56,291.37 130.82,291.30 131.07,291.25 131.33,291.20 131.58,291.16 131.83,291.12 132.09,291.09 132.34,291.07 132.60,291.05 132.85,291.05 133.11,291.06 133.36,291.08 133.61,291.11 133.87,291.14 134.12,291.17 134.38,291.17 134.63,291.14 134.88,291.05 135.14,290.88 135.39,290.61 135.65,290.20 135.90,289.61 136.15,288.79 136.41,287.72 136.66,286.36 136.92,284.76 137.17,282.96 137.42,281.08 137.68,279.32 137.93,277.90 138.19,277.07 138.44,277.01 138.69,277.72 138.95,279.05 139.20,280.74 139.46,282.56 139.71,284.34 139.96,285.93 140.22,287.27 140.47,288.33 140.73,289.14 140.98,289.72 141.24,290.13 141.49,290.40 141.74,290.58 142.00,290.70 142.25,290.77 142.51,290.81 142.76,290.83 143.01,290.84 143.27,290.83 143.52,290.83 143.78,290.82 144.03,290.81 144.28,290.80 144.54,290.79 144.79,290.77 145.05,290.75 145.30,290.71 145.55,290.64 145.81,290.51 146.06,290.30 146.32,289.97 146.57,289.49 146.82,288.82 147.08,287.94 147.33,286.86 147.59,285.59 147.84,284.20 148.09,282.79 148.35,281.51 148.60,280.55 148.86,280.08 149.11,280.22 149.37,280.92 149.62,282.04 149.87,283.38 150.13,284.77 150.38,286.08 150.64,287.23 150.89,288.17 151.14,288.90 151.40,289.43 151.65,289.80 151.91,290.06 152.16,290.23 152.41,290.34 152.67,290.42 152.92,290.47 153.18,290.49 153.43,290.49 153.68,290.47 153.94,290.43 154.19,290.39 154.45,290.34 154.70,290.30 154.95,290.26 155.21,290.24 155.46,290.22 155.72,290.21 155.97,290.21 156.22,290.21 156.48,290.22 156.73,290.24 156.99,290.26 157.24,290.29 157.49,290.31 157.75,290.32 158.00,290.33 158.26,290.31 158.51,290.27 158.77,290.22 159.02,290.15 159.27,290.06 159.53,289.97 159.78,289.85 160.04,289.73 160.29,289.59 160.54,289.44 160.80,289.25 161.05,289.04 161.31,288.80 161.56,288.50 161.81,288.13 162.07,287.68 162.32,287.12 162.58,286.44 162.83,285.60 163.08,284.61 163.34,283.44 163.59,282.10 163.85,280.60 164.10,278.96 164.35,277.22 164.61,275.43 164.86,273.66 165.12,272.00 165.37,270.52 165.62,269.32 165.88,268.45 166.13,267.93 166.39,267.71 166.64,267.72 166.90,267.84 167.15,268.00 167.40,268.12 167.66,268.16 167.91,268.10 168.17,267.98 168.42,267.84 168.67,267.77 168.93,267.85 169.18,268.15 169.44,268.68 169.69,269.43 169.94,270.35 170.20,271.36 170.45,272.37 170.71,273.32 170.96,274.15 171.21,274.83 171.47,275.33 171.72,275.67 171.98,275.86 172.23,275.94 172.48,275.93 172.74,275.90 172.99,275.88 173.25,275.91 173.50,276.00 173.75,276.16 174.01,276.36 174.26,276.60 174.52,276.85 174.77,277.08 175.03,277.27 175.28,277.40 175.53,277.48 175.79,277.48 176.04,277.41 176.30,277.23 176.55,276.92 176.80,276.42 177.06,275.65 177.31,274.50 177.57,272.84 177.82,270.56 178.07,267.56 178.33,263.82 178.58,259.44 178.84,254.64 179.09,249.78 179.34,245.42 179.60,242.19 179.85,240.75 180.11,241.43 180.36,244.12 180.61,248.27 180.87,253.21 181.12,258.31 181.38,263.14 181.63,267.40 181.88,270.94 182.14,273.74 182.39,275.86 182.65,277.43 182.90,278.57 183.16,279.39 183.41,280.00 183.66,280.48 183.92,280.87 184.17,281.21 184.43,281.50 184.68,281.77 184.93,282.01 185.19,282.21 185.44,282.39 185.70,282.54 185.95,282.65 186.20,282.72 186.46,282.73 186.71,282.66 186.97,282.47 187.22,282.09 187.47,281.46 187.73,280.51 187.98,279.19 188.24,277.47 188.49,275.37 188.74,273.01 189.00,270.57 189.25,268.30 189.51,266.56 189.76,265.67 190.01,265.87 190.27,267.14 190.52,269.22 190.78,271.77 191.03,274.45 191.28,277.00 191.54,279.26 191.79,281.14 192.05,282.62 192.30,283.71 192.56,284.49 192.81,285.02 193.06,285.36 193.32,285.58 193.57,285.71 193.83,285.79 194.08,285.82 194.33,285.83 194.59,285.81 194.84,285.78 195.10,285.73 195.35,285.66 195.60,285.59 195.86,285.49 196.11,285.38 196.37,285.23 196.62,285.02 196.87,284.74 197.13,284.35 197.38,283.82 197.64,283.15 197.89,282.33 198.14,281.40 198.40,280.40 198.65,279.43 198.91,278.61 199.16,278.05 199.41,277.87 199.67,278.08 199.92,278.60 200.18,279.33 200.43,280.15 200.69,280.96 200.94,281.69 201.19,282.30 201.45,282.76 201.70,283.07 201.96,283.24 202.21,283.26 202.46,283.14 202.72,282.89 202.97,282.51 203.23,282.01 203.48,281.39 203.73,280.66 203.99,279.85 204.24,278.97 204.50,278.06 204.75,277.17 205.00,276.33 205.26,275.61 205.51,275.09 205.77,274.81 206.02,274.81 206.27,275.09 206.53,275.59 206.78,276.23 207.04,276.93 207.29,277.61 207.54,278.19 207.80,278.61 208.05,278.81 208.31,278.77 208.56,278.46 208.82,277.91 209.07,277.14 209.32,276.20 209.58,275.18 209.83,274.17 210.09,273.27 210.34,272.62 210.59,272.31 210.85,272.42 211.10,272.94 211.36,273.83 211.61,274.98 211.86,276.29 212.12,277.65 212.37,278.98 212.63,280.22 212.88,281.32 213.13,282.25 213.39,282.99 213.64,283.53 213.90,283.88 214.15,284.02 214.40,283.94 214.66,283.63 214.91,283.06 215.17,282.25 215.42,281.18 215.67,279.91 215.93,278.52 216.18,277.15 216.44,275.97 216.69,275.19 216.95,275.00 217.20,275.48 217.45,276.55 217.71,278.02 217.96,279.67 218.22,281.33 218.47,282.87 218.72,284.20 218.98,285.29 219.23,286.15 219.49,286.80 219.74,287.29 219.99,287.64 220.25,287.90 220.50,288.09 220.76,288.22 221.01,288.32 221.26,288.38 221.52,288.42 221.77,288.43 222.03,288.42 222.28,288.39 222.53,288.34 222.79,288.26 223.04,288.13 223.30,287.92 223.55,287.59 223.80,287.07 224.06,286.29 224.31,285.17 224.57,283.63 224.82,281.63 225.07,279.16 225.33,276.32 225.58,273.25 225.84,270.24 226.09,267.64 226.35,265.88 226.60,265.35 226.85,266.16 227.11,268.15 227.36,270.92 227.62,274.07 227.87,277.23 228.12,280.15 228.38,282.67 228.63,284.73 228.89,286.33 229.14,287.53 229.39,288.39 229.65,288.99 229.90,289.41 230.16,289.71 230.41,289.92 230.66,290.07 230.92,290.17 231.17,290.25 231.43,290.30 231.68,290.34 231.93,290.37 232.19,290.40 232.44,290.42 232.70,290.44 232.95,290.47 233.20,290.49 233.46,290.53 233.71,290.57 233.97,290.62 234.22,290.67 234.48,290.73 234.73,290.79 234.98,290.84 235.24,290.88 235.49,290.91 235.75,290.92 236.00,290.93 236.25,290.94 236.51,290.94 236.76,290.94 237.02,290.94 237.27,290.93 237.52,290.92 237.78,290.90 238.03,290.87 238.29,290.84 238.54,290.82 238.79,290.81 239.05,290.82 239.30,290.83 239.56,290.85 239.81,290.87 240.06,290.88 240.32,290.89 240.57,290.89 240.83,290.88 241.08,290.87 241.33,290.86 241.59,290.85 241.84,290.84 242.10,290.85 242.35,290.86 242.61,290.88 242.86,290.90 243.11,290.92 243.37,290.93 243.62,290.94 243.88,290.94 244.13,290.94 244.38,290.94 244.64,290.94 244.89,290.94 245.15,290.94 245.40,290.95 245.65,290.96 245.91,290.97 246.16,290.99 246.42,291.01 246.67,291.05 246.92,291.09 247.18,291.13 247.43,291.18 247.69,291.23 247.94,291.27 248.19,291.30 248.45,291.32 248.70,291.32 248.96,291.32 249.21,291.31 249.46,291.30 249.72,291.27 249.97,291.25 250.23,291.22 250.48,291.20 250.74,291.18 250.99,291.18 251.24,291.18 251.50,291.20 251.75,291.23 252.01,291.27 252.26,291.32 252.51,291.37 252.77,291.41 253.02,291.44 253.28,291.46 253.53,291.47 253.78,291.46 254.04,291.45 254.29,291.43 254.55,291.41 254.80,291.39" stroke="#3277df"/>
<polyline points="26.40,338.56 26.65,338.53 26.91,338.51 27.16,338.50 27.42,338.50 27.67,338.49 27.92,338.47 28.18,338.45 28.43,338.40 28.69,338.34 28.94,338.26 29.19,338.17 29.45,338.07 29.70,337.96 29.96,337.84 30.21,337.73 30.46,337.61 30.72,337.50 30.97,337.39 31.23,337.28 31.48,337.18 31.74,337.08 31.99,336.99 32.24,336.92 32.50,336.85 32.75,336.78 33.01,336.72 33.26,336.66 33.51,336.60 33.77,336.55 34.02,336.49 34.28,336.44 34.53,336.38 34.78,336.32 35.04,336.25 35.29,336.20 35.55,336.15 35.80,336.08 36.05,336.00 36.31,335.92 36.56,335.83 36.82,335.74 37.07,335.64 37.32,335.55 37.58,335.45 37.83,335.36 38.09,335.27 38.34,335.19 38.59,335.12 38.85,335.09 39.10,335.07 39.36,335.05 39.61,335.02 39.87,334.99 40.12,334.97 40.37,334.96 40.63,334.95 40.88,334.95 41.14,334.94 41.39,334.94 41.64,334.94 41.90,334.93 42.15,334.91 42.41,334.89 42.66,334.84 42.91,334.78 43.17,334.69 43.42,334.56 43.68,334.40 43.93,334.20 44.18,333.96 44.44,333.66 44.69,333.27 44.95,332.74 45.20,332.05 45.45,331.17 45.71,330.12 45.96,328.96 46.22,327.79 46.47,326.75 46.72,326.00 46.98,325.65 47.23,325.74 47.49,326.15 47.74,326.69 48.00,327.18 48.25,327.44 48.50,327.37 48.76,326.95 49.01,326.22 49.27,325.30 49.52,324.40 49.77,323.75 50.03,323.57 50.28,323.99 50.54,324.96 50.79,326.33 51.04,327.90 51.30,329.49 51.55,330.98 51.81,332.28 52.06,333.34 52.31,334.18 52.57,334.80 52.82,335.26 53.08,335.57 53.33,335.78 53.58,335.93 53.84,336.03 54.09,336.10 54.35,336.16 54.60,336.20 54.85,336.24 55.11,336.27 55.36,336.30 55.62,336.31 55.87,336.32 56.13,336.32 56.38,336.32 56.63,336.32 56.89,336.31 57.14,336.29 57.40,336.26 57.65,336.21 57.90,336.13 58.16,336.00 58.41,335.81 58.67,335.52 58.92,335.10 59.17,334.53 59.43,333.77 59.68,332.85 59.94,331.78 60.19,330.64 60.44,329.55 60.70,328.64 60.95,328.07 61.21,327.97 61.46,328.36 61.71,329.17 61.97,330.24 62.22,331.41 62.48,332.55 62.73,333.59 62.98,334.46 63.24,335.15 63.49,335.67 63.75,336.06 64.00,336.33 64.25,336.53 64.51,336.67 64.76,336.78 65.02,336.87 65.27,336.94 65.53,337.01 65.78,337.07 66.03,337.13 66.29,337.20 66.54,337.27 66.80,337.35 67.05,337.44 67.30,337.53 67.56,337.62 67.81,337.71 68.07,337.79 68.32,337.86 68.57,337.91 68.83,337.94 69.08,337.94 69.34,337.91 69.59,337.87 69.84,337.80 70.10,337.73 70.35,337.66 70.61,337.59 70.86,337.53 71.11,337.48 71.37,337.44 71.62,337.42 71.88,337.41 72.13,337.41 72.38,337.42 72.64,337.44 72.89,337.45 73.15,337.46 73.40,337.47 73.66,337.46 73.91,337.45 74.16,337.42 74.42,337.40 74.67,337.37 74.93,337.34 75.18,337.33 75.43,337.32 75.69,337.33 75.94,337.34 76.20,337.36 76.45,337.38 76.70,337.40 76.96,337.42 77.21,337.44 77.47,337.47 77.72,337.50 77.97,337.53 78.23,337.57 78.48,337.60 78.74,337.62 78.99,337.59 79.24,337.50 79.50,337.31 79.75,336.95 80.01,336.40 80.26,335.61 80.51,334.63 80.77,333.58 81.02,332.65 81.28,332.12 81.53,332.19 81.79,332.85 82.04,333.83 82.29,334.89 82.55,335.82 82.80,336.54 83.06,337.02 83.31,337.32 83.56,337.47 83.82,337.55 84.07,337.59 84.33,337.62 84.58,337.64 84.83,337.67 85.09,337.71 85.34,337.74 85.60,337.77 85.85,337.79 86.10,337.80 86.36,337.81 86.61,337.81 86.87,337.81 87.12,337.80 87.37,337.79 87.63,337.77 87.88,337.72 88.14,337.64 88.39,337.49 88.64,337.26 88.90,336.89 89.15,336.36 89.41,335.64 89.66,334.73 89.92,333.64 90.17,332.42 90.42,331.14 90.68,329.94 90.93,328.96 91.19,328.37 91.44,328.29 91.69,328.72 91.95,329.57 92.20,330.66 92.46,331.84 92.71,332.99 92.96,334.02 93.22,334.88 93.47,335.54 93.73,336.01 93.98,336.28 94.23,336.38 94.49,336.29 94.74,336.04 95.00,335.60 95.25,335.01 95.50,334.29 95.76,333.48 96.01,332.68 96.27,331.98 96.52,331.50 96.77,331.36 97.03,331.57 97.28,332.09 97.54,332.81 97.79,333.64 98.04,334.47 98.30,335.24 98.55,335.92 98.81,336.48 99.06,336.90 99.32,337.21 99.57,337.41 99.82,337.54 100.08,337.61 100.33,337.65 100.59,337.68 100.84,337.71 101.09,337.75 101.35,337.81 101.60,337.88 101.86,337.96 102.11,338.04 102.36,338.11 102.62,338.17 102.87,338.21 103.13,338.24 103.38,338.26 103.63,338.27 103.89,338.28 104.14,338.29 104.40,338.32 104.65,338.36 104.90,338.41 105.16,338.47 105.41,338.52 105.67,338.57 105.92,338.61 106.17,338.63 106.43,338.64 106.68,338.64 106.94,338.64 107.19,338.65 107.45,338.66 107.70,338.70 107.95,338.74 108.21,338.78 108.46,338.81 108.72,338.83 108.97,338.83 109.22,338.81 109.48,338.77 109.73,338.73 109.99,338.68 110.24,338.65 110.49,338.63 110.75,338.62 111.00,338.62 111.26,338.62 111.51,338.61 111.76,338.59 112.02,338.54 112.27,338.49 112.53,338.42 112.78,338.36 113.03,338.30 113.29,338.25 113.54,338.22 113.80,338.20 114.05,338.19 114.30,338.19 114.56,338.18 114.81,338.17 115.07,338.15 115.32,338.13 115.58,338.09 115.83,338.06 116.08,338.03 116.34,338.01 116.59,338.00 116.85,338.00 117.10,338.01 117.35,338.02 117.61,338.04 117.86,338.06 118.12,338.08 118.37,338.10 118.62,338.12 118.88,338.15 119.13,338.18 119.39,338.21 119.64,338.24 119.89,338.25 120.15,338.26 120.40,338.25 120.66,338.24 120.91,338.22 121.16,338.20 121.42,338.20 121.67,338.20 121.93,338.22 122.18,338.25 122.43,338.30 122.69,338.36 122.94,338.43 123.20,338.50 123.45,338.57 123.71,338.64 123.96,338.69 124.21,338.71 124.47,338.71 124.72,338.68 124.98,338.62 125.23,338.55 125.48,338.46 125.74,338.38 125.99,338.30 126.25,338.23 126.50,338.19 126.75,338.16 127.01,338.15 127.26,338.15 127.52,338.16 127.77,338.18 128.02,338.21 128.28,338.24 128.53,338.26 128.79,338.28 129.04,338.29 129.29,338.30 129.55,338.29 129.80,338.28 130.06,338.26 130.31,338.24 130.56,338.21 130.82,338.19 131.07,338.17 131.33,338.15 131.58,338.14 131.83,338.13 132.09,338.12 132.34,338.12 132.60,338.11 132.85,338.10 133.11,338.08 133.36,338.06 133.61,338.03 133.87,337.99 134.12,337.93 134.38,337.84 134.63,337.73 134.88,337.58 135.14,337.36 135.39,337.05 135.65,336.61 135.90,335.98 136.15,335.12 136.41,333.98 136.66,332.55 136.92,330.85 137.17,328.94 137.42,326.97 137.68,325.13 137.93,323.67 138.19,322.86 138.44,322.86 138.69,323.69 138.95,325.17 139.20,327.02 139.46,329.01 139.71,330.91 139.96,332.61 140.22,334.03 140.47,335.13 140.73,335.95 140.98,336.52 141.24,336.89 141.49,337.13 141.74,337.26 142.00,337.33 142.25,337.37 142.51,337.38 142.76,337.38 143.01,337.37 143.27,337.36 143.52,337.36 143.78,337.35 144.03,337.36 144.28,337.36 144.54,337.37 144.79,337.37 145.05,337.36 145.30,337.32 145.55,337.24 145.81,337.10 146.06,336.87 146.32,336.50 146.57,335.95 146.82,335.19 147.08,334.18 147.33,332.94 147.59,331.47 147.84,329.87 148.09,328.26 148.35,326.81 148.60,325.73 148.86,325.23 149.11,325.42 149.37,326.25 149.62,327.56 149.87,329.11 150.13,330.71 150.38,332.21 150.64,333.51 150.89,334.57 151.14,335.39 151.40,335.99 151.65,336.41 151.91,336.70 152.16,336.89 152.41,337.02 152.67,337.10 152.92,337.16 153.18,337.20 153.43,337.23 153.68,337.25 153.94,337.26 154.19,337.27 154.45,337.27 154.70,337.26 154.95,337.25 155.21,337.23 155.46,337.22 155.72,337.21 155.97,337.21 156.22,337.20 156.48,337.18 156.73,337.15 156.99,337.11 157.24,337.06 157.49,337.00 157.75,336.94 158.00,336.87 158.26,336.80 158.51,336.74 158.77,336.68 159.02,336.62 159.27,336.56 159.53,336.50 159.78,336.43 160.04,336.35 160.29,336.26 160.54,336.15 160.80,336.01 161.05,335.83 161.31,335.59 161.56,335.27 161.81,334.87 162.07,334.36 162.32,333.72 162.58,332.95 162.83,332.02 163.08,330.93 163.34,329.65 163.59,328.19 163.85,326.56 164.10,324.77 164.35,322.87 164.61,320.92 164.86,318.98 165.12,317.17 165.37,315.56 165.62,314.27 165.88,313.36 166.13,312.82 166.39,312.62 166.64,312.67 166.90,312.85 167.15,313.06 167.40,313.22 167.66,313.28 167.91,313.24 168.17,313.11 168.42,312.97 168.67,312.88 168.93,312.93 169.18,313.18 169.44,313.68 169.69,314.41 169.94,315.32 170.20,316.33 170.45,317.37 170.71,318.37 170.96,319.26 171.21,320.01 171.47,320.58 171.72,320.98 171.98,321.21 172.23,321.30 172.48,321.31 172.74,321.29 172.99,321.28 173.25,321.33 173.50,321.47 173.75,321.70 174.01,322.00 174.26,322.34 174.52,322.70 174.77,323.05 175.03,323.36 175.28,323.61 175.53,323.80 175.79,323.91 176.04,323.92 176.30,323.82 176.55,323.57 176.80,323.10 177.06,322.32 177.31,321.13 177.57,319.39 177.82,316.96 178.07,313.74 178.33,309.71 178.58,304.96 178.84,299.73 179.09,294.43 179.34,289.63 179.60,286.07 179.85,284.43 180.11,285.11 180.36,287.97 180.61,292.44 180.87,297.77 181.12,303.30 181.38,308.55 181.63,313.19 181.88,317.07 182.14,320.16 182.39,322.51 182.65,324.25 182.90,325.51 183.16,326.41 183.41,327.06 183.66,327.54 183.92,327.92 184.17,328.21 184.43,328.46 184.68,328.67 184.93,328.84 185.19,328.99 185.44,329.11 185.70,329.21 185.95,329.28 186.20,329.33 186.46,329.31 186.71,329.22 186.97,328.99 187.22,328.57 187.47,327.87 187.73,326.84 187.98,325.42 188.24,323.57 188.49,321.34 188.74,318.83 189.00,316.23 189.25,313.81 189.51,311.93 189.76,310.95 190.01,311.10 190.27,312.38 190.52,314.52 190.78,317.14 191.03,319.91 191.28,322.57 191.54,324.92 191.79,326.90 192.05,328.46 192.30,329.64 192.56,330.50 192.81,331.11 193.06,331.54 193.32,331.84 193.57,332.04 193.83,332.17 194.08,332.25 194.33,332.28 194.59,332.27 194.84,332.24 195.10,332.18 195.35,332.10 195.60,332.02 195.86,331.92 196.11,331.79 196.37,331.62 196.62,331.37 196.87,331.03 197.13,330.57 197.38,329.94 197.64,329.15 197.89,328.19 198.14,327.11 198.40,325.96 198.65,324.85 198.91,323.91 199.16,323.29 199.41,323.09 199.67,323.34 199.92,323.97 200.18,324.84 200.43,325.80 200.69,326.75 200.94,327.60 201.19,328.30 201.45,328.84 201.70,329.19 201.96,329.38 202.21,329.42 202.46,329.31 202.72,329.07 202.97,328.70 203.23,328.20 203.48,327.58 203.73,326.83 203.99,325.96 204.24,325.01 204.50,323.99 204.75,322.95 205.00,321.97 205.26,321.11 205.51,320.46 205.77,320.10 206.02,320.06 206.27,320.33 206.53,320.86 206.78,321.55 207.04,322.30 207.29,323.03 207.54,323.66 207.80,324.11 208.05,324.34 208.31,324.33 208.56,324.06 208.82,323.53 209.07,322.78 209.32,321.86 209.58,320.83 209.83,319.78 210.09,318.84 210.34,318.11 210.59,317.72 210.85,317.75 211.10,318.21 211.36,319.05 211.61,320.19 211.86,321.51 212.12,322.92 212.37,324.32 212.63,325.65 212.88,326.84 213.13,327.88 213.39,328.73 213.64,329.38 213.90,329.83 214.15,330.05 214.40,330.04 214.66,329.76 214.91,329.20 215.17,328.35 215.42,327.21 215.67,325.84 215.93,324.32 216.18,322.80 216.44,321.47 216.69,320.57 216.95,320.29 217.20,320.74 217.45,321.83 217.71,323.36 217.96,325.12 218.22,326.90 218.47,328.56 218.72,330.02 218.98,331.22 219.23,332.16 219.49,332.87 219.74,333.39 219.99,333.75 220.25,334.01 220.50,334.20 220.76,334.33 221.01,334.44 221.26,334.52 221.52,334.58 221.77,334.62 222.03,334.64 222.28,334.65 222.53,334.62 222.79,334.56 223.04,334.45 223.30,334.26 223.55,333.93 223.80,333.40 224.06,332.60 224.31,331.42 224.57,329.80 224.82,327.69 225.07,325.10 225.33,322.10 225.58,318.89 225.84,315.73 226.09,313.03 226.35,311.23 226.60,310.69 226.85,311.55 227.11,313.62 227.36,316.50 227.62,319.73 227.87,322.95 228.12,325.91 228.38,328.46 228.63,330.54 228.89,332.15 229.14,333.36 229.39,334.23 229.65,334.86 229.90,335.31 230.16,335.64 230.41,335.89 230.66,336.07 230.92,336.22 231.17,336.33 231.43,336.41 231.68,336.48 231.93,336.52 232.19,336.55 232.44,336.57 232.70,336.58 232.95,336.57 233.20,336.56 233.46,336.55 233.71,336.52 233.97,336.50 234.22,336.47 234.48,336.46 234.73,336.44 234.98,336.45 235.24,336.46 235.49,336.49 235.75,336.53 236.00,336.58 236.25,336.63 236.51,336.67 236.76,336.71 237.02,336.73 237.27,336.75 237.52,336.75 237.78,336.74 238.03,336.74 238.29,336.74 238.54,336.76 238.79,336.81 239.05,336.87 239.30,336.95 239.56,337.04 239.81,337.13 240.06,337.22 240.32,337.30 240.57,337.36 240.83,337.41 241.08,337.43 241.33,337.44 241.59,337.44 241.84,337.42 242.10,337.40 242.35,337.37 242.61,337.35 242.86,337.32 243.11,337.29 243.37,337.25 243.62,337.22 243.88,337.18 244.13,337.15 244.38,337.13 244.64,337.12 244.89,337.12 245.15,337.14 245.40,337.16 245.65,337.20 245.91,337.23 246.16,337.27 246.42,337.31 246.67,337.34 246.92,337.37 247.18,337.39 247.43,337.40 247.69,337.42 247.94,337.43 248.19,337.46 248.45,337.49 248.70,337.53 248.96,337.57 249.21,337.61 249.46,337.64 249.72,337.66 249.97,337.67 250.23,337.66 250.48,337.65 250.74,337.63 250.99,337.62 251.24,337.61 251.50,337.60 251.75,337.59 252.01,337.59 252.26,337.59 252.51,337.59 252.77,337.59 253.02,337.59 253.28,337.59 253.53,337.59 253.78,337.59 254.04,337.60 254.29,337.61 254.55,337.61 254.80,337.63" stroke="#ec4449"/>
<polyline points="26.40,386.87 26.65,386.79 26.91,386.71 27.16,386.63 27.42,386.55 27.67,386.48 27.92,386.41 28.18,386.35 28.43,386.29 28.69,386.23 28.94,386.17 29.19,386.11 29.45,386.04 29.70,385.96 29.96,385.87 30.21,385.78 30.46,385.68 30.72,385.58 30.97,385.48 31.23,385.37 31.48,385.25 31.74,385.13 31.99,385.01 32.24,384.88 32.50,384.75 32.75,384.63 33.01,384.51 33.26,384.41 33.51,384.32 33.77,384.24 34.02,384.17 34.28,384.10 34.53,384.04 34.78,383.98 35.04,383.92 35.29,383.89 35.55,383.88 35.80,383.88 36.05,383.88 36.31,383.90 36.56,383.92 36.82,383.94 37.07,383.95 37.32,383.96 37.58,383.95 37.83,383.93 38.09,383.89 38.34,383.81 38.59,383.72 38.85,383.64 39.10,383.56 39.36,383.48 39.61,383.40 39.87,383.34 40.12,383.32 40.37,383.34 40.63,383.37 40.88,383.42 41.14,383.47 41.39,383.51 41.64,383.53 41.90,383.51 42.15,383.47 42.41,383.39 42.66,383.27 42.91,383.11 43.17,382.93 43.42,382.71 43.68,382.47 43.93,382.22 44.18,381.94 44.44,381.63 44.69,381.25 44.95,380.74 45.20,380.04 45.45,379.13 45.71,378.02 45.96,376.77 46.22,375.49 46.47,374.32 46.72,373.45 46.98,373.02 47.23,373.08 47.49,373.51 47.74,374.12 48.00,374.72 48.25,375.11 48.50,375.18 48.76,374.88 49.01,374.26 49.27,373.41 49.52,372.54 49.77,371.89 50.03,371.68 50.28,372.06 50.54,372.99 50.79,374.34 51.04,375.89 51.30,377.49 51.55,378.99 51.81,380.30 52.06,381.39 52.31,382.23 52.57,382.85 52.82,383.28 53.08,383.58 53.33,383.78 53.58,383.93 53.84,384.05 54.09,384.15 54.35,384.24 54.60,384.31 54.85,384.37 55.11,384.41 55.36,384.42 55.62,384.41 55.87,384.39 56.13,384.37 56.38,384.36 56.63,384.35 56.89,384.35 57.14,384.37 57.40,384.38 57.65,384.37 57.90,384.34 58.16,384.24 58.41,384.05 58.67,383.73 58.92,383.25 59.17,382.59 59.43,381.74 59.68,380.70 59.94,379.53 60.19,378.31 60.44,377.14 60.70,376.18 60.95,375.58 61.21,375.48 61.46,375.90 61.71,376.76 61.97,377.90 62.22,379.16 62.48,380.40 62.73,381.55 62.98,382.53 63.24,383.34 63.49,383.96 63.75,384.43 64.00,384.76 64.25,384.99 64.51,385.14 64.76,385.24 65.02,385.31 65.27,385.36 65.53,385.40 65.78,385.44 66.03,385.48 66.29,385.53 66.54,385.57 66.80,385.61 67.05,385.65 67.30,385.68 67.56,385.70 67.81,385.71 68.07,385.71 68.32,385.70 68.57,385.69 68.83,385.68 69.08,385.67 69.34,385.66 69.59,385.66 69.84,385.67 70.10,385.69 70.35,385.71 70.61,385.75 70.86,385.78 71.11,385.82 71.37,385.86 71.62,385.89 71.88,385.92 72.13,385.94 72.38,385.95 72.64,385.96 72.89,385.96 73.15,385.94 73.40,385.92 73.66,385.89 73.91,385.86 74.16,385.82 74.42,385.79 74.67,385.76 74.93,385.73 75.18,385.70 75.43,385.68 75.69,385.67 75.94,385.66 76.20,385.65 76.45,385.66 76.70,385.67 76.96,385.68 77.21,385.71 77.47,385.73 77.72,385.75 77.97,385.76 78.23,385.75 78.48,385.73 78.74,385.67 78.99,385.58 79.24,385.42 79.50,385.15 79.75,384.71 80.01,384.06 80.26,383.15 80.51,382.01 80.77,380.77 81.02,379.66 81.28,379.00 81.53,379.05 81.79,379.78 82.04,380.90 82.29,382.12 82.55,383.21 82.80,384.08 83.06,384.70 83.31,385.11 83.56,385.37 83.82,385.53 84.07,385.63 84.33,385.69 84.58,385.73 84.83,385.75 85.09,385.76 85.34,385.76 85.60,385.75 85.85,385.74 86.10,385.72 86.36,385.70 86.61,385.68 86.87,385.65 87.12,385.63 87.37,385.60 87.63,385.58 87.88,385.54 88.14,385.47 88.39,385.35 88.64,385.15 88.90,384.82 89.15,384.33 89.41,383.66 89.66,382.79 89.92,381.73 90.17,380.53 90.42,379.26 90.68,378.06 90.93,377.08 91.19,376.51 91.44,376.45 91.69,376.93 91.95,377.83 92.20,378.97 92.46,380.20 92.71,381.37 92.96,382.40 93.22,383.22 93.47,383.83 93.73,384.23 93.98,384.42 94.23,384.44 94.49,384.29 94.74,383.98 95.00,383.52 95.25,382.92 95.50,382.20 95.76,381.42 96.01,380.65 96.27,379.98 96.52,379.55 96.77,379.43 97.03,379.67 97.28,380.22 97.54,380.96 97.79,381.80 98.04,382.64 98.30,383.43 98.55,384.11 98.81,384.68 99.06,385.13 99.32,385.46 99.57,385.71 99.82,385.87 100.08,385.98 100.33,386.05 100.59,386.10 100.84,386.14 101.09,386.19 101.35,386.23 101.60,386.28 101.86,386.32 102.11,386.37 102.36,386.41 102.62,386.44 102.87,386.46 103.13,386.48 103.38,386.49 103.63,386.49 103.89,386.48 104.14,386.45 104.40,386.43 104.65,386.39 104.90,386.36 105.16,386.32 105.41,386.30 105.67,386.28 105.92,386.28 106.17,386.29 106.43,386.32 106.68,386.36 106.94,386.41 107.19,386.46 107.45,386.52 107.70,386.58 107.95,386.64 108.21,386.70 108.46,386.75 108.72,386.80 108.97,386.85 109.22,386.91 109.48,386.95 109.73,387.00 109.99,387.03 110.24,387.06 110.49,387.07 110.75,387.07 111.00,387.04 111.26,387.01 111.51,386.96 111.76,386.91 112.02,386.86 112.27,386.83 112.53,386.80 112.78,386.79 113.03,386.79 113.29,386.80 113.54,386.82 113.80,386.82 114.05,386.83 114.30,386.83 114.56,386.82 114.81,386.80 115.07,386.78 115.32,386.76 115.58,386.73 115.83,386.70 116.08,386.67 116.34,386.65 116.59,386.63 116.85,386.62 117.10,386.63 117.35,386.65 117.61,386.68 117.86,386.73 118.12,386.78 118.37,386.84 118.62,386.88 118.88,386.91 119.13,386.92 119.39,386.91 119.64,386.88 119.89,386.84 120.15,386.78 120.40,386.73 120.66,386.68 120.91,386.63 121.16,386.59 121.42,386.55 121.67,386.52 121.93,386.50 122.18,386.47 122.43,386.45 122.69,386.43 122.94,386.40 123.20,386.37 123.45,386.33 123.71,386.29 123.96,386.26 124.21,386.23 124.47,386.21 124.72,386.22 124.98,386.24 125.23,386.28 125.48,386.33 125.74,386.40 125.99,386.47 126.25,386.53 126.50,386.59 126.75,386.63 127.01,386.65 127.26,386.66 127.52,386.66 127.77,386.66 128.02,386.66 128.28,386.66 128.53,386.66 128.79,386.67 129.04,386.67 129.29,386.67 129.55,386.65 129.80,386.61 130.06,386.56 130.31,386.50 130.56,386.44 130.82,386.37 131.07,386.31 131.33,386.26 131.58,386.22 131.83,386.20 132.09,386.18 132.34,386.18 132.60,386.18 132.85,386.17 133.11,386.17 133.36,386.16 133.61,386.13 133.87,386.10 134.12,386.05 134.38,385.98 134.63,385.87 134.88,385.72 135.14,385.49 135.39,385.17 135.65,384.70 135.90,384.03 136.15,383.11 136.41,381.89 136.66,380.34 136.92,378.49 137.17,376.40 137.42,374.23 137.68,372.17 137.93,370.52 138.19,369.55 138.44,369.49 138.69,370.32 138.95,371.87 139.20,373.84 139.46,375.97 139.71,378.04 139.96,379.90 140.22,381.45 140.47,382.68 140.73,383.59 140.98,384.23 141.24,384.66 141.49,384.93 141.74,385.11 142.00,385.22 142.25,385.30 142.51,385.37 142.76,385.43 143.01,385.47 143.27,385.50 143.52,385.52 143.78,385.53 144.03,385.53 144.28,385.52 144.54,385.50 144.79,385.47 145.05,385.43 145.30,385.35 145.55,385.24 145.81,385.06 146.06,384.80 146.32,384.40 146.57,383.84 146.82,383.08 147.08,382.07 147.33,380.83 147.59,379.38 147.84,377.78 148.09,376.17 148.35,374.72 148.60,373.65 148.86,373.15 149.11,373.35 149.37,374.21 149.62,375.55 149.87,377.14 150.13,378.80 150.38,380.36 150.64,381.72 150.89,382.84 151.14,383.71 151.40,384.33 151.65,384.76 151.91,385.04 152.16,385.21 152.41,385.32 152.67,385.40 152.92,385.45 153.18,385.50 153.43,385.53 153.68,385.55 153.94,385.55 154.19,385.54 154.45,385.51 154.70,385.47 154.95,385.43 155.21,385.39 155.46,385.36 155.72,385.34 155.97,385.33 156.22,385.32 156.48,385.31 156.73,385.30 156.99,385.28 157.24,385.24 157.49,385.18 157.75,385.11 158.00,385.02 158.26,384.92 158.51,384.80 158.77,384.68 159.02,384.56 159.27,384.43 159.53,384.29 159.78,384.16 160.04,384.02 160.29,383.88 160.54,383.73 160.80,383.56 161.05,383.38 161.31,383.15 161.56,382.87 161.81,382.50 162.07,382.01 162.32,381.37 162.58,380.55 162.83,379.52 163.08,378.26 163.34,376.77 163.59,375.06 163.85,373.17 164.10,371.12 164.35,368.99 164.61,366.83 164.86,364.72 165.12,362.76 165.37,361.05 165.62,359.68 165.88,358.70 166.13,358.14 166.39,357.95 166.64,358.02 166.90,358.24 167.15,358.50 167.40,358.71 167.66,358.83 167.91,358.82 168.17,358.72 168.42,358.60 168.67,358.52 168.93,358.60 169.18,358.90 169.44,359.47 169.69,360.27 169.94,361.26 170.20,362.34 170.45,363.43 170.71,364.46 170.96,365.37 171.21,366.12 171.47,366.68 171.72,367.08 171.98,367.31 172.23,367.42 172.48,367.45 172.74,367.45 172.99,367.47 173.25,367.56 173.50,367.75 173.75,368.03 174.01,368.40 174.26,368.82 174.52,369.26 174.77,369.69 175.03,370.10 175.28,370.45 175.53,370.72 175.79,370.90 176.04,370.95 176.30,370.86 176.55,370.57 176.80,370.03 177.06,369.13 177.31,367.75 177.57,365.75 177.82,362.99 178.07,359.38 178.33,354.87 178.58,349.58 178.84,343.76 179.09,337.86 179.34,332.53 179.60,328.57 179.85,326.75 180.11,327.51 180.36,330.70 180.61,335.66 180.87,341.58 181.12,347.73 181.38,353.54 181.63,358.66 181.88,362.92 182.14,366.28 182.39,368.82 182.65,370.69 182.90,372.03 183.16,373.00 183.41,373.72 183.66,374.28 183.92,374.73 184.17,375.12 184.43,375.45 184.68,375.74 184.93,375.99 185.19,376.19 185.44,376.35 185.70,376.47 185.95,376.53 186.20,376.54 186.46,376.49 186.71,376.34 186.97,376.04 187.22,375.54 187.47,374.76 187.73,373.61 187.98,372.02 188.24,369.97 188.49,367.49 188.74,364.70 189.00,361.80 189.25,359.11 189.51,357.03 189.76,355.96 190.01,356.17 190.27,357.62 190.52,360.03 190.78,362.98 191.03,366.09 191.28,369.05 191.54,371.69 191.79,373.88 192.05,375.61 192.30,376.90 192.56,377.82 192.81,378.45 193.06,378.85 193.32,379.10 193.57,379.25 193.83,379.35 194.08,379.40 194.33,379.44 194.59,379.46 194.84,379.47 195.10,379.48 195.35,379.47 195.60,379.43 195.86,379.36 196.11,379.23 196.37,379.04 196.62,378.75 196.87,378.35 197.13,377.80 197.38,377.08 197.64,376.18 197.89,375.12 198.14,373.94 198.40,372.71 198.65,371.54 198.91,370.56 199.16,369.92 199.41,369.75 199.67,370.06 199.92,370.76 200.18,371.71 200.43,372.74 200.69,373.76 200.94,374.66 201.19,375.40 201.45,375.96 201.70,376.33 201.96,376.52 202.21,376.55 202.46,376.43 202.72,376.17 202.97,375.78 203.23,375.27 203.48,374.63 203.73,373.87 203.99,373.01 204.24,372.07 204.50,371.08 204.75,370.10 205.00,369.17 205.26,368.37 205.51,367.77 205.77,367.45 206.02,367.43 206.27,367.70 206.53,368.19 206.78,368.82 207.04,369.50 207.29,370.13 207.54,370.64 207.80,370.96 208.05,371.05 208.31,370.88 208.56,370.44 208.82,369.73 209.07,368.78 209.32,367.66 209.58,366.43 209.83,365.19 210.09,364.07 210.34,363.21 210.59,362.73 210.85,362.73 211.10,363.24 211.36,364.19 211.61,365.50 211.86,367.02 212.12,368.64 212.37,370.26 212.63,371.80 212.88,373.19 213.13,374.38 213.39,375.37 213.64,376.12 213.90,376.65 214.15,376.93 214.40,376.96 214.66,376.72 214.91,376.17 215.17,375.32 215.42,374.18 215.67,372.78 215.93,371.23 216.18,369.67 216.44,368.31 216.69,367.39 216.95,367.13 217.20,367.62 217.45,368.77 217.71,370.39 217.96,372.22 218.22,374.08 218.47,375.80 218.72,377.31 218.98,378.55 219.23,379.53 219.49,380.27 219.74,380.82 219.99,381.22 220.25,381.51 220.50,381.73 220.76,381.89 221.01,382.02 221.26,382.13 221.52,382.21 221.77,382.26 222.03,382.30 222.28,382.31 222.53,382.29 222.79,382.24 223.04,382.13 223.30,381.92 223.55,381.58 223.80,381.02 224.06,380.15 224.31,378.88 224.57,377.12 224.82,374.81 225.07,371.96 225.33,368.65 225.58,365.08 225.84,361.56 226.09,358.54 226.35,356.49 226.60,355.86 226.85,356.79 227.11,359.08 227.36,362.28 227.62,365.90 227.87,369.52 228.12,372.86 228.38,375.74 228.63,378.06 228.89,379.85 229.14,381.15 229.39,382.06 229.65,382.67 229.90,383.07 230.16,383.33 230.41,383.49 230.66,383.60 230.92,383.67 231.17,383.71 231.43,383.75 231.68,383.77 231.93,383.79 232.19,383.81 232.44,383.84 232.70,383.89 232.95,383.95 233.20,384.02 233.46,384.11 233.71,384.22 233.97,384.34 234.22,384.47 234.48,384.60 234.73,384.73 234.98,384.84 235.24,384.95 235.49,385.04 235.75,385.12 236.00,385.19 236.25,385.25 236.51,385.29 236.76,385.33 237.02,385.36 237.27,385.38 237.52,385.39 237.78,385.39 238.03,385.38 238.29,385.36 238.54,385.35 238.79,385.33 239.05,385.31 239.30,385.29 239.56,385.26 239.81,385.24 240.06,385.22 240.32,385.21 240.57,385.22 240.83,385.23 241.08,385.26 241.33,385.29 241.59,385.33 241.84,385.37 242.10,385.40 242.35,385.42 242.61,385.43 242.86,385.43 243.11,385.41 243.37,385.39 243.62,385.35 243.88,385.32 244.13,385.30 244.38,385.29 244.64,385.28 244.89,385.30 245.15,385.32 245.40,385.36 245.65,385.40 245.91,385.45 246.16,385.50 246.42,385.54 246.67,385.59 246.92,385.62 247.18,385.63 247.43,385.63 247.69,385.60 247.94,385.56 248.19,385.49 248.45,385.43 248.70,385.36 248.96,385.31 249.21,385.28 249.46,385.27 249.72,385.28 249.97,385.30 250.23,385.34 250.48,385.38 250.74,385.41 250.99,385.44 251.24,385.45 251.50,385.45 251.75,385.45 252.01,385.44 252.26,385.43 252.51,385.44 252.77,385.45 253.02,385.48 253.28,385.52 253.53,385.57 253.78,385.62 254.04,385.67 254.29,385.72 254.55,385.76 254.80,385.79" stroke="#4a4a4a"/>
</g>
<g clip-path="url(#clipD)" fill="none" stroke-width="1.65" stroke-linejoin="round">
<polyline points="305.40,282.06 305.65,281.99 305.91,281.91 306.16,281.81 306.42,281.70 306.67,281.58 306.93,281.47 307.18,281.36 307.43,281.25 307.69,281.15 307.94,281.06 308.20,280.97 308.45,280.89 308.70,280.81 308.96,280.74 309.21,280.68 309.47,280.62 309.72,280.56 309.98,280.51 310.23,280.45 310.48,280.38 310.74,280.30 310.99,280.22 311.25,280.13 311.50,280.03 311.75,279.94 312.01,279.85 312.26,279.77 312.52,279.70 312.77,279.65 313.03,279.60 313.28,279.56 313.53,279.53 313.79,279.49 314.04,279.44 314.30,279.43 314.55,279.41 314.80,279.38 315.06,279.34 315.31,279.30 315.57,279.27 315.82,279.23 316.08,279.20 316.33,279.17 316.58,279.15 316.84,279.14 317.09,279.13 317.35,279.13 317.60,279.13 317.85,279.16 318.11,279.18 318.36,279.20 318.62,279.21 318.87,279.22 319.13,279.23 319.38,279.24 319.63,279.27 319.89,279.29 320.14,279.31 320.40,279.32 320.65,279.31 320.90,279.28 321.16,279.21 321.41,279.11 321.67,278.98 321.92,278.83 322.18,278.65 322.43,278.47 322.68,278.27 322.94,278.08 323.19,277.90 323.45,277.73 323.70,277.54 323.95,277.32 324.21,277.02 324.46,276.62 324.72,276.13 324.97,275.57 325.23,274.98 325.48,274.43 325.73,274.01 325.99,273.78 326.24,273.76 326.50,273.89 326.75,274.07 327.00,274.20 327.26,274.18 327.51,273.96 327.77,273.52 328.02,272.89 328.28,272.16 328.53,271.44 328.78,270.92 329.04,270.75 329.29,271.02 329.55,271.71 329.80,272.71 330.05,273.85 330.31,275.02 330.56,276.11 330.82,277.06 331.07,277.83 331.33,278.43 331.58,278.87 331.83,279.18 332.09,279.40 332.34,279.56 332.60,279.68 332.85,279.77 333.10,279.84 333.36,279.90 333.61,279.95 333.87,279.99 334.12,280.02 334.38,280.04 334.63,280.06 334.88,280.08 335.14,280.09 335.39,280.09 335.65,280.10 335.90,280.10 336.15,280.10 336.41,280.10 336.66,280.08 336.92,280.04 337.17,279.97 337.43,279.85 337.68,279.65 337.93,279.35 338.19,278.95 338.44,278.43 338.70,277.80 338.95,277.07 339.20,276.31 339.46,275.57 339.71,274.95 339.97,274.57 340.22,274.50 340.48,274.77 340.73,275.31 340.98,276.04 341.24,276.83 341.49,277.60 341.75,278.30 342.00,278.88 342.25,279.34 342.51,279.69 342.76,279.94 343.02,280.13 343.27,280.26 343.53,280.37 343.78,280.45 344.03,280.53 344.29,280.59 344.54,280.65 344.80,280.71 345.05,280.76 345.30,280.83 345.56,280.89 345.81,280.95 346.07,281.01 346.32,281.06 346.58,281.08 346.83,281.09 347.08,281.08 347.34,281.06 347.59,281.04 347.85,281.01 348.10,280.98 348.35,280.95 348.61,280.93 348.86,280.92 349.12,280.92 349.37,280.92 349.63,280.94 349.88,280.97 350.13,281.00 350.39,281.03 350.64,281.07 350.90,281.10 351.15,281.13 351.41,281.16 351.66,281.19 351.91,281.22 352.17,281.25 352.42,281.27 352.68,281.29 352.93,281.30 353.18,281.30 353.44,281.29 353.69,281.28 353.95,281.27 354.20,281.27 354.46,281.28 354.71,281.29 354.96,281.30 355.22,281.31 355.47,281.31 355.73,281.31 355.98,281.31 356.23,281.31 356.49,281.31 356.74,281.31 357.00,281.32 357.25,281.33 357.51,281.33 357.76,281.30 358.01,281.24 358.27,281.12 358.52,280.91 358.78,280.58 359.03,280.11 359.28,279.47 359.54,278.70 359.79,277.88 360.05,277.18 360.30,276.78 360.56,276.85 360.81,277.35 361.06,278.10 361.32,278.91 361.57,279.62 361.83,280.17 362.08,280.54 362.33,280.76 362.59,280.86 362.84,280.91 363.10,280.92 363.35,280.93 363.61,280.95 363.86,280.98 364.11,281.02 364.37,281.08 364.62,281.14 364.88,281.20 365.13,281.26 365.38,281.30 365.64,281.33 365.89,281.34 366.15,281.33 366.40,281.31 366.66,281.26 366.91,281.20 367.16,281.10 367.42,280.97 367.67,280.79 367.93,280.54 368.18,280.20 368.43,279.77 368.69,279.22 368.94,278.56 369.20,277.82 369.45,277.04 369.71,276.30 369.96,275.69 370.21,275.32 370.47,275.26 370.72,275.52 370.98,276.04 371.23,276.73 371.48,277.47 371.74,278.20 371.99,278.86 372.25,279.42 372.50,279.85 372.76,280.15 373.01,280.31 373.26,280.33 373.52,280.21 373.77,279.94 374.03,279.55 374.28,279.04 374.53,278.44 374.79,277.81 375.04,277.21 375.30,276.71 375.55,276.40 375.81,276.34 376.06,276.54 376.31,276.97 376.57,277.54 376.82,278.17 377.08,278.80 377.33,279.38 377.58,279.88 377.84,280.29 378.09,280.61 378.35,280.85 378.60,281.02 378.86,281.13 379.11,281.20 379.36,281.23 379.62,281.23 379.87,281.21 380.13,281.18 380.38,281.14 380.63,281.11 380.89,281.08 381.14,281.06 381.40,281.06 381.65,281.07 381.91,281.10 382.16,281.14 382.41,281.18 382.67,281.22 382.92,281.26 383.18,281.30 383.43,281.33 383.68,281.35 383.94,281.37 384.19,281.38 384.45,281.39 384.70,281.41 384.96,281.43 385.21,281.47 385.46,281.51 385.72,281.57 385.97,281.63 386.23,281.70 386.48,281.76 386.73,281.81 386.99,281.85 387.24,281.86 387.50,281.86 387.75,281.84 388.01,281.81 388.26,281.78 388.51,281.74 388.77,281.71 389.02,281.68 389.28,281.65 389.53,281.61 389.78,281.58 390.04,281.55 390.29,281.51 390.55,281.48 390.80,281.47 391.06,281.47 391.31,281.49 391.56,281.53 391.82,281.58 392.07,281.65 392.33,281.71 392.58,281.77 392.83,281.83 393.09,281.87 393.34,281.90 393.60,281.92 393.85,281.93 394.11,281.93 394.36,281.92 394.61,281.91 394.87,281.89 395.12,281.86 395.38,281.83 395.63,281.81 395.88,281.78 396.14,281.76 396.39,281.75 396.65,281.75 396.90,281.76 397.16,281.77 397.41,281.81 397.66,281.84 397.92,281.89 398.17,281.93 398.43,281.97 398.68,282.00 398.94,282.02 399.19,282.03 399.44,282.03 399.70,282.01 399.95,281.98 400.21,281.93 400.46,281.87 400.71,281.80 400.97,281.73 401.22,281.66 401.48,281.59 401.73,281.53 401.99,281.49 402.24,281.47 402.49,281.45 402.75,281.45 403.00,281.44 403.26,281.44 403.51,281.43 403.76,281.41 404.02,281.38 404.27,281.35 404.53,281.31 404.78,281.27 405.04,281.24 405.29,281.21 405.54,281.19 405.80,281.18 406.05,281.18 406.31,281.18 406.56,281.19 406.81,281.21 407.07,281.24 407.32,281.28 407.58,281.32 407.83,281.37 408.09,281.42 408.34,281.46 408.59,281.50 408.85,281.52 409.10,281.54 409.36,281.54 409.61,281.54 409.86,281.53 410.12,281.51 410.37,281.48 410.63,281.45 410.88,281.42 411.14,281.40 411.39,281.38 411.64,281.37 411.90,281.38 412.15,281.39 412.41,281.40 412.66,281.41 412.91,281.41 413.17,281.40 413.42,281.37 413.68,281.32 413.93,281.23 414.19,281.10 414.44,280.90 414.69,280.61 414.95,280.19 415.20,279.61 415.46,278.84 415.71,277.87 415.96,276.71 416.22,275.41 416.47,274.07 416.73,272.81 416.98,271.81 417.24,271.24 417.49,271.24 417.74,271.79 418.00,272.76 418.25,273.99 418.51,275.29 418.76,276.52 419.01,277.61 419.27,278.52 419.52,279.22 419.78,279.75 420.03,280.12 420.29,280.38 420.54,280.57 420.79,280.69 421.05,280.78 421.30,280.85 421.56,280.89 421.81,280.92 422.06,280.94 422.32,280.94 422.57,280.93 422.83,280.91 423.08,280.89 423.34,280.87 423.59,280.84 423.84,280.80 424.10,280.76 424.35,280.71 424.61,280.63 424.86,280.50 425.11,280.29 425.37,279.97 425.62,279.49 425.88,278.82 426.13,277.91 426.39,276.78 426.64,275.43 426.89,273.95 427.15,272.45 427.40,271.09 427.66,270.08 427.91,269.59 428.16,269.73 428.42,270.46 428.67,271.61 428.93,272.99 429.18,274.40 429.44,275.73 429.69,276.87 429.94,277.80 430.20,278.51 430.45,279.03 430.71,279.38 430.96,279.62 431.21,279.77 431.47,279.87 431.72,279.94 431.98,279.99 432.23,280.03 432.49,280.05 432.74,280.07 432.99,280.06 433.25,280.04 433.50,280.00 433.76,279.94 434.01,279.86 434.26,279.76 434.52,279.63 434.77,279.49 435.03,279.32 435.28,279.11 435.54,278.87 435.79,278.58 436.04,278.24 436.30,277.86 436.55,277.43 436.81,276.97 437.06,276.47 437.31,275.95 437.57,275.43 437.82,274.90 438.08,274.38 438.33,273.88 438.59,273.42 438.84,273.01 439.09,272.66 439.35,272.39 439.60,272.20 439.86,272.10 440.11,272.07 440.36,272.09 440.62,272.15 440.87,272.21 441.13,272.25 441.38,272.23 441.64,272.13 441.89,271.93 442.14,271.61 442.40,271.16 442.65,270.57 442.91,269.84 443.16,268.97 443.42,267.99 443.67,266.93 443.92,265.83 444.18,264.75 444.43,263.77 444.69,262.93 444.94,262.31 445.19,261.92 445.45,261.73 445.70,261.71 445.96,261.79 446.21,261.91 446.47,262.01 446.72,262.07 446.97,262.07 447.23,262.02 447.48,261.96 447.74,261.93 447.99,262.00 448.24,262.19 448.50,262.54 448.75,263.04 449.01,263.65 449.26,264.33 449.52,265.03 449.77,265.72 450.02,266.37 450.28,266.95 450.53,267.44 450.79,267.84 451.04,268.15 451.29,268.36 451.55,268.48 451.80,268.54 452.06,268.54 452.31,268.50 452.57,268.43 452.82,268.35 453.07,268.24 453.33,268.11 453.58,267.96 453.84,267.79 454.09,267.60 454.34,267.38 454.60,267.14 454.85,266.88 455.11,266.59 455.36,266.27 455.62,265.90 455.87,265.43 456.12,264.81 456.38,263.96 456.63,262.81 456.89,261.26 457.14,259.25 457.39,256.78 457.65,253.88 457.90,250.70 458.16,247.49 458.41,244.61 458.67,242.49 458.92,241.56 459.17,242.06 459.43,243.90 459.68,246.72 459.94,250.07 460.19,253.54 460.44,256.82 460.70,259.73 460.95,262.15 461.21,264.08 461.46,265.58 461.72,266.71 461.97,267.57 462.22,268.23 462.48,268.78 462.73,269.24 462.99,269.66 463.24,270.03 463.49,270.38 463.75,270.71 464.00,271.01 464.26,271.29 464.51,271.54 464.77,271.77 465.02,271.95 465.27,272.10 465.53,272.18 465.78,272.19 466.04,272.10 466.29,271.86 466.54,271.42 466.80,270.74 467.05,269.78 467.31,268.50 467.56,266.95 467.82,265.18 468.07,263.33 468.32,261.61 468.58,260.29 468.83,259.63 469.09,259.80 469.34,260.79 469.59,262.41 469.85,264.39 470.10,266.47 470.36,268.46 470.61,270.23 470.87,271.71 471.12,272.88 471.37,273.77 471.63,274.41 471.88,274.87 472.14,275.18 472.39,275.41 472.64,275.56 472.90,275.67 473.15,275.74 473.41,275.78 473.66,275.80 473.92,275.79 474.17,275.76 474.42,275.72 474.68,275.67 474.93,275.61 475.19,275.54 475.44,275.45 475.69,275.32 475.95,275.13 476.20,274.88 476.46,274.54 476.71,274.10 476.97,273.57 477.22,272.96 477.47,272.32 477.73,271.69 477.98,271.15 478.24,270.80 478.49,270.69 478.74,270.84 479.00,271.21 479.25,271.71 479.51,272.26 479.76,272.78 480.02,273.25 480.27,273.61 480.52,273.88 480.78,274.03 481.03,274.09 481.29,274.05 481.54,273.93 481.79,273.73 482.05,273.46 482.30,273.13 482.56,272.73 482.81,272.28 483.07,271.77 483.32,271.22 483.57,270.63 483.83,270.05 484.08,269.50 484.34,269.02 484.59,268.66 484.84,268.48 485.10,268.48 485.35,268.65 485.61,268.97 485.86,269.38 486.12,269.82 486.37,270.25 486.62,270.60 486.88,270.85 487.13,270.96 487.39,270.92 487.64,270.71 487.89,270.34 488.15,269.82 488.40,269.18 488.66,268.48 488.91,267.77 489.17,267.14 489.42,266.66 489.67,266.42 489.93,266.46 490.18,266.79 490.44,267.38 490.69,268.16 490.95,269.08 491.20,270.05 491.45,271.03 491.71,271.96 491.96,272.81 492.22,273.55 492.47,274.17 492.72,274.65 492.98,274.97 493.23,275.12 493.49,275.09 493.74,274.87 494.00,274.45 494.25,273.83 494.50,273.02 494.76,272.07 495.01,271.05 495.27,270.05 495.52,269.22 495.77,268.69 496.03,268.60 496.28,269.01 496.54,269.85 496.79,270.99 497.05,272.25 497.30,273.51 497.55,274.66 497.81,275.64 498.06,276.44 498.32,277.06 498.57,277.52 498.82,277.85 499.08,278.09 499.33,278.26 499.59,278.39 499.84,278.49 500.10,278.56 500.35,278.61 500.60,278.65 500.86,278.69 501.11,278.72 501.37,278.74 501.62,278.75 501.87,278.74 502.13,278.68 502.38,278.55 502.64,278.30 502.89,277.89 503.15,277.26 503.40,276.34 503.65,275.07 503.91,273.41 504.16,271.37 504.42,269.01 504.67,266.48 504.92,263.99 505.18,261.86 505.43,260.44 505.69,260.04 505.94,260.75 506.20,262.43 506.45,264.76 506.70,267.38 506.96,270.01 507.21,272.42 507.47,274.50 507.72,276.19 507.97,277.50 508.23,278.45 508.48,279.12 508.74,279.57 508.99,279.86 509.25,280.03 509.50,280.14 509.75,280.20 510.01,280.24 510.26,280.29 510.52,280.34 510.77,280.40 511.02,280.46 511.28,280.51 511.53,280.56 511.79,280.58 512.04,280.58 512.30,280.56 512.55,280.51 512.80,280.45 513.06,280.39 513.31,280.33 513.57,280.29 513.82,280.27 514.07,280.28 514.33,280.31 514.58,280.37 514.84,280.44 515.09,280.51 515.35,280.58 515.60,280.63 515.85,280.67 516.11,280.70 516.36,280.71 516.62,280.71 516.87,280.70 517.12,280.69 517.38,280.68 517.63,280.67 517.89,280.68 518.14,280.69 518.40,280.72 518.65,280.76 518.90,280.80 519.16,280.86 519.41,280.93 519.67,281.00 519.92,281.07 520.17,281.13 520.43,281.18 520.68,281.22 520.94,281.24 521.19,281.25 521.45,281.25 521.70,281.25 521.95,281.24 522.21,281.23 522.46,281.23 522.72,281.24 522.97,281.25 523.22,281.27 523.48,281.30 523.73,281.33 523.99,281.35 524.24,281.37 524.50,281.39 524.75,281.40 525.00,281.40 525.26,281.40 525.51,281.40 525.77,281.38 526.02,281.35 526.27,281.32 526.53,281.27 526.78,281.22 527.04,281.18 527.29,281.14 527.55,281.11 527.80,281.10 528.05,281.10 528.31,281.10 528.56,281.11 528.82,281.12 529.07,281.13 529.32,281.13 529.58,281.14 529.83,281.16 530.09,281.19 530.34,281.24 530.60,281.29 530.85,281.35 531.10,281.42 531.36,281.47 531.61,281.52 531.87,281.55 532.12,281.57 532.37,281.57 532.63,281.56 532.88,281.54 533.14,281.52 533.39,281.49 533.65,281.47 533.90,281.45" stroke="#3277df"/>
<polyline points="305.40,332.97 305.65,332.90 305.91,332.82 306.16,332.73 306.42,332.65 306.67,332.57 306.93,332.50 307.18,332.44 307.43,332.39 307.69,332.35 307.94,332.33 308.20,332.32 308.45,332.31 308.70,332.31 308.96,332.30 309.21,332.29 309.47,332.26 309.72,332.21 309.98,332.15 310.23,332.07 310.48,331.98 310.74,331.89 310.99,331.81 311.25,331.72 311.50,331.65 311.75,331.57 312.01,331.50 312.26,331.42 312.52,331.34 312.77,331.26 313.03,331.18 313.28,331.10 313.53,331.03 313.79,330.96 314.04,330.89 314.30,330.85 314.55,330.81 314.80,330.78 315.06,330.74 315.31,330.70 315.57,330.65 315.82,330.60 316.08,330.55 316.33,330.50 316.58,330.45 316.84,330.40 317.09,330.36 317.35,330.32 317.60,330.28 317.85,330.28 318.11,330.27 318.36,330.24 318.62,330.21 318.87,330.16 319.13,330.12 319.38,330.09 319.63,330.07 319.89,330.06 320.14,330.06 320.40,330.07 320.65,330.09 320.90,330.09 321.16,330.09 321.41,330.06 321.67,329.99 321.92,329.88 322.18,329.72 322.43,329.52 322.68,329.28 322.94,329.00 323.19,328.70 323.45,328.35 323.70,327.94 323.95,327.42 324.21,326.73 324.46,325.86 324.72,324.81 324.97,323.64 325.23,322.45 325.48,321.38 325.73,320.59 325.99,320.19 326.24,320.21 326.50,320.52 326.75,320.93 327.00,321.21 327.26,321.19 327.51,320.78 327.77,319.94 328.02,318.76 328.28,317.39 328.53,316.09 328.78,315.14 329.04,314.82 329.29,315.27 329.55,316.44 329.80,318.13 330.05,320.06 330.31,322.02 330.56,323.85 330.82,325.44 331.07,326.74 331.33,327.75 331.58,328.51 331.83,329.07 332.09,329.48 332.34,329.78 332.60,330.01 332.85,330.19 333.10,330.33 333.36,330.43 333.61,330.50 333.87,330.55 334.12,330.57 334.38,330.57 334.63,330.57 334.88,330.55 335.14,330.53 335.39,330.52 335.65,330.52 335.90,330.52 336.15,330.51 336.41,330.49 336.66,330.44 336.92,330.34 337.17,330.17 337.43,329.90 337.68,329.50 337.93,328.95 338.19,328.22 338.44,327.32 338.70,326.26 338.95,325.07 339.20,323.84 339.46,322.67 339.71,321.70 339.97,321.12 340.22,321.04 340.48,321.51 340.73,322.41 340.98,323.58 341.24,324.86 341.49,326.11 341.75,327.23 342.00,328.17 342.25,328.92 342.51,329.48 342.76,329.89 343.02,330.19 343.27,330.41 343.53,330.57 343.78,330.69 344.03,330.80 344.29,330.88 344.54,330.94 344.80,331.00 345.05,331.03 345.30,331.06 345.56,331.08 345.81,331.10 346.07,331.11 346.32,331.13 346.58,331.14 346.83,331.16 347.08,331.17 347.34,331.19 347.59,331.21 347.85,331.23 348.10,331.24 348.35,331.26 348.61,331.28 348.86,331.30 349.12,331.32 349.37,331.33 349.63,331.33 349.88,331.33 350.13,331.33 350.39,331.33 350.64,331.34 350.90,331.34 351.15,331.35 351.41,331.35 351.66,331.35 351.91,331.35 352.17,331.34 352.42,331.32 352.68,331.31 352.93,331.30 353.18,331.30 353.44,331.31 353.69,331.32 353.95,331.34 354.20,331.35 354.46,331.36 354.71,331.36 354.96,331.35 355.22,331.34 355.47,331.31 355.73,331.28 355.98,331.25 356.23,331.22 356.49,331.20 356.74,331.18 357.00,331.16 357.25,331.14 357.51,331.10 357.76,331.04 358.01,330.93 358.27,330.76 358.52,330.48 358.78,330.05 359.03,329.42 359.28,328.55 359.54,327.50 359.79,326.37 360.05,325.38 360.30,324.83 360.56,324.94 360.81,325.66 361.06,326.75 361.32,327.92 361.57,328.96 361.83,329.77 362.08,330.34 362.33,330.71 362.59,330.93 362.84,331.07 363.10,331.17 363.35,331.26 363.61,331.35 363.86,331.44 364.11,331.52 364.37,331.58 364.62,331.62 364.88,331.63 365.13,331.61 365.38,331.56 365.64,331.49 365.89,331.41 366.15,331.33 366.40,331.25 366.66,331.17 366.91,331.08 367.16,330.97 367.42,330.80 367.67,330.55 367.93,330.19 368.18,329.68 368.43,329.00 368.69,328.13 368.94,327.09 369.20,325.91 369.45,324.67 369.71,323.50 369.96,322.55 370.21,321.99 370.47,321.94 370.72,322.43 370.98,323.34 371.23,324.50 371.48,325.76 371.74,326.98 371.99,328.06 372.25,328.95 372.50,329.62 372.76,330.07 373.01,330.31 373.26,330.35 373.52,330.19 373.77,329.86 374.03,329.37 374.28,328.72 374.53,327.95 374.79,327.13 375.04,326.32 375.30,325.63 375.55,325.19 375.81,325.08 376.06,325.33 376.31,325.88 376.57,326.63 376.82,327.47 377.08,328.30 377.33,329.07 377.58,329.73 377.84,330.28 378.09,330.71 378.35,331.03 378.60,331.27 378.86,331.45 379.11,331.58 379.36,331.69 379.62,331.78 379.87,331.86 380.13,331.93 380.38,332.00 380.63,332.07 380.89,332.13 381.14,332.19 381.40,332.24 381.65,332.27 381.91,332.30 382.16,332.32 382.41,332.33 382.67,332.33 382.92,332.34 383.18,332.34 383.43,332.35 383.68,332.35 383.94,332.35 384.19,332.34 384.45,332.33 384.70,332.32 384.96,332.30 385.21,332.28 385.46,332.26 385.72,332.24 385.97,332.23 386.23,332.22 386.48,332.22 386.73,332.24 386.99,332.28 387.24,332.32 387.50,332.38 387.75,332.44 388.01,332.49 388.26,332.54 388.51,332.58 388.77,332.60 389.02,332.60 389.28,332.59 389.53,332.58 389.78,332.56 390.04,332.55 390.29,332.53 390.55,332.51 390.80,332.50 391.06,332.49 391.31,332.48 391.56,332.47 391.82,332.46 392.07,332.45 392.33,332.44 392.58,332.43 392.83,332.41 393.09,332.38 393.34,332.35 393.60,332.33 393.85,332.31 394.11,332.32 394.36,332.35 394.61,332.40 394.87,332.47 395.12,332.54 395.38,332.62 395.63,332.68 395.88,332.73 396.14,332.75 396.39,332.75 396.65,332.74 396.90,332.71 397.16,332.68 397.41,332.64 397.66,332.60 397.92,332.55 398.17,332.49 398.43,332.43 398.68,332.36 398.94,332.29 399.19,332.23 399.44,332.19 399.70,332.17 399.95,332.18 400.21,332.21 400.46,332.25 400.71,332.30 400.97,332.35 401.22,332.40 401.48,332.43 401.73,332.44 401.99,332.43 402.24,332.41 402.49,332.38 402.75,332.35 403.00,332.31 403.26,332.27 403.51,332.25 403.76,332.22 404.02,332.20 404.27,332.18 404.53,332.15 404.78,332.12 405.04,332.07 405.29,332.02 405.54,331.98 405.80,331.94 406.05,331.92 406.31,331.92 406.56,331.93 406.81,331.97 407.07,332.02 407.32,332.07 407.58,332.12 407.83,332.17 408.09,332.22 408.34,332.25 408.59,332.28 408.85,332.31 409.10,332.34 409.36,332.38 409.61,332.43 409.86,332.47 410.12,332.52 410.37,332.56 410.63,332.58 410.88,332.58 411.14,332.56 411.39,332.51 411.64,332.44 411.90,332.34 412.15,332.23 412.41,332.09 412.66,331.95 412.91,331.78 413.17,331.61 413.42,331.42 413.68,331.22 413.93,330.98 414.19,330.70 414.44,330.35 414.69,329.87 414.95,329.21 415.20,328.33 415.46,327.16 415.71,325.68 415.96,323.92 416.22,321.95 416.47,319.91 416.73,318.01 416.98,316.52 417.24,315.71 417.49,315.77 417.74,316.69 418.00,318.28 418.25,320.25 418.51,322.34 418.76,324.35 419.01,326.13 419.27,327.61 419.52,328.78 419.78,329.66 420.03,330.30 420.29,330.73 420.54,331.02 420.79,331.20 421.05,331.31 421.30,331.37 421.56,331.39 421.81,331.39 422.06,331.37 422.32,331.33 422.57,331.29 422.83,331.25 423.08,331.20 423.34,331.15 423.59,331.10 423.84,331.05 424.10,330.98 424.35,330.88 424.61,330.74 424.86,330.54 425.11,330.23 425.37,329.78 425.62,329.14 425.88,328.26 426.13,327.09 426.39,325.63 426.64,323.91 426.89,322.01 427.15,320.08 427.40,318.34 427.66,317.03 427.91,316.41 428.16,316.62 428.42,317.61 428.67,319.18 428.93,321.05 429.18,322.98 429.44,324.79 429.69,326.38 429.94,327.67 430.20,328.65 430.45,329.37 430.71,329.86 430.96,330.19 431.21,330.39 431.47,330.51 431.72,330.59 431.98,330.63 432.23,330.65 432.49,330.64 432.74,330.62 432.99,330.56 433.25,330.47 433.50,330.35 433.76,330.20 434.01,330.01 434.26,329.80 434.52,329.55 434.77,329.28 435.03,328.98 435.28,328.65 435.54,328.28 435.79,327.87 436.04,327.41 436.30,326.89 436.55,326.32 436.81,325.69 437.06,325.03 437.31,324.32 437.57,323.61 437.82,322.89 438.08,322.19 438.33,321.53 438.59,320.93 438.84,320.42 439.09,320.01 439.35,319.70 439.60,319.52 439.86,319.45 440.11,319.47 440.36,319.56 440.62,319.68 440.87,319.80 441.13,319.87 441.38,319.84 441.64,319.69 441.89,319.37 442.14,318.85 442.40,318.11 442.65,317.14 442.91,315.95 443.16,314.57 443.42,313.03 443.67,311.41 443.92,309.76 444.18,308.20 444.43,306.80 444.69,305.66 444.94,304.86 445.19,304.39 445.45,304.23 445.70,304.28 445.96,304.46 446.21,304.65 446.47,304.78 446.72,304.82 446.97,304.76 447.23,304.62 447.48,304.45 447.74,304.35 447.99,304.40 448.24,304.66 448.50,305.18 448.75,305.94 449.01,306.89 449.26,307.95 449.52,309.04 449.77,310.09 450.02,311.03 450.28,311.84 450.53,312.49 450.79,312.98 451.04,313.30 451.29,313.49 451.55,313.57 451.80,313.57 452.06,313.54 452.31,313.49 452.57,313.46 452.82,313.46 453.07,313.48 453.33,313.51 453.58,313.54 453.84,313.56 454.09,313.55 454.34,313.51 454.60,313.42 454.85,313.28 455.11,313.07 455.36,312.77 455.62,312.33 455.87,311.70 456.12,310.77 456.38,309.43 456.63,307.55 456.89,305.01 457.14,301.71 457.39,297.62 457.65,292.84 457.90,287.61 458.16,282.34 458.41,277.59 458.67,274.08 458.92,272.50 459.17,273.25 459.43,276.17 459.68,280.70 459.94,286.09 460.19,291.68 460.44,296.98 460.70,301.66 460.95,305.56 461.21,308.67 461.46,311.04 461.72,312.81 461.97,314.11 462.22,315.07 462.48,315.80 462.73,316.38 462.99,316.87 463.24,317.30 463.49,317.68 463.75,318.03 464.00,318.37 464.26,318.68 464.51,318.96 464.77,319.23 465.02,319.45 465.27,319.63 465.53,319.74 465.78,319.73 466.04,319.57 466.29,319.18 466.54,318.50 466.80,317.45 467.05,315.97 467.31,314.04 467.56,311.69 467.82,309.03 468.07,306.27 468.32,303.70 468.58,301.70 468.83,300.66 469.09,300.83 469.34,302.20 469.59,304.49 469.85,307.31 470.10,310.27 470.36,313.11 470.61,315.63 470.87,317.73 471.12,319.38 471.37,320.62 471.63,321.51 471.88,322.12 472.14,322.52 472.39,322.79 472.64,322.97 472.90,323.08 473.15,323.16 473.41,323.21 473.66,323.24 473.92,323.26 474.17,323.25 474.42,323.22 474.68,323.15 474.93,323.05 475.19,322.89 475.44,322.68 475.69,322.40 475.95,322.03 476.20,321.55 476.46,320.95 476.71,320.23 476.97,319.36 477.22,318.39 477.47,317.36 477.73,316.35 477.98,315.48 478.24,314.88 478.49,314.64 478.74,314.79 479.00,315.27 479.25,315.96 479.51,316.75 479.76,317.53 480.02,318.23 480.27,318.80 480.52,319.22 480.78,319.47 481.03,319.58 481.29,319.55 481.54,319.40 481.79,319.15 482.05,318.81 482.30,318.40 482.56,317.90 482.81,317.33 483.07,316.68 483.32,315.99 483.57,315.26 483.83,314.52 484.08,313.82 484.34,313.22 484.59,312.78 484.84,312.53 485.10,312.52 485.35,312.73 485.61,313.12 485.86,313.62 486.12,314.16 486.37,314.66 486.62,315.07 486.88,315.34 487.13,315.42 487.39,315.28 487.64,314.93 487.89,314.36 488.15,313.61 488.40,312.71 488.66,311.74 488.91,310.79 489.17,309.95 489.42,309.34 489.67,309.05 489.93,309.16 490.18,309.66 490.44,310.52 490.69,311.63 490.95,312.90 491.20,314.23 491.45,315.55 491.71,316.80 491.96,317.92 492.22,318.90 492.47,319.72 492.72,320.35 492.98,320.81 493.23,321.06 493.49,321.10 493.74,320.90 494.00,320.45 494.25,319.72 494.50,318.72 494.76,317.49 495.01,316.13 495.27,314.75 495.52,313.55 495.77,312.76 496.03,312.58 496.28,313.10 496.54,314.23 496.79,315.80 497.05,317.58 497.30,319.36 497.55,321.03 497.81,322.49 498.06,323.70 498.32,324.65 498.57,325.38 498.82,325.93 499.08,326.32 499.33,326.61 499.59,326.83 499.84,327.00 500.10,327.14 500.35,327.28 500.60,327.41 500.86,327.53 501.11,327.65 501.37,327.75 501.62,327.81 501.87,327.81 502.13,327.74 502.38,327.55 502.64,327.19 502.89,326.60 503.15,325.67 503.40,324.32 503.65,322.44 503.91,319.99 504.16,316.96 504.42,313.45 504.67,309.67 504.92,305.97 505.18,302.79 505.43,300.67 505.69,300.04 505.94,301.06 506.20,303.52 506.45,306.92 506.70,310.76 506.96,314.60 507.21,318.13 507.47,321.17 507.72,323.64 507.97,325.54 508.23,326.96 508.48,327.97 508.74,328.68 508.99,329.17 509.25,329.52 509.50,329.78 509.75,329.98 510.01,330.13 510.26,330.25 510.52,330.35 510.77,330.42 511.02,330.47 511.28,330.50 511.53,330.52 511.79,330.53 512.04,330.55 512.30,330.57 512.55,330.60 512.80,330.64 513.06,330.70 513.31,330.76 513.57,330.83 513.82,330.91 514.07,330.98 514.33,331.06 514.58,331.13 514.84,331.20 515.09,331.26 515.35,331.31 515.60,331.36 515.85,331.39 516.11,331.42 516.36,331.44 516.62,331.46 516.87,331.48 517.12,331.50 517.38,331.53 517.63,331.57 517.89,331.61 518.14,331.64 518.40,331.67 518.65,331.68 518.90,331.67 519.16,331.66 519.41,331.63 519.67,331.60 519.92,331.58 520.17,331.57 520.43,331.56 520.68,331.56 520.94,331.57 521.19,331.58 521.45,331.60 521.70,331.61 521.95,331.63 522.21,331.66 522.46,331.68 522.72,331.71 522.97,331.73 523.22,331.74 523.48,331.75 523.73,331.75 523.99,331.74 524.24,331.72 524.50,331.69 524.75,331.67 525.00,331.66 525.26,331.64 525.51,331.64 525.77,331.63 526.02,331.63 526.27,331.64 526.53,331.64 526.78,331.65 527.04,331.67 527.29,331.69 527.55,331.72 527.80,331.75 528.05,331.80 528.31,331.86 528.56,331.93 528.82,332.01 529.07,332.09 529.32,332.18 529.58,332.25 529.83,332.31 530.09,332.35 530.34,332.36 530.60,332.35 530.85,332.33 531.10,332.29 531.36,332.25 531.61,332.22 531.87,332.20 532.12,332.19 532.37,332.20 532.63,332.22 532.88,332.24 533.14,332.26 533.39,332.27 533.65,332.26 533.90,332.24" stroke="#ec4449"/>
<polyline points="305.40,384.44 305.65,384.39 305.91,384.36 306.16,384.35 306.42,384.35 306.67,384.36 306.93,384.38 307.18,384.39 307.43,384.40 307.69,384.40 307.94,384.38 308.20,384.33 308.45,384.26 308.70,384.16 308.96,384.05 309.21,383.93 309.47,383.80 309.72,383.68 309.98,383.59 310.23,383.51 310.48,383.46 310.74,383.42 310.99,383.40 311.25,383.38 311.50,383.37 311.75,383.35 312.01,383.33 312.26,383.30 312.52,383.28 312.77,383.24 313.03,383.19 313.28,383.14 313.53,383.08 313.79,383.02 314.04,382.95 314.30,382.91 314.55,382.89 314.80,382.87 315.06,382.87 315.31,382.89 315.57,382.92 315.82,382.96 316.08,383.01 316.33,383.06 316.58,383.09 316.84,383.10 317.09,383.08 317.35,383.03 317.60,382.94 317.85,382.85 318.11,382.73 318.36,382.60 318.62,382.46 318.87,382.33 319.13,382.23 319.38,382.16 319.63,382.12 319.89,382.10 320.14,382.11 320.40,382.12 320.65,382.13 320.90,382.14 321.16,382.13 321.41,382.11 321.67,382.06 321.92,381.98 322.18,381.87 322.43,381.74 322.68,381.58 322.94,381.40 323.19,381.21 323.45,381.00 323.70,380.75 323.95,380.43 324.21,380.00 324.46,379.43 324.72,378.74 324.97,377.95 325.23,377.14 325.48,376.40 325.73,375.83 325.99,375.52 326.24,375.49 326.50,375.66 326.75,375.90 327.00,376.07 327.26,376.05 327.51,375.78 327.77,375.22 328.02,374.44 328.28,373.52 328.53,372.65 328.78,372.02 329.04,371.83 329.29,372.17 329.55,373.01 329.80,374.21 330.05,375.58 330.31,376.98 330.56,378.29 330.82,379.43 331.07,380.38 331.33,381.13 331.58,381.71 331.83,382.13 332.09,382.44 332.34,382.66 332.60,382.82 332.85,382.92 333.10,382.98 333.36,383.00 333.61,383.00 333.87,382.97 334.12,382.91 334.38,382.85 334.63,382.77 334.88,382.70 335.14,382.63 335.39,382.58 335.65,382.54 335.90,382.52 336.15,382.50 336.41,382.49 336.66,382.47 336.92,382.42 337.17,382.33 337.43,382.18 337.68,381.94 337.93,381.61 338.19,381.15 338.44,380.56 338.70,379.85 338.95,379.04 339.20,378.19 339.46,377.37 339.71,376.69 339.97,376.28 340.22,376.24 340.48,376.57 340.73,377.23 340.98,378.08 341.24,379.01 341.49,379.93 341.75,380.75 342.00,381.45 342.25,382.01 342.51,382.44 342.76,382.75 343.02,382.97 343.27,383.12 343.53,383.21 343.78,383.26 344.03,383.29 344.29,383.31 344.54,383.32 344.80,383.32 345.05,383.31 345.30,383.31 345.56,383.30 345.81,383.29 346.07,383.28 346.32,383.29 346.58,383.31 346.83,383.35 347.08,383.40 347.34,383.46 347.59,383.52 347.85,383.58 348.10,383.62 348.35,383.65 348.61,383.67 348.86,383.66 349.12,383.65 349.37,383.63 349.63,383.60 349.88,383.57 350.13,383.55 350.39,383.52 350.64,383.51 350.90,383.50 351.15,383.51 351.41,383.53 351.66,383.56 351.91,383.60 352.17,383.63 352.42,383.66 352.68,383.68 352.93,383.68 353.18,383.68 353.44,383.66 353.69,383.64 353.95,383.63 354.20,383.62 354.46,383.62 354.71,383.63 354.96,383.66 355.22,383.69 355.47,383.72 355.73,383.76 355.98,383.79 356.23,383.82 356.49,383.83 356.74,383.85 357.00,383.85 357.25,383.86 357.51,383.85 357.76,383.83 358.01,383.78 358.27,383.69 358.52,383.51 358.78,383.22 359.03,382.77 359.28,382.15 359.54,381.39 359.79,380.58 360.05,379.87 360.30,379.49 360.56,379.57 360.81,380.11 361.06,380.92 361.32,381.78 361.57,382.55 361.83,383.16 362.08,383.59 362.33,383.86 362.59,384.02 362.84,384.10 363.10,384.13 363.35,384.14 363.61,384.14 363.86,384.13 364.11,384.13 364.37,384.14 364.62,384.15 364.88,384.17 365.13,384.20 365.38,384.22 365.64,384.23 365.89,384.23 366.15,384.22 366.40,384.19 366.66,384.14 366.91,384.06 367.16,383.95 367.42,383.79 367.67,383.56 367.93,383.24 368.18,382.80 368.43,382.24 368.69,381.53 368.94,380.70 369.20,379.77 369.45,378.81 369.71,377.91 369.96,377.20 370.21,376.79 370.47,376.79 370.72,377.19 370.98,377.91 371.23,378.82 371.48,379.80 371.74,380.75 371.99,381.59 372.25,382.28 372.50,382.80 372.76,383.15 373.01,383.33 373.26,383.34 373.52,383.19 373.77,382.89 374.03,382.45 374.28,381.88 374.53,381.22 374.79,380.50 375.04,379.80 375.30,379.20 375.55,378.81 375.81,378.71 376.06,378.93 376.31,379.42 376.57,380.09 376.82,380.85 377.08,381.61 377.33,382.31 377.58,382.93 377.84,383.43 378.09,383.82 378.35,384.12 378.60,384.32 378.86,384.45 379.11,384.54 379.36,384.58 379.62,384.60 379.87,384.61 380.13,384.60 380.38,384.58 380.63,384.56 380.89,384.54 381.14,384.52 381.40,384.50 381.65,384.50 381.91,384.51 382.16,384.54 382.41,384.58 382.67,384.64 382.92,384.70 383.18,384.78 383.43,384.85 383.68,384.91 383.94,384.97 384.19,385.02 384.45,385.06 384.70,385.09 384.96,385.11 385.21,385.14 385.46,385.16 385.72,385.19 385.97,385.21 386.23,385.24 386.48,385.27 386.73,385.31 386.99,385.34 387.24,385.37 387.50,385.41 387.75,385.44 388.01,385.47 388.26,385.50 388.51,385.52 388.77,385.53 389.02,385.53 389.28,385.52 389.53,385.50 389.78,385.46 390.04,385.42 390.29,385.38 390.55,385.34 390.80,385.32 391.06,385.31 391.31,385.32 391.56,385.35 391.82,385.40 392.07,385.45 392.33,385.50 392.58,385.55 392.83,385.58 393.09,385.60 393.34,385.60 393.60,385.58 393.85,385.55 394.11,385.50 394.36,385.45 394.61,385.41 394.87,385.39 395.12,385.37 395.38,385.37 395.63,385.37 395.88,385.37 396.14,385.37 396.39,385.36 396.65,385.34 396.90,385.32 397.16,385.29 397.41,385.27 397.66,385.25 397.92,385.23 398.17,385.21 398.43,385.19 398.68,385.17 398.94,385.15 399.19,385.14 399.44,385.13 399.70,385.11 399.95,385.10 400.21,385.08 400.46,385.07 400.71,385.06 400.97,385.06 401.22,385.07 401.48,385.10 401.73,385.14 401.99,385.18 402.24,385.24 402.49,385.29 402.75,385.33 403.00,385.38 403.26,385.41 403.51,385.43 403.76,385.44 404.02,385.43 404.27,385.41 404.53,385.38 404.78,385.34 405.04,385.31 405.29,385.27 405.54,385.24 405.80,385.22 406.05,385.20 406.31,385.18 406.56,385.17 406.81,385.15 407.07,385.12 407.32,385.10 407.58,385.07 407.83,385.05 408.09,385.04 408.34,385.03 408.59,385.02 408.85,385.01 409.10,385.01 409.36,385.00 409.61,385.00 409.86,385.00 410.12,385.01 410.37,385.02 410.63,385.04 410.88,385.06 411.14,385.08 411.39,385.10 411.64,385.12 411.90,385.13 412.15,385.14 412.41,385.13 412.66,385.11 412.91,385.07 413.17,385.01 413.42,384.93 413.68,384.81 413.93,384.66 414.19,384.46 414.44,384.18 414.69,383.80 414.95,383.28 415.20,382.57 415.46,381.64 415.71,380.47 415.96,379.08 416.22,377.51 416.47,375.88 416.73,374.34 416.98,373.12 417.24,372.42 417.49,372.39 417.74,373.03 418.00,374.20 418.25,375.67 418.51,377.23 418.76,378.73 419.01,380.05 419.27,381.15 419.52,382.00 419.78,382.64 420.03,383.09 420.29,383.40 420.54,383.60 420.79,383.74 421.05,383.84 421.30,383.92 421.56,383.98 421.81,384.04 422.06,384.10 422.32,384.17 422.57,384.23 422.83,384.28 423.08,384.33 423.34,384.36 423.59,384.37 423.84,384.37 424.10,384.34 424.35,384.28 424.61,384.18 424.86,384.01 425.11,383.74 425.37,383.34 425.62,382.75 425.88,381.93 426.13,380.85 426.39,379.50 426.64,377.92 426.89,376.19 427.15,374.44 427.40,372.86 427.66,371.68 427.91,371.12 428.16,371.30 428.42,372.17 428.67,373.56 428.93,375.22 429.18,376.93 429.44,378.54 429.69,379.95 429.94,381.09 430.20,381.98 430.45,382.62 430.71,383.06 430.96,383.34 431.21,383.52 431.47,383.62 431.72,383.68 431.98,383.71 432.23,383.73 432.49,383.74 432.74,383.73 432.99,383.71 433.25,383.66 433.50,383.59 433.76,383.48 434.01,383.32 434.26,383.13 434.52,382.90 434.77,382.63 435.03,382.33 435.28,382.00 435.54,381.63 435.79,381.23 436.04,380.79 436.30,380.32 436.55,379.81 436.81,379.25 437.06,378.66 437.31,378.04 437.57,377.39 437.82,376.74 438.08,376.09 438.33,375.47 438.59,374.90 438.84,374.40 439.09,374.00 439.35,373.71 439.60,373.52 439.86,373.44 440.11,373.44 440.36,373.50 440.62,373.59 440.87,373.68 441.13,373.73 441.38,373.72 441.64,373.61 441.89,373.38 442.14,373.00 442.40,372.45 442.65,371.72 442.91,370.82 443.16,369.75 443.42,368.55 443.67,367.25 443.92,365.93 444.18,364.65 444.43,363.48 444.69,362.52 444.94,361.82 445.19,361.39 445.45,361.22 445.70,361.23 445.96,361.34 446.21,361.49 446.47,361.60 446.72,361.66 446.97,361.64 447.23,361.58 447.48,361.52 447.74,361.52 447.99,361.64 448.24,361.95 448.50,362.47 448.75,363.17 449.01,364.01 449.26,364.92 449.52,365.83 449.77,366.68 450.02,367.42 450.28,368.01 450.53,368.44 450.79,368.71 451.04,368.84 451.29,368.85 451.55,368.79 451.80,368.69 452.06,368.60 452.31,368.56 452.57,368.59 452.82,368.68 453.07,368.83 453.33,369.02 453.58,369.23 453.84,369.45 454.09,369.64 454.34,369.81 454.60,369.93 454.85,369.98 455.11,369.96 455.36,369.84 455.62,369.58 455.87,369.13 456.12,368.42 456.38,367.36 456.63,365.84 456.89,363.75 457.14,361.02 457.39,357.61 457.65,353.62 457.90,349.23 458.16,344.78 458.41,340.78 458.67,337.81 458.92,336.47 459.17,337.10 459.43,339.57 459.68,343.40 459.94,347.96 460.19,352.70 460.44,357.18 460.70,361.13 460.95,364.43 461.21,367.04 461.46,369.03 461.72,370.51 461.97,371.58 462.22,372.37 462.48,372.97 462.73,373.44 462.99,373.82 463.24,374.16 463.49,374.45 463.75,374.71 464.00,374.96 464.26,375.19 464.51,375.39 464.77,375.58 465.02,375.74 465.27,375.86 465.53,375.92 465.78,375.89 466.04,375.71 466.29,375.34 466.54,374.70 466.80,373.73 467.05,372.36 467.31,370.59 467.56,368.44 467.82,366.02 468.07,363.51 468.32,361.19 468.58,359.39 468.83,358.48 469.09,358.67 469.34,359.94 469.59,362.05 469.85,364.63 470.10,367.35 470.36,369.95 470.61,372.24 470.87,374.15 471.12,375.63 471.37,376.73 471.63,377.50 471.88,378.01 472.14,378.34 472.39,378.55 472.64,378.69 472.90,378.80 473.15,378.89 473.41,378.96 473.66,379.03 473.92,379.09 474.17,379.12 474.42,379.12 474.68,379.08 474.93,379.00 475.19,378.88 475.44,378.70 475.69,378.47 475.95,378.16 476.20,377.76 476.46,377.26 476.71,376.64 476.97,375.92 477.22,375.10 477.47,374.23 477.73,373.40 477.98,372.70 478.24,372.25 478.49,372.12 478.74,372.33 479.00,372.81 479.25,373.46 479.51,374.16 479.76,374.83 480.02,375.40 480.27,375.85 480.52,376.17 480.78,376.35 481.03,376.42 481.29,376.36 481.54,376.20 481.79,375.95 482.05,375.60 482.30,375.16 482.56,374.62 482.81,374.00 483.07,373.29 483.32,372.51 483.57,371.69 483.83,370.86 484.08,370.07 484.34,369.39 484.59,368.90 484.84,368.64 485.10,368.65 485.35,368.92 485.61,369.40 485.86,370.01 486.12,370.66 486.37,371.27 486.62,371.78 486.88,372.13 487.13,372.27 487.39,372.18 487.64,371.87 487.89,371.33 488.15,370.60 488.40,369.72 488.66,368.77 488.91,367.83 489.17,366.99 489.42,366.36 489.67,366.04 489.93,366.09 490.18,366.54 490.44,367.34 490.69,368.39 490.95,369.60 491.20,370.88 491.45,372.14 491.71,373.33 491.96,374.41 492.22,375.35 492.47,376.13 492.72,376.73 492.98,377.16 493.23,377.39 493.49,377.40 493.74,377.17 494.00,376.68 494.25,375.92 494.50,374.89 494.76,373.65 495.01,372.27 495.27,370.90 495.52,369.72 495.77,368.92 496.03,368.71 496.28,369.14 496.54,370.14 496.79,371.53 497.05,373.11 497.30,374.68 497.55,376.14 497.81,377.41 498.06,378.47 498.32,379.32 498.57,379.99 498.82,380.51 499.08,380.91 499.33,381.24 499.59,381.51 499.84,381.73 500.10,381.91 500.35,382.05 500.60,382.16 500.86,382.24 501.11,382.29 501.37,382.29 501.62,382.26 501.87,382.17 502.13,382.03 502.38,381.79 502.64,381.42 502.89,380.87 503.15,380.06 503.40,378.91 503.65,377.35 503.91,375.33 504.16,372.85 504.42,370.00 504.67,366.93 504.92,363.93 505.18,361.35 505.43,359.62 505.69,359.10 505.94,359.93 506.20,361.92 506.45,364.68 506.70,367.80 506.96,370.92 507.21,373.79 507.47,376.27 507.72,378.29 507.97,379.85 508.23,381.02 508.48,381.86 508.74,382.47 508.99,382.90 509.25,383.22 509.50,383.46 509.75,383.64 510.01,383.77 510.26,383.88 510.52,383.96 510.77,384.01 511.02,384.05 511.28,384.09 511.53,384.12 511.79,384.15 512.04,384.18 512.30,384.22 512.55,384.27 512.80,384.31 513.06,384.36 513.31,384.40 513.57,384.44 513.82,384.47 514.07,384.50 514.33,384.52 514.58,384.54 514.84,384.55 515.09,384.56 515.35,384.58 515.60,384.60 515.85,384.61 516.11,384.63 516.36,384.65 516.62,384.66 516.87,384.67 517.12,384.67 517.38,384.66 517.63,384.65 517.89,384.64 518.14,384.61 518.40,384.58 518.65,384.55 518.90,384.51 519.16,384.47 519.41,384.44 519.67,384.41 519.92,384.39 520.17,384.38 520.43,384.39 520.68,384.41 520.94,384.44 521.19,384.48 521.45,384.53 521.70,384.59 521.95,384.64 522.21,384.69 522.46,384.73 522.72,384.76 522.97,384.78 523.22,384.80 523.48,384.82 523.73,384.84 523.99,384.87 524.24,384.90 524.50,384.93 524.75,384.95 525.00,384.96 525.26,384.96 525.51,384.94 525.77,384.90 526.02,384.86 526.27,384.80 526.53,384.74 526.78,384.68 527.04,384.62 527.29,384.56 527.55,384.52 527.80,384.49 528.05,384.47 528.31,384.47 528.56,384.49 528.82,384.52 529.07,384.57 529.32,384.62 529.58,384.67 529.83,384.73 530.09,384.78 530.34,384.82 530.60,384.86 530.85,384.88 531.10,384.89 531.36,384.90 531.61,384.91 531.87,384.93 532.12,384.94 532.37,384.96 532.63,384.98 532.88,385.00 533.14,385.02 533.39,385.03 533.65,385.03 533.90,385.03" stroke="#4a4a4a"/>
</g>
<rect x="26.6" y="3.6" width="228.10" height="167.60" fill="none" stroke="#4a4a4a" stroke-width="1.35"/>
<path d="M26.60,171.20V174.40M59.19,171.20V174.40M91.77,171.20V174.40M124.36,171.20V174.40M156.94,171.20V174.40M189.53,171.20V174.40M222.11,171.20V174.40M254.70,171.20V174.40" stroke="#4a4a4a" stroke-width="1.1" fill="none"/>
<text x="26.60" y="185.80" font-family="'Liberation Serif', serif" font-weight="bold" font-size="10.6" text-anchor="middle" fill="#111">400</text>
<text x="59.19" y="185.80" font-family="'Liberation Serif', serif" font-weight="bold" font-size="10.6" text-anchor="middle" fill="#111">600</text>
<text x="91.77" y="185.80" font-family="'Liberation Serif', serif" font-weight="bold" font-size="10.6" text-anchor="middle" fill="#111">800</text>
<text x="124.36" y="185.80" font-family="'Liberation Serif', serif" font-weight="bold" font-size="10.6" text-anchor="middle" fill="#111">1000</text>
<text x="156.94" y="185.80" font-family="'Liberation Serif', serif" font-weight="bold" font-size="10.6" text-anchor="middle" fill="#111">1200</text>
<text x="189.53" y="185.80" font-family="'Liberation Serif', serif" font-weight="bold" font-size="10.6" text-anchor="middle" fill="#111">1400</text>
<text x="222.11" y="185.80" font-family="'Liberation Serif', serif" font-weight="bold" font-size="10.6" text-anchor="middle" fill="#111">1600</text>
<text x="254.70" y="185.80" font-family="'Liberation Serif', serif" font-weight="bold" font-size="10.6" text-anchor="middle" fill="#111">1800</text>
<text x="140.65" y="203.80" font-family="'Liberation Serif', serif" font-weight="bold" font-size="14" text-anchor="middle" fill="#000">Raman shifts (cm<tspan font-size="9.6" dx="0.8" dy="-6.3">−1</tspan><tspan dy="6.3">)</tspan></text>
<rect x="305.6" y="5.1" width="228.20" height="167.80" fill="none" stroke="#4a4a4a" stroke-width="1.35"/>
<path d="M305.60,172.90V176.10M334.12,172.90V174.50M362.65,172.90V176.10M391.18,172.90V174.50M419.70,172.90V176.10M448.23,172.90V174.50M476.75,172.90V176.10M505.27,172.90V174.50M533.80,172.90V176.10" stroke="#4a4a4a" stroke-width="1.1" fill="none"/>
<text x="305.60" y="187.50" font-family="'Liberation Serif', serif" font-weight="bold" font-size="10.6" text-anchor="middle" fill="#111">400</text>
<text x="362.65" y="187.50" font-family="'Liberation Serif', serif" font-weight="bold" font-size="10.6" text-anchor="middle" fill="#111">600</text>
<text x="419.70" y="187.50" font-family="'Liberation Serif', serif" font-weight="bold" font-size="10.6" text-anchor="middle" fill="#111">800</text>
<text x="476.75" y="187.50" font-family="'Liberation Serif', serif" font-weight="bold" font-size="10.6" text-anchor="middle" fill="#111">1000</text>
<text x="533.80" y="187.50" font-family="'Liberation Serif', serif" font-weight="bold" font-size="10.6" text-anchor="middle" fill="#111">1200</text>
<text x="419.70" y="205.50" font-family="'Liberation Serif', serif" font-weight="bold" font-size="14" text-anchor="middle" fill="#000">Raman shifts (cm<tspan font-size="9.6" dx="0.8" dy="-6.3">−1</tspan><tspan dy="6.3">)</tspan></text>
<rect x="26.4" y="223.6" width="228.40" height="167.60" fill="none" stroke="#4a4a4a" stroke-width="1.35"/>
<path d="M26.40,391.20V394.40M59.03,391.20V394.40M91.66,391.20V394.40M124.29,391.20V394.40M156.91,391.20V394.40M189.54,391.20V394.40M222.17,391.20V394.40M254.80,391.20V394.40" stroke="#4a4a4a" stroke-width="1.1" fill="none"/>
<text x="26.40" y="405.80" font-family="'Liberation Serif', serif" font-weight="bold" font-size="10.6" text-anchor="middle" fill="#111">400</text>
<text x="59.03" y="405.80" font-family="'Liberation Serif', serif" font-weight="bold" font-size="10.6" text-anchor="middle" fill="#111">600</text>
<text x="91.66" y="405.80" font-family="'Liberation Serif', serif" font-weight="bold" font-size="10.6" text-anchor="middle" fill="#111">800</text>
<text x="124.29" y="405.80" font-family="'Liberation Serif', serif" font-weight="bold" font-size="10.6" text-anchor="middle" fill="#111">1000</text>
<text x="156.91" y="405.80" font-family="'Liberation Serif', serif" font-weight="bold" font-size="10.6" text-anchor="middle" fill="#111">1200</text>
<text x="189.54" y="405.80" font-family="'Liberation Serif', serif" font-weight="bold" font-size="10.6" text-anchor="middle" fill="#111">1400</text>
<text x="222.17" y="405.80" font-family="'Liberation Serif', serif" font-weight="bold" font-size="10.6" text-anchor="middle" fill="#111">1600</text>
<text x="254.80" y="405.80" font-family="'Liberation Serif', serif" font-weight="bold" font-size="10.6" text-anchor="middle" fill="#111">1800</text>
<text x="140.60" y="423.80" font-family="'Liberation Serif', serif" font-weight="bold" font-size="14" text-anchor="middle" fill="#000">Raman shifts (cm<tspan font-size="9.6" dx="0.8" dy="-6.3">−1</tspan><tspan dy="6.3">)</tspan></text>
<rect x="305.4" y="223.1" width="228.50" height="167.50" fill="none" stroke="#4a4a4a" stroke-width="1.35"/>
<path d="M305.40,390.60V393.80M338.04,390.60V393.80M370.69,390.60V393.80M403.33,390.60V393.80M435.97,390.60V393.80M468.61,390.60V393.80M501.26,390.60V393.80M533.90,390.60V393.80" stroke="#4a4a4a" stroke-width="1.1" fill="none"/>
<text x="305.40" y="405.20" font-family="'Liberation Serif', serif" font-weight="bold" font-size="10.6" text-anchor="middle" fill="#111">400</text>
<text x="338.04" y="405.20" font-family="'Liberation Serif', serif" font-weight="bold" font-size="10.6" text-anchor="middle" fill="#111">600</text>
<text x="370.69" y="405.20" font-family="'Liberation Serif', serif" font-weight="bold" font-size="10.6" text-anchor="middle" fill="#111">800</text>
<text x="403.33" y="405.20" font-family="'Liberation Serif', serif" font-weight="bold" font-size="10.6" text-anchor="middle" fill="#111">1000</text>
<text x="435.97" y="405.20" font-family="'Liberation Serif', serif" font-weight="bold" font-size="10.6" text-anchor="middle" fill="#111">1200</text>
<text x="468.61" y="405.20" font-family="'Liberation Serif', serif" font-weight="bold" font-size="10.6" text-anchor="middle" fill="#111">1400</text>
<text x="501.26" y="405.20" font-family="'Liberation Serif', serif" font-weight="bold" font-size="10.6" text-anchor="middle" fill="#111">1600</text>
<text x="533.90" y="405.20" font-family="'Liberation Serif', serif" font-weight="bold" font-size="10.6" text-anchor="middle" fill="#111">1800</text>
<text x="419.65" y="423.20" font-family="'Liberation Serif', serif" font-weight="bold" font-size="14" text-anchor="middle" fill="#000">Raman shifts (cm<tspan font-size="9.6" dx="0.8" dy="-6.3">−1</tspan><tspan dy="6.3">)</tspan></text>
<text transform="translate(14.9,131.0) rotate(-90)" x="0" y="0" font-family="'Liberation Serif', serif" font-weight="bold" font-size="14.05" fill="#000">Intensity (a.u.)</text>
<text transform="translate(294.5,133.1) rotate(-90)" x="0" y="0" font-family="'Liberation Serif', serif" font-weight="bold" font-size="14.05" fill="#000">Intensity (a.u.)</text>
<text transform="translate(14.9,351.0) rotate(-90)" x="0" y="0" font-family="'Liberation Serif', serif" font-weight="bold" font-size="14.05" fill="#000">Intensity (a.u.)</text>
<text transform="translate(294.3,351.0) rotate(-90)" x="0" y="0" font-family="'Liberation Serif', serif" font-weight="bold" font-size="14.05" fill="#000">Intensity (a.u.)</text>
<text x="4.0" y="22.9" font-family="'Liberation Serif', serif" font-weight="bold" font-size="19.2" fill="#000">A</text>
<text x="284.5" y="23.0" font-family="'Liberation Serif', serif" font-weight="bold" font-size="19.2" fill="#000">B</text>
<text x="3.3" y="246.1" font-family="'Liberation Serif', serif" font-weight="bold" font-size="19.8" fill="#000">C</text>
<text x="284.3" y="245.8" font-family="'Liberation Serif', serif" font-weight="bold" font-size="19.2" fill="#000">D</text>
<text x="32.5" y="16.5" font-family="'Liberation Serif', serif" font-weight="bold" font-size="10.35" fill="#111" text-anchor="start">Adenine replaced by FAD on Ag films</text>
<text x="232.5" y="18.7" font-family="'Liberation Serif', serif" font-weight="bold" font-size="9.84" fill="#111" text-anchor="start">I/10</text>
<line x1="32.1" y1="26.6" x2="52.2" y2="26.6" stroke="#4a4a4a" stroke-width="1.6"/>
<text x="71.6" y="29.6" font-family="'Liberation Serif', serif" font-weight="bold" font-size="8.6" fill="#111" text-anchor="end">0 h</text>
<line x1="76.6" y1="26.6" x2="96.3" y2="26.6" stroke="#3277df" stroke-width="1.6"/>
<text x="98" y="29.6" font-family="'Liberation Serif', serif" font-weight="bold" font-size="8.6" fill="#111" text-anchor="start">1 h</text>
<line x1="113.7" y1="26.6" x2="133.4" y2="26.6" stroke="#b07be2" stroke-width="1.6"/>
<text x="135" y="29.6" font-family="'Liberation Serif', serif" font-weight="bold" font-size="8.6" fill="#111" text-anchor="start">4 h</text>
<line x1="32.1" y1="37.6" x2="51.7" y2="37.6" stroke="#ec4449" stroke-width="1.6"/>
<text x="71.6" y="40.4" font-family="'Liberation Serif', serif" font-weight="bold" font-size="8.6" fill="#111" text-anchor="end">0.5 h</text>
<line x1="76.6" y1="37.6" x2="96.3" y2="37.6" stroke="#3aa96f" stroke-width="1.6"/>
<text x="98" y="40.4" font-family="'Liberation Serif', serif" font-weight="bold" font-size="8.6" fill="#111" text-anchor="start">2 h</text>
<path d="M248.9,30.4V50.4M247.70000000000002,30.4H250.1M247.70000000000002,50.4H250.1" stroke="#333" stroke-width="1.3" fill="none"/>
<text x="245.9" y="43.6" font-family="'Liberation Serif', serif" font-weight="bold" font-size="8.3" fill="#111" text-anchor="end">2000</text>
<text x="67.7" y="56.8" font-family="'Liberation Serif', serif" font-weight="bold" font-size="8.8" fill="#111">730cm<tspan font-size="6.51" dx="1.14" dy="-3.87">−1</tspan></text>
<line x1="80.3" y1="60.9" x2="80.3" y2="170.5" stroke="#2a2a2a" stroke-width="1.1" stroke-dasharray="4.8 2 1 2.5"/>
<text x="311.1" y="17.7" font-family="'Liberation Serif', serif" font-weight="bold" font-size="10.48" fill="#111" text-anchor="start">ATP replaced by FAD on Ag films</text>
<line x1="311.1" y1="27.4" x2="331.2" y2="27.4" stroke="#4a4a4a" stroke-width="1.6"/>
<text x="332.9" y="30.3" font-family="'Liberation Serif', serif" font-weight="bold" font-size="8.6" fill="#111" text-anchor="start">0 min</text>
<line x1="358.5" y1="27.4" x2="378.1" y2="27.4" stroke="#3277df" stroke-width="1.6"/>
<text x="380.3" y="30.3" font-family="'Liberation Serif', serif" font-weight="bold" font-size="8.6" fill="#111" text-anchor="start">10 min</text>
<line x1="311.1" y1="38.2" x2="331.2" y2="38.2" stroke="#ec4449" stroke-width="1.6"/>
<text x="332.9" y="41.1" font-family="'Liberation Serif', serif" font-weight="bold" font-size="8.6" fill="#111" text-anchor="start">5 min</text>
<line x1="358.5" y1="38.2" x2="378.1" y2="38.2" stroke="#3aa96f" stroke-width="1.6"/>
<text x="380.3" y="41.1" font-family="'Liberation Serif', serif" font-weight="bold" font-size="8.6" fill="#111" text-anchor="start">20 min</text>
<path d="M526.7,14.4V28.8M525.5,14.4H527.9000000000001M525.5,28.8H527.9000000000001" stroke="#333" stroke-width="1.3" fill="none"/>
<text x="524.1" y="25.0" font-family="'Liberation Serif', serif" font-weight="bold" font-size="7.6" fill="#111" text-anchor="end">5000</text>
<text x="390.6" y="54.8" font-family="'Liberation Serif', serif" font-weight="bold" font-size="9.2" fill="#111">738cm<tspan font-size="6.81" dx="1.20" dy="-4.05">−1</tspan></text>
<line x1="401.6" y1="57.5" x2="401.6" y2="122" stroke="#2a2a2a" stroke-width="1.1" stroke-dasharray="4.8 2 1 2.5"/>
<line x1="399.5" y1="107" x2="399.5" y2="161" stroke="#2a2a2a" stroke-width="1.1" stroke-dasharray="4.8 2 1 2.5"/>
<rect x="453.6" y="69.8" width="16.6" height="90.7" fill="none" stroke="#c25ae2" stroke-width="1.5" stroke-dasharray="3.6 1.6 1.4 1.6 1.4 1.6"/>
<text x="385.2" y="169.3" font-family="'Liberation Serif', serif" font-weight="bold" font-size="9.2" fill="#111">730cm<tspan font-size="6.81" dx="1.20" dy="-4.05">−1</tspan></text>
<text x="448.6" y="170.0" font-family="'Liberation Serif', serif" font-weight="bold" font-size="9.2" fill="#111">950cm<tspan font-size="6.81" dx="1.20" dy="-4.05">−1</tspan></text>
<text x="31.5" y="234.3" font-family="'Liberation Serif', serif" font-weight="bold" font-size="9.53" fill="#111" text-anchor="start">FAD replaced by Adenine on Ag films</text>
<line x1="33.6" y1="244.8" x2="53.3" y2="244.8" stroke="#4a4a4a" stroke-width="1.6"/>
<text x="55.5" y="247.8" font-family="'Liberation Serif', serif" font-weight="bold" font-size="8.6" fill="#111" text-anchor="start">1 h</text>
<line x1="70.7" y1="244.8" x2="90.4" y2="244.8" stroke="#ec4449" stroke-width="1.6"/>
<text x="92.5" y="247.8" font-family="'Liberation Serif', serif" font-weight="bold" font-size="8.6" fill="#111" text-anchor="start">2 h</text>
<line x1="107.8" y1="244.8" x2="127.5" y2="244.8" stroke="#3277df" stroke-width="1.6"/>
<text x="129.6" y="247.8" font-family="'Liberation Serif', serif" font-weight="bold" font-size="8.6" fill="#111" text-anchor="start">4 h</text>
<path d="M247.8,229.6V243M246.60000000000002,229.6H249.0M246.60000000000002,243H249.0" stroke="#333" stroke-width="1.3" fill="none"/>
<text x="243" y="239.4" font-family="'Liberation Serif', serif" font-weight="bold" font-size="8.87" fill="#111" text-anchor="end">10,000</text>
<text x="70.3" y="273.3" font-family="'Liberation Serif', serif" font-weight="bold" font-size="9.1" fill="#111">738cm<tspan font-size="6.73" dx="1.18" dy="-4.00">−1</tspan></text>
<line x1="81.4" y1="276.5" x2="81.4" y2="390.5" stroke="#2a2a2a" stroke-width="1.1" stroke-dasharray="4.8 2 1 2.5"/>
<text x="311.1" y="235.5" font-family="'Liberation Serif', serif" font-weight="bold" font-size="9.6" fill="#111" text-anchor="start">FAD replaced by ATP on Ag films</text>
<line x1="311.1" y1="244.9" x2="330.7" y2="244.9" stroke="#4a4a4a" stroke-width="1.6"/>
<text x="332.9" y="247.9" font-family="'Liberation Serif', serif" font-weight="bold" font-size="8.6" fill="#111" text-anchor="start">1 h</text>
<line x1="348.6" y1="244.9" x2="368.3" y2="244.9" stroke="#ec4449" stroke-width="1.6"/>
<text x="370.5" y="247.9" font-family="'Liberation Serif', serif" font-weight="bold" font-size="8.6" fill="#111" text-anchor="start">2 h</text>
<line x1="386.2" y1="244.9" x2="405.8" y2="244.9" stroke="#3277df" stroke-width="1.6"/>
<text x="408" y="247.9" font-family="'Liberation Serif', serif" font-weight="bold" font-size="8.6" fill="#111" text-anchor="start">4 h</text>
<path d="M527.4,228.6V242.7M526.1999999999999,228.6H528.6M526.1999999999999,242.7H528.6" stroke="#333" stroke-width="1.3" fill="none"/>
<text x="521.9" y="238.4" font-family="'Liberation Serif', serif" font-weight="bold" font-size="8.87" fill="#111" text-anchor="end">10,000</text>
<text x="350.6" y="265.7" font-family="'Liberation Serif', serif" font-weight="bold" font-size="9.1" fill="#111">738cm<tspan font-size="6.73" dx="1.18" dy="-4.00">−1</tspan></text>
<line x1="361" y1="268.5" x2="361" y2="390" stroke="#2a2a2a" stroke-width="1.1" stroke-dasharray="4.8 2 1 2.5"/>
</svg></body></html>
